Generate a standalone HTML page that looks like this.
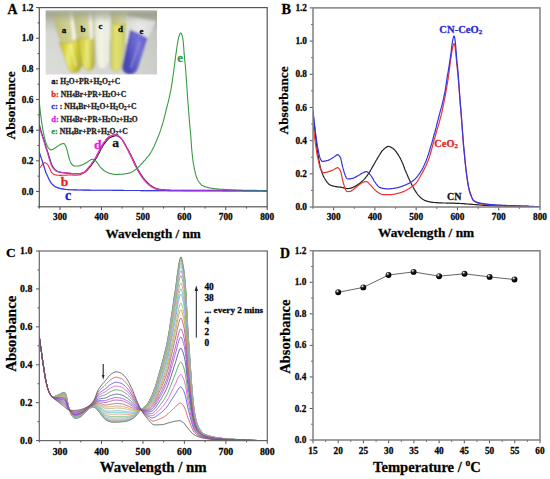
<!DOCTYPE html>
<html><head><meta charset="utf-8"><style>html,body{margin:0;padding:0;background:#fff;}svg{display:block;}text{stroke-width:0.28px;}</style></head>
<body><svg width="550" height="479" viewBox="0 0 550 479">
<rect width="550" height="479" fill="#fff"/>
<defs>
<linearGradient id="bg" x1="0" y1="0" x2="0" y2="1"><stop offset="0" stop-color="#a4a698"/><stop offset="0.18" stop-color="#b4b6aa"/><stop offset="0.35" stop-color="#cfd1cb"/><stop offset="1" stop-color="#d6d8d4"/></linearGradient>
<linearGradient id="bgx" x1="0" y1="0" x2="1" y2="0"><stop offset="0" stop-color="#ffffff" stop-opacity="0.15"/><stop offset="0.5" stop-color="#ffffff" stop-opacity="0"/><stop offset="1" stop-color="#000" stop-opacity="0.05"/></linearGradient>
<linearGradient id="yelA" x1="0" y1="0" x2="1" y2="0.25"><stop offset="0" stop-color="#bab630"/><stop offset="0.28" stop-color="#dad636"/><stop offset="0.5" stop-color="#ecea7c"/><stop offset="0.68" stop-color="#deda3c"/><stop offset="1" stop-color="#b6b236"/></linearGradient>
<linearGradient id="yelB" x1="0" y1="0" x2="1" y2="0.15"><stop offset="0" stop-color="#c2be40"/><stop offset="0.4" stop-color="#dcd84a"/><stop offset="0.6" stop-color="#e8e676"/><stop offset="1" stop-color="#bab640"/></linearGradient>
<linearGradient id="yelD" x1="0" y1="0" x2="1" y2="0"><stop offset="0" stop-color="#cccc66"/><stop offset="0.35" stop-color="#e2e272"/><stop offset="0.7" stop-color="#d6d66a"/><stop offset="1" stop-color="#acac5c"/></linearGradient>
<linearGradient id="whC" x1="0" y1="0" x2="1" y2="0"><stop offset="0" stop-color="#e6e6d4"/><stop offset="0.5" stop-color="#f4f4e8"/><stop offset="1" stop-color="#dcdccc"/></linearGradient>
<linearGradient id="bluE" x1="0" y1="0" x2="1" y2="-0.3"><stop offset="0" stop-color="#4a48b4"/><stop offset="0.3" stop-color="#6462cc"/><stop offset="0.55" stop-color="#7472d8"/><stop offset="0.8" stop-color="#6260cc"/><stop offset="1" stop-color="#5654bc"/></linearGradient>
<linearGradient id="up" x1="0" y1="0" x2="1" y2="0"><stop offset="0" stop-color="#bcbc7e"/><stop offset="0.4" stop-color="#caca88"/><stop offset="0.62" stop-color="#d2d298"/><stop offset="0.8" stop-color="#d6d6a8"/><stop offset="1" stop-color="#c2c28a"/></linearGradient>
<linearGradient id="topband" x1="0" y1="0" x2="0" y2="1"><stop offset="0" stop-color="#c8c8c0" stop-opacity="0.85"/><stop offset="0.12" stop-color="#b4b6aa" stop-opacity="0.7"/><stop offset="0.35" stop-color="#9a9c8a" stop-opacity="0.7"/><stop offset="0.6" stop-color="#a4a692" stop-opacity="0.45"/><stop offset="1" stop-color="#b0b2a0" stop-opacity="0"/></linearGradient>
<linearGradient id="upE" x1="0" y1="0" x2="1" y2="0"><stop offset="0" stop-color="#d4d4d0"/><stop offset="0.5" stop-color="#e8e8e8"/><stop offset="1" stop-color="#d8d8d8"/></linearGradient>
<filter id="soft" x="-5%" y="-5%" width="110%" height="110%"><feGaussianBlur stdDeviation="0.85"/></filter>
<clipPath id="clipPhoto"><rect x="45.6" y="10.3" width="111.4" height="64.3"/></clipPath>
</defs>
<g clip-path="url(#clipPhoto)"><g filter="url(#soft)">
<rect x="44" y="9" width="115" height="67" fill="url(#bg)"/>
<rect x="44" y="9" width="115" height="67" fill="url(#bgx)"/>
<!-- tube a -->
<path d="M52,12 L79,12 L78.5,34 L82,63 Q81,72.8 74.5,72.6 Q68.5,72.3 67.5,66 L59.5,40 L54,24 Z" fill="url(#up)"/>
<path d="M59.2,42.5 Q68,44.5 77.5,40 L82,63 Q81,72.8 74.5,72.6 Q68.5,72.3 67.5,66 Z" fill="url(#yelA)" stroke="#a09c34" stroke-width="0.8" stroke-opacity="0.6"/>
<path d="M70.5,44 L76,66" stroke="#f6f4b0" stroke-width="1.3" opacity="0.8"/>
<path d="M71.5,12 L74,40" stroke="#f6f6ee" stroke-width="3.2" opacity="0.9"/>
<!-- tube b -->
<path d="M73,12 L93,12 L94,36 L95,63 Q94.3,70.6 88.6,70.4 Q83,70.2 82.2,64 L77.5,36 L74,22 Z" fill="url(#up)"/>
<path d="M77.3,38 Q85,39.5 94,37 L95,63 Q94.3,70.6 88.6,70.4 Q83,70.2 82.2,64 Z" fill="url(#yelB)" stroke="#a09c38" stroke-width="0.8" stroke-opacity="0.6"/>
<path d="M86,42 L89.5,66" stroke="#f2f0b0" stroke-width="1" opacity="0.6"/>
<!-- tube c -->
<path d="M94,12 L110,12 L109.5,38 L108.5,61 Q107.6,68.6 102.6,68.4 Q97.8,68.2 97.4,61.5 L95.5,38 Z" fill="url(#whC)"/>
<path d="M107,12 L107.5,62" stroke="#fbfbf4" stroke-width="1.6" opacity="0.7"/>
<!-- highlight between c and d -->
<path d="M108.5,14 L111,14 L110.5,40 L109,40 Z" fill="#f4f4ee" opacity="0.8"/>
<!-- tube d -->
<path d="M111,12 L128,12 L126,36 L121.5,64 Q120.2,71.5 115.6,71.2 Q110.8,70.8 110.6,64 L111,36 Z" fill="url(#up)"/>
<path d="M111,24 Q118,26 127,23 L126,36 L121.5,64 Q120.2,71.5 115.6,71.2 Q110.8,70.8 110.6,64 L111,36 Z" fill="url(#yelD)" stroke="#a0a048" stroke-width="0.8" stroke-opacity="0.5"/>
<path d="M126,16 L131,16 L128,44 L125,44 Z" fill="#f0f0ec" opacity="0.7"/>
<path d="M88.5,12 L92.5,12 L93,39 L90,39 Z" fill="#f6f6ee" opacity="0.85"/>
<!-- tube e -->
<path d="M128,16 L156,21 L148,38.5 L137.5,69 Q135,75.5 127.5,74 Q121.5,72.5 122.5,66 L129.5,30 Z" fill="url(#upE)"/>
<path d="M130.2,30.2 Q139,33 147.2,38.4 L137.5,69 Q135,75.5 127.5,74 Q121.5,72.5 122.5,66 Z" fill="url(#bluE)" stroke="#3e3c9c" stroke-width="0.8" stroke-opacity="0.5"/>
<path d="M139.5,41.5 L130.8,68" stroke="#b0b0ec" stroke-width="1" opacity="0.8"/>
<rect x="44" y="9" width="115" height="14" fill="url(#topband)"/>
</g></g>
<text x="64" y="32.6" text-anchor="middle" font-size="9" font-family="Liberation Serif" font-weight="bold" stroke="#111">a</text>
<text x="83" y="32.2" text-anchor="middle" font-size="9" font-family="Liberation Serif" font-weight="bold" stroke="#111">b</text>
<text x="100.6" y="29.2" text-anchor="middle" font-size="9" font-family="Liberation Serif" font-weight="bold" stroke="#111">c</text>
<text x="120.4" y="32.2" text-anchor="middle" font-size="9" font-family="Liberation Serif" font-weight="bold" stroke="#111">d</text>
<text x="141.4" y="33.6" text-anchor="middle" font-size="9" font-family="Liberation Serif" font-weight="bold" stroke="#111">e</text>
<text x="51.2" y="84.0" font-size="8.6" font-family="Liberation Serif" font-weight="bold" stroke="#111"><tspan fill="#111" stroke="#111">a:</tspan><tspan font-size="7.6" fill="#222" stroke="#222"> H<tspan font-size="5.2" dy="0.5">2</tspan><tspan dy="-0.5">O+PR+H</tspan><tspan font-size="5.2" dy="0.5">2</tspan><tspan dy="-0.5">O</tspan><tspan font-size="5.2" dy="0.5">2</tspan><tspan dy="-0.5">+C</tspan></tspan></text>
<text x="51.2" y="96.8" font-size="8.6" font-family="Liberation Serif" font-weight="bold" stroke="#111"><tspan fill="#e8252a" stroke="#e8252a">b:</tspan><tspan font-size="7.6" fill="#222" stroke="#222"> NH<tspan font-size="5.2" dy="0.5">4</tspan><tspan dy="-0.5">Br+PR+H</tspan><tspan font-size="5.2" dy="0.5">2</tspan><tspan dy="-0.5">O+C</tspan></tspan></text>
<text x="51.2" y="109.2" font-size="8.6" font-family="Liberation Serif" font-weight="bold" stroke="#111"><tspan fill="#1e2ee8" stroke="#1e2ee8">c:</tspan><tspan font-size="7.6" fill="#222" stroke="#222"> : NH<tspan font-size="5.2" dy="0.5">4</tspan><tspan dy="-0.5">Br+H</tspan><tspan font-size="5.2" dy="0.5">2</tspan><tspan dy="-0.5">O+H</tspan><tspan font-size="5.2" dy="0.5">2</tspan><tspan dy="-0.5">O</tspan><tspan font-size="5.2" dy="0.5">2</tspan><tspan dy="-0.5">+C</tspan></tspan></text>
<text x="51.2" y="121.6" font-size="8.6" font-family="Liberation Serif" font-weight="bold" stroke="#111"><tspan fill="#e020e8" stroke="#e020e8">d:</tspan><tspan font-size="7.6" fill="#222" stroke="#222"> NH<tspan font-size="5.2" dy="0.5">4</tspan><tspan dy="-0.5">Br+PR+H</tspan><tspan font-size="5.2" dy="0.5">2</tspan><tspan dy="-0.5">O</tspan><tspan font-size="5.2" dy="0.5">2</tspan><tspan dy="-0.5">+H</tspan><tspan font-size="5.2" dy="0.5">2</tspan><tspan dy="-0.5">O</tspan></tspan></text>
<text x="51.2" y="134.3" font-size="8.6" font-family="Liberation Serif" font-weight="bold" stroke="#111"><tspan fill="#2a9a3a" stroke="#2a9a3a">e:</tspan><tspan font-size="7.6" fill="#222" stroke="#222"> NH<tspan font-size="5.2" dy="0.5">4</tspan><tspan dy="-0.5">Br+PR+H</tspan><tspan font-size="5.2" dy="0.5">2</tspan><tspan dy="-0.5">O</tspan><tspan font-size="5.2" dy="0.5">2</tspan><tspan dy="-0.5">+C</tspan></tspan></text>
<g clip-path="url(#clipA)">
<path d="M39.3,151.9 39.7,153.3 40.1,154.6 40.5,155.9 41.0,157.1 41.4,158.4 41.8,159.6 42.2,160.8 42.6,162.0 43.0,163.3 43.4,164.6 43.9,166.1 44.3,167.5 44.7,168.8 45.1,170.1 45.5,171.3 45.9,172.5 46.3,173.5 46.8,174.5 47.2,175.4 47.6,176.3 48.0,177.1 48.4,178.0 48.8,178.9 49.2,179.8 49.7,180.6 50.1,181.4 50.5,182.0 50.9,182.6 51.3,183.1 51.7,183.6 52.1,184.1 52.6,184.6 53.0,185.0 53.4,185.3 53.8,185.7 54.2,185.9 54.6,186.2 55.0,186.5 55.5,186.7 55.9,186.9 56.3,187.1 56.7,187.3 57.1,187.5 57.5,187.7 57.9,187.8 58.4,188.0 58.8,188.1 59.2,188.2 59.6,188.3 60.0,188.4 60.4,188.5 60.8,188.6 61.3,188.7 61.7,188.8 62.1,188.9 62.5,188.9 62.9,189.0 63.3,189.1 63.7,189.1 64.2,189.2 64.6,189.3 65.0,189.3 65.4,189.4 65.8,189.4 66.2,189.5 66.6,189.5 67.1,189.5 67.5,189.5 67.9,189.6 68.3,189.6 68.7,189.6 69.1,189.7 69.5,189.7 70.0,189.7 70.4,189.7 70.8,189.7 71.2,189.8 71.6,189.8 72.0,189.8 72.4,189.8 72.9,189.8 73.3,189.8 73.7,189.9 74.1,189.9 74.5,189.9 74.9,189.9 75.3,189.9 75.8,189.9 76.2,189.9 76.6,189.9 77.0,190.0 77.4,190.0 77.8,190.0 78.3,190.0 78.7,190.0 79.1,190.0 79.5,190.0 79.9,190.0 80.3,190.0 80.7,190.0 81.2,190.0 81.6,190.0 82.0,190.0 82.4,190.0 82.8,190.1 83.2,190.1 83.6,190.1 84.1,190.1 84.5,190.1 84.9,190.1 85.3,190.1 85.7,190.1 86.1,190.1 86.5,190.1 87.0,190.1 87.4,190.1 87.8,190.1 88.2,190.1 88.6,190.1 89.0,190.1 89.4,190.1 89.9,190.1 90.3,190.1 90.7,190.2 91.1,190.2 91.5,190.2 91.9,190.2 92.3,190.2 92.8,190.2 93.2,190.2 93.6,190.2 94.0,190.2 94.4,190.2 94.8,190.2 95.2,190.2 95.7,190.2 96.1,190.2 96.5,190.2 96.9,190.2 97.3,190.2 97.7,190.2 98.1,190.2 98.6,190.2 99.0,190.2 99.4,190.2 99.8,190.2 100.2,190.2 100.6,190.2 101.0,190.2 101.5,190.3 101.9,190.3 102.3,190.3 102.7,190.3 103.1,190.3 103.5,190.3 103.9,190.3 104.4,190.3 104.8,190.3 105.2,190.3 105.6,190.3 106.0,190.3 106.4,190.3 106.8,190.3 107.3,190.3 107.7,190.3 108.1,190.3 108.5,190.3 108.9,190.3 109.3,190.3 109.7,190.3 110.2,190.3 110.6,190.3 111.0,190.3 111.4,190.3 111.8,190.3 112.2,190.4 112.6,190.4 113.1,190.4 113.5,190.4 113.9,190.4 114.3,190.4 114.7,190.4 115.1,190.4 115.5,190.4 116.0,190.4 116.4,190.4 116.8,190.4 117.2,190.4 117.6,190.4 118.0,190.4 118.4,190.4 118.9,190.4 119.3,190.4 119.7,190.4 120.1,190.4 120.5,190.4 120.9,190.4 121.3,190.4 121.8,190.4 122.2,190.4 122.6,190.4 123.0,190.4 123.4,190.4 123.8,190.5 124.2,190.5 124.7,190.5 125.1,190.5 125.5,190.5 125.9,190.5 126.3,190.5 126.7,190.5 127.1,190.5 127.6,190.5 128.0,190.5 128.4,190.5 128.8,190.5 129.2,190.5 129.6,190.5 130.0,190.5 130.5,190.5 130.9,190.5 131.3,190.5 131.7,190.5 132.1,190.5 132.5,190.5 132.9,190.5 133.4,190.5 133.8,190.5 134.2,190.5 134.6,190.5 135.0,190.5 135.4,190.5 135.8,190.5 136.3,190.5 136.7,190.5 137.1,190.5 137.5,190.5 137.9,190.5 138.3,190.5 138.7,190.5 139.2,190.5 139.6,190.5 140.0,190.5 140.4,190.5 140.8,190.6 141.2,190.6 141.6,190.6 142.1,190.6 142.5,190.6 142.9,190.6 143.3,190.6 143.7,190.6 144.1,190.6 144.5,190.6 145.0,190.6 145.4,190.6 145.8,190.6 146.2,190.6 146.6,190.6 147.0,190.6 147.4,190.6 147.9,190.6 148.3,190.6 148.7,190.6 149.1,190.6 149.5,190.6 149.9,190.6 150.3,190.6 150.8,190.6 151.2,190.6 151.6,190.6 152.0,190.6 152.4,190.6 152.8,190.6 153.2,190.6 153.7,190.6 154.1,190.6 154.5,190.6 154.9,190.6 155.3,190.6 155.7,190.6 156.2,190.6 156.6,190.6 157.0,190.6 157.4,190.6 157.8,190.6 158.2,190.6 158.6,190.6 159.1,190.6 159.5,190.6 159.9,190.6 160.3,190.6 160.7,190.6 161.1,190.6 161.5,190.6 162.0,190.6 162.4,190.6 162.8,190.6 163.2,190.6 163.6,190.6 164.0,190.6 164.4,190.6 164.9,190.6 165.3,190.6 165.7,190.6 166.1,190.6 166.5,190.6 166.9,190.6 167.3,190.6 167.8,190.6 168.2,190.6 168.6,190.6 169.0,190.6 169.4,190.6 169.8,190.6 170.2,190.6 170.7,190.6 171.1,190.6 171.5,190.6 171.9,190.6 172.3,190.6 172.7,190.6 173.1,190.6 173.6,190.6 174.0,190.6 174.4,190.6 174.8,190.6 175.2,190.6 175.6,190.6 176.0,190.6 176.5,190.6 176.9,190.6 177.3,190.6 177.7,190.6 178.1,190.6 178.5,190.6 178.9,190.6 179.4,190.6 179.8,190.6 180.2,190.6 180.6,190.6 181.0,190.6 181.4,190.6 181.8,190.6 182.3,190.6 182.7,190.6 183.1,190.6 183.5,190.6 183.9,190.6 184.3,190.6 184.7,190.6 185.2,190.6 185.6,190.6 186.0,190.6 186.4,190.6 186.8,190.6 187.2,190.6 187.6,190.6 188.1,190.6 188.5,190.6 188.9,190.6 189.3,190.6 189.7,190.6 190.1,190.6 190.5,190.6 191.0,190.6 191.4,190.6 191.8,190.7 192.2,190.7 192.6,190.7 193.0,190.7 193.4,190.7 193.9,190.7 194.3,190.7 194.7,190.7 195.1,190.7 195.5,190.7 195.9,190.7 196.3,190.7 196.8,190.7 197.2,190.7 197.6,190.7 198.0,190.7 198.4,190.7 198.8,190.7 199.2,190.7 199.7,190.7 200.1,190.7 200.5,190.7 200.9,190.7 201.3,190.7 201.7,190.7 202.1,190.7 202.6,190.7 203.0,190.7 203.4,190.7 203.8,190.7 204.2,190.7 204.6,190.7 205.0,190.7 205.5,190.7 205.9,190.7 206.3,190.7 206.7,190.7 207.1,190.7 207.5,190.7 207.9,190.7 208.4,190.7 208.8,190.7 209.2,190.7 209.6,190.7 210.0,190.7 210.4,190.7 210.8,190.7 211.3,190.7 211.7,190.7 212.1,190.7 212.5,190.7 212.9,190.7 213.3,190.7 213.7,190.7 214.2,190.7 214.6,190.7 215.0,190.7 215.4,190.7 215.8,190.7 216.2,190.7 216.6,190.7 217.1,190.7 217.5,190.7 217.9,190.7 218.3,190.7 218.7,190.7 219.1,190.7 219.5,190.7 220.0,190.7 220.4,190.7 220.8,190.7 221.2,190.7 221.6,190.7 222.0,190.7 222.4,190.7 222.9,190.7 223.3,190.7 223.7,190.7 224.1,190.7 224.5,190.7 224.9,190.7 225.3,190.7 225.8,190.7 226.2,190.7 226.6,190.7 227.0,190.7 227.4,190.7 227.8,190.7 228.2,190.7 228.7,190.7 229.1,190.7 229.5,190.7 229.9,190.7 230.3,190.7 230.7,190.8 231.2,190.8 231.6,190.8 232.0,190.8 232.4,190.8 232.8,190.8 233.2,190.8 233.6,190.8 234.1,190.8 234.5,190.8 234.9,190.8 235.3,190.8 235.7,190.8 236.1,190.8 236.5,190.8 237.0,190.8 237.4,190.8 237.8,190.8 238.2,190.8 238.6,190.8 239.0,190.8 239.4,190.8 239.9,190.8 240.3,190.8 240.7,190.8 241.1,190.8 241.5,190.8 241.9,190.8 242.3,190.8 242.8,190.8 243.2,190.8 243.6,190.8 244.0,190.8 244.4,190.8 244.8,190.8 245.2,190.8 245.7,190.8 246.1,190.8 246.5,190.8 246.9,190.8 247.3,190.8 247.7,190.8 248.1,190.8 248.6,190.8 249.0,190.8 249.4,190.8 249.8,190.8 250.2,190.8 250.6,190.8 251.0,190.8 251.5,190.8 251.9,190.8 252.3,190.8 252.7,190.8 253.1,190.8 253.5,190.8 253.9,190.8 254.4,190.8 254.8,190.8 255.2,190.8 255.6,190.8 256.0,190.8 256.4,190.8 256.8,190.8 257.3,190.8 257.7,190.8 258.1,190.8 258.5,190.8 258.9,190.8 259.3,190.8 259.7,190.8 260.2,190.8 260.6,190.8 261.0,190.8 261.4,190.8 261.8,190.8 262.2,190.8 262.6,190.8 263.1,190.9 263.5,190.9 263.9,190.9 264.3,190.9 264.7,190.9 265.1,190.9 265.5,190.9 266.0,190.9 266.4,190.9 266.8,190.9 267.2,190.9" fill="none" stroke="#3a3ae8" stroke-width="1.1" stroke-linejoin="round" />
<path d="M39.3,124.3 39.7,126.0 40.1,127.7 40.5,129.3 41.0,130.9 41.4,132.4 41.8,133.8 42.2,135.0 42.6,136.2 43.0,137.3 43.4,138.5 43.9,139.7 44.3,141.1 44.7,142.5 45.1,143.9 45.5,145.3 45.9,146.6 46.3,147.9 46.8,149.1 47.2,150.4 47.6,151.6 48.0,152.9 48.4,154.2 48.8,155.6 49.2,157.0 49.7,158.3 50.1,159.6 50.5,160.9 50.9,162.3 51.3,163.6 51.7,164.7 52.1,165.6 52.6,166.4 53.0,167.0 53.4,167.6 53.8,168.2 54.2,168.7 54.6,169.2 55.0,169.6 55.5,170.1 55.9,170.5 56.3,170.8 56.7,171.1 57.1,171.3 57.5,171.5 57.9,171.7 58.4,171.8 58.8,171.9 59.2,172.0 59.6,172.1 60.0,172.2 60.4,172.3 60.8,172.4 61.3,172.4 61.7,172.5 62.1,172.6 62.5,172.6 62.9,172.7 63.3,172.8 63.7,172.8 64.2,172.8 64.6,172.9 65.0,172.9 65.4,173.0 65.8,173.0 66.2,173.0 66.6,173.1 67.1,173.1 67.5,173.1 67.9,173.1 68.3,173.2 68.7,173.2 69.1,173.2 69.5,173.3 70.0,173.3 70.4,173.4 70.8,173.4 71.2,173.5 71.6,173.5 72.0,173.6 72.4,173.6 72.9,173.7 73.3,173.7 73.7,173.7 74.1,173.8 74.5,173.8 74.9,173.8 75.3,173.8 75.8,173.8 76.2,173.8 76.6,173.8 77.0,173.8 77.4,173.8 77.8,173.8 78.3,173.8 78.7,173.8 79.1,173.7 79.5,173.7 79.9,173.7 80.3,173.6 80.7,173.6 81.2,173.5 81.6,173.4 82.0,173.3 82.4,173.2 82.8,173.1 83.2,172.9 83.6,172.8 84.1,172.6 84.5,172.4 84.9,172.2 85.3,171.9 85.7,171.5 86.1,171.1 86.5,170.7 87.0,170.3 87.4,169.9 87.8,169.4 88.2,168.9 88.6,168.5 89.0,168.0 89.4,167.5 89.9,167.1 90.3,166.6 90.7,166.1 91.1,165.6 91.5,165.0 91.9,164.5 92.3,163.9 92.8,163.3 93.2,162.7 93.6,162.1 94.0,161.5 94.4,160.9 94.8,160.3 95.2,159.7 95.7,159.1 96.1,158.4 96.5,157.7 96.9,157.0 97.3,156.3 97.7,155.5 98.1,154.8 98.6,154.0 99.0,153.2 99.4,152.4 99.8,151.6 100.2,150.8 100.6,150.0 101.0,149.2 101.5,148.4 101.9,147.7 102.3,146.9 102.7,146.2 103.1,145.5 103.5,144.9 103.9,144.3 104.4,143.7 104.8,143.2 105.2,142.7 105.6,142.1 106.0,141.6 106.4,141.1 106.8,140.6 107.3,140.1 107.7,139.6 108.1,139.2 108.5,138.8 108.9,138.4 109.3,138.1 109.7,137.8 110.2,137.5 110.6,137.3 111.0,137.2 111.4,137.0 111.8,136.8 112.2,136.7 112.6,136.5 113.1,136.4 113.5,136.2 113.9,136.1 114.3,136.0 114.7,135.9 115.1,135.8 115.5,135.8 116.0,135.8 116.4,135.7 116.8,135.8 117.2,135.9 117.6,136.0 118.0,136.2 118.4,136.4 118.9,136.7 119.3,137.0 119.7,137.3 120.1,137.6 120.5,137.9 120.9,138.2 121.3,138.6 121.8,139.0 122.2,139.5 122.6,140.1 123.0,140.7 123.4,141.3 123.8,142.0 124.2,142.8 124.7,143.5 125.1,144.2 125.5,145.0 125.9,145.8 126.3,146.5 126.7,147.3 127.1,148.0 127.6,148.7 128.0,149.5 128.4,150.2 128.8,151.0 129.2,151.8 129.6,152.6 130.0,153.4 130.5,154.2 130.9,155.0 131.3,155.8 131.7,156.7 132.1,157.5 132.5,158.3 132.9,159.2 133.4,160.1 133.8,160.9 134.2,161.8 134.6,162.7 135.0,163.5 135.4,164.4 135.8,165.2 136.3,166.1 136.7,166.9 137.1,167.7 137.5,168.5 137.9,169.3 138.3,170.1 138.7,170.8 139.2,171.5 139.6,172.2 140.0,172.8 140.4,173.5 140.8,174.1 141.2,174.8 141.6,175.4 142.1,176.0 142.5,176.6 142.9,177.2 143.3,177.8 143.7,178.3 144.1,178.9 144.5,179.4 145.0,179.9 145.4,180.3 145.8,180.8 146.2,181.2 146.6,181.7 147.0,182.1 147.4,182.5 147.9,182.9 148.3,183.3 148.7,183.7 149.1,184.1 149.5,184.4 149.9,184.8 150.3,185.1 150.8,185.4 151.2,185.7 151.6,186.0 152.0,186.2 152.4,186.5 152.8,186.7 153.2,187.0 153.7,187.2 154.1,187.4 154.5,187.7 154.9,187.9 155.3,188.1 155.7,188.2 156.2,188.4 156.6,188.5 157.0,188.7 157.4,188.8 157.8,188.9 158.2,189.0 158.6,189.1 159.1,189.2 159.5,189.2 159.9,189.3 160.3,189.4 160.7,189.5 161.1,189.5 161.5,189.6 162.0,189.6 162.4,189.7 162.8,189.7 163.2,189.8 163.6,189.8 164.0,189.9 164.4,189.9 164.9,189.9 165.3,190.0 165.7,190.0 166.1,190.0 166.5,190.0 166.9,190.1 167.3,190.1 167.8,190.1 168.2,190.1 168.6,190.1 169.0,190.1 169.4,190.1 169.8,190.1 170.2,190.2 170.7,190.2 171.1,190.2 171.5,190.2 171.9,190.2 172.3,190.2 172.7,190.2 173.1,190.2 173.6,190.2 174.0,190.2 174.4,190.2 174.8,190.2 175.2,190.2 175.6,190.2 176.0,190.2 176.5,190.2 176.9,190.2 177.3,190.2 177.7,190.2 178.1,190.2 178.5,190.2 178.9,190.2 179.4,190.2 179.8,190.2 180.2,190.2 180.6,190.3 181.0,190.3 181.4,190.3 181.8,190.3 182.3,190.3 182.7,190.3 183.1,190.3 183.5,190.3 183.9,190.3 184.3,190.3 184.7,190.3 185.2,190.3 185.6,190.3 186.0,190.3 186.4,190.3 186.8,190.3 187.2,190.3 187.6,190.3 188.1,190.3 188.5,190.3 188.9,190.3 189.3,190.3 189.7,190.3 190.1,190.3 190.5,190.3 191.0,190.3 191.4,190.3 191.8,190.3 192.2,190.3 192.6,190.3 193.0,190.3 193.4,190.3 193.9,190.3 194.3,190.3 194.7,190.3 195.1,190.3 195.5,190.3 195.9,190.3 196.3,190.3 196.8,190.3 197.2,190.3 197.6,190.3 198.0,190.3 198.4,190.3 198.8,190.3 199.2,190.3 199.7,190.3 200.1,190.3 200.5,190.3 200.9,190.3 201.3,190.3 201.7,190.3 202.1,190.3 202.6,190.3 203.0,190.3 203.4,190.3 203.8,190.3 204.2,190.3 204.6,190.3 205.0,190.3 205.5,190.3 205.9,190.3 206.3,190.4 206.7,190.4 207.1,190.4 207.5,190.4 207.9,190.4 208.4,190.4 208.8,190.4 209.2,190.4 209.6,190.4 210.0,190.4 210.4,190.4 210.8,190.4 211.3,190.4 211.7,190.4 212.1,190.4 212.5,190.4 212.9,190.4 213.3,190.4 213.7,190.4 214.2,190.4 214.6,190.4 215.0,190.4 215.4,190.4 215.8,190.4 216.2,190.4 216.6,190.4 217.1,190.4 217.5,190.4 217.9,190.4 218.3,190.4 218.7,190.4 219.1,190.4 219.5,190.4 220.0,190.4 220.4,190.4 220.8,190.4 221.2,190.4 221.6,190.4 222.0,190.4 222.4,190.4 222.9,190.4 223.3,190.4 223.7,190.4 224.1,190.4 224.5,190.4 224.9,190.4 225.3,190.4 225.8,190.4 226.2,190.4 226.6,190.4 227.0,190.4 227.4,190.4 227.8,190.4 228.2,190.4 228.7,190.4 229.1,190.4 229.5,190.4 229.9,190.4 230.3,190.4 230.7,190.4 231.2,190.5 231.6,190.5 232.0,190.5 232.4,190.5 232.8,190.5 233.2,190.5 233.6,190.5 234.1,190.5 234.5,190.5 234.9,190.5 235.3,190.5 235.7,190.5 236.1,190.5 236.5,190.5 237.0,190.5 237.4,190.5 237.8,190.5 238.2,190.5 238.6,190.5 239.0,190.5 239.4,190.5 239.9,190.5 240.3,190.5 240.7,190.5 241.1,190.5 241.5,190.5 241.9,190.5 242.3,190.5 242.8,190.6 243.2,190.6 243.6,190.6 244.0,190.6 244.4,190.6 244.8,190.6 245.2,190.6 245.7,190.6 246.1,190.6 246.5,190.6 246.9,190.6 247.3,190.6 247.7,190.6 248.1,190.6 248.6,190.6 249.0,190.6 249.4,190.6 249.8,190.6 250.2,190.6 250.6,190.6 251.0,190.6 251.5,190.7 251.9,190.7 252.3,190.7 252.7,190.7 253.1,190.7 253.5,190.7 253.9,190.7 254.4,190.7 254.8,190.7 255.2,190.7 255.6,190.7 256.0,190.7 256.4,190.7 256.8,190.7 257.3,190.7 257.7,190.7 258.1,190.7 258.5,190.7 258.9,190.7 259.3,190.8 259.7,190.8 260.2,190.8 260.6,190.8 261.0,190.8 261.4,190.8 261.8,190.8 262.2,190.8 262.6,190.8 263.1,190.8 263.5,190.8 263.9,190.8 264.3,190.8 264.7,190.8 265.1,190.8 265.5,190.8 266.0,190.8 266.4,190.9 266.8,190.9 267.2,190.9" fill="none" stroke="#222" stroke-width="1.1" stroke-linejoin="round" />
<path d="M39.3,168.5 39.7,167.9 40.1,167.4 40.5,166.8 41.0,166.3 41.4,165.7 41.8,165.2 42.2,164.6 42.6,164.0 43.0,163.6 43.4,163.3 43.9,163.0 44.3,162.8 44.7,162.7 45.1,162.7 45.5,162.9 45.9,163.1 46.3,163.3 46.8,163.6 47.2,164.0 47.6,164.5 48.0,165.1 48.4,165.8 48.8,166.7 49.2,167.6 49.7,168.5 50.1,169.4 50.5,170.3 50.9,171.2 51.3,171.9 51.7,172.4 52.1,172.9 52.6,173.4 53.0,173.7 53.4,174.0 53.8,174.2 54.2,174.4 54.6,174.6 55.0,174.7 55.5,174.8 55.9,174.9 56.3,175.0 56.7,175.1 57.1,175.1 57.5,175.2 57.9,175.3 58.4,175.3 58.8,175.3 59.2,175.4 59.6,175.4 60.0,175.4 60.4,175.4 60.8,175.4 61.3,175.4 61.7,175.4 62.1,175.3 62.5,175.3 62.9,175.3 63.3,175.3 63.7,175.3 64.2,175.2 64.6,175.2 65.0,175.2 65.4,175.2 65.8,175.1 66.2,175.1 66.6,175.1 67.1,175.1 67.5,175.0 67.9,175.0 68.3,175.0 68.7,175.0 69.1,175.0 69.5,174.9 70.0,174.9 70.4,174.9 70.8,174.9 71.2,174.9 71.6,175.0 72.0,175.0 72.4,175.0 72.9,175.1 73.3,175.1 73.7,175.2 74.1,175.2 74.5,175.2 74.9,175.2 75.3,175.2 75.8,175.2 76.2,175.2 76.6,175.2 77.0,175.1 77.4,175.1 77.8,175.1 78.3,175.0 78.7,175.0 79.1,174.9 79.5,174.9 79.9,174.8 80.3,174.6 80.7,174.4 81.2,174.3 81.6,174.0 82.0,173.8 82.4,173.6 82.8,173.3 83.2,173.1 83.6,172.8 84.1,172.5 84.5,172.2 84.9,171.8 85.3,171.4 85.7,171.0 86.1,170.5 86.5,170.0 87.0,169.6 87.4,169.1 87.8,168.6 88.2,168.1 88.6,167.6 89.0,167.1 89.4,166.6 89.9,166.1 90.3,165.6 90.7,165.0 91.1,164.5 91.5,163.9 91.9,163.3 92.3,162.7 92.8,162.1 93.2,161.5 93.6,160.9 94.0,160.3 94.4,159.6 94.8,159.0 95.2,158.3 95.7,157.6 96.1,156.9 96.5,156.2 96.9,155.4 97.3,154.6 97.7,153.8 98.1,153.0 98.6,152.2 99.0,151.3 99.4,150.5 99.8,149.7 100.2,148.9 100.6,148.1 101.0,147.3 101.5,146.6 101.9,145.8 102.3,145.1 102.7,144.5 103.1,143.8 103.5,143.2 103.9,142.7 104.4,142.1 104.8,141.6 105.2,141.1 105.6,140.5 106.0,140.0 106.4,139.5 106.8,139.0 107.3,138.6 107.7,138.2 108.1,137.8 108.5,137.4 108.9,137.1 109.3,136.8 109.7,136.6 110.2,136.4 110.6,136.3 111.0,136.1 111.4,135.9 111.8,135.7 112.2,135.6 112.6,135.4 113.1,135.3 113.5,135.2 113.9,135.1 114.3,135.0 114.7,135.0 115.1,134.9 115.5,134.9 116.0,135.0 116.4,135.1 116.8,135.2 117.2,135.4 117.6,135.6 118.0,135.8 118.4,136.1 118.9,136.4 119.3,136.7 119.7,137.1 120.1,137.4 120.5,137.8 120.9,138.2 121.3,138.7 121.8,139.3 122.2,139.9 122.6,140.5 123.0,141.2 123.4,142.0 123.8,142.7 124.2,143.5 124.7,144.3 125.1,145.1 125.5,145.8 125.9,146.6 126.3,147.3 126.7,148.1 127.1,148.9 127.6,149.6 128.0,150.4 128.4,151.3 128.8,152.1 129.2,152.9 129.6,153.7 130.0,154.5 130.5,155.4 130.9,156.2 131.3,157.1 131.7,157.9 132.1,158.8 132.5,159.7 132.9,160.5 133.4,161.4 133.8,162.3 134.2,163.2 134.6,164.1 135.0,164.9 135.4,165.8 135.8,166.6 136.3,167.5 136.7,168.3 137.1,169.1 137.5,169.8 137.9,170.6 138.3,171.3 138.7,172.0 139.2,172.7 139.6,173.4 140.0,174.0 140.4,174.7 140.8,175.3 141.2,176.0 141.6,176.6 142.1,177.2 142.5,177.8 142.9,178.3 143.3,178.9 143.7,179.4 144.1,179.9 144.5,180.4 145.0,180.9 145.4,181.4 145.8,181.8 146.2,182.3 146.6,182.7 147.0,183.1 147.4,183.5 147.9,183.9 148.3,184.3 148.7,184.6 149.1,185.0 149.5,185.3 149.9,185.6 150.3,185.9 150.8,186.2 151.2,186.5 151.6,186.8 152.0,187.0 152.4,187.3 152.8,187.5 153.2,187.8 153.7,188.0 154.1,188.2 154.5,188.4 154.9,188.6 155.3,188.7 155.7,188.9 156.2,189.0 156.6,189.1 157.0,189.3 157.4,189.4 157.8,189.5 158.2,189.6 158.6,189.6 159.1,189.7 159.5,189.8 159.9,189.9 160.3,189.9 160.7,190.0 161.1,190.0 161.5,190.1 162.0,190.1 162.4,190.2 162.8,190.2 163.2,190.3 163.6,190.3 164.0,190.3 164.4,190.4 164.9,190.4 165.3,190.4 165.7,190.5 166.1,190.5 166.5,190.5 166.9,190.5 167.3,190.5 167.8,190.6 168.2,190.6 168.6,190.6 169.0,190.6 169.4,190.6 169.8,190.6 170.2,190.6 170.7,190.6 171.1,190.6 171.5,190.6 171.9,190.6 172.3,190.6 172.7,190.6 173.1,190.6 173.6,190.6 174.0,190.6 174.4,190.6 174.8,190.7 175.2,190.7 175.6,190.7 176.0,190.7 176.5,190.7 176.9,190.7 177.3,190.7 177.7,190.7 178.1,190.7 178.5,190.7 178.9,190.7 179.4,190.7 179.8,190.7 180.2,190.7 180.6,190.7 181.0,190.7 181.4,190.7 181.8,190.7 182.3,190.7 182.7,190.7 183.1,190.7 183.5,190.7 183.9,190.7 184.3,190.7 184.7,190.7 185.2,190.7 185.6,190.7 186.0,190.7 186.4,190.7 186.8,190.7 187.2,190.7 187.6,190.7 188.1,190.7 188.5,190.7 188.9,190.7 189.3,190.7 189.7,190.7 190.1,190.7 190.5,190.7 191.0,190.7 191.4,190.7 191.8,190.7 192.2,190.7 192.6,190.8 193.0,190.8 193.4,190.8 193.9,190.8 194.3,190.8 194.7,190.8 195.1,190.8 195.5,190.8 195.9,190.8 196.3,190.8 196.8,190.8 197.2,190.8 197.6,190.8 198.0,190.8 198.4,190.8 198.8,190.8 199.2,190.8 199.7,190.8 200.1,190.8 200.5,190.8 200.9,190.8 201.3,190.8 201.7,190.8 202.1,190.8 202.6,190.8 203.0,190.8 203.4,190.8 203.8,190.8 204.2,190.8 204.6,190.8 205.0,190.8 205.5,190.8 205.9,190.8 206.3,190.8 206.7,190.8 207.1,190.8 207.5,190.8 207.9,190.8 208.4,190.8 208.8,190.8 209.2,190.8 209.6,190.8 210.0,190.8 210.4,190.8 210.8,190.8 211.3,190.8 211.7,190.8 212.1,190.8 212.5,190.8 212.9,190.8 213.3,190.8 213.7,190.8 214.2,190.8 214.6,190.8 215.0,190.8 215.4,190.8 215.8,190.8 216.2,190.8 216.6,190.8 217.1,190.8 217.5,190.8 217.9,190.8 218.3,190.8 218.7,190.8 219.1,190.8 219.5,190.8 220.0,190.8 220.4,190.8 220.8,190.8 221.2,190.8 221.6,190.8 222.0,190.9 222.4,190.9 222.9,190.9 223.3,190.9 223.7,190.9 224.1,190.9 224.5,190.9 224.9,190.9 225.3,190.9 225.8,190.9 226.2,190.9 226.6,190.9 227.0,190.9 227.4,190.9 227.8,190.9 228.2,190.9 228.7,190.9 229.1,190.9 229.5,190.9 229.9,190.9 230.3,190.9 230.7,190.9 231.2,190.9 231.6,190.9 232.0,190.9 232.4,190.9 232.8,190.9 233.2,190.9 233.6,190.9 234.1,190.9 234.5,190.9 234.9,190.9 235.3,190.9 235.7,190.9 236.1,190.9 236.5,190.9 237.0,190.9 237.4,190.9 237.8,190.9 238.2,190.9 238.6,190.9 239.0,190.9 239.4,190.9 239.9,190.9 240.3,190.9 240.7,190.9 241.1,190.9 241.5,190.9 241.9,190.9 242.3,190.9 242.8,190.9 243.2,190.9 243.6,190.9 244.0,190.9 244.4,190.9 244.8,190.9 245.2,190.9 245.7,190.9 246.1,190.9 246.5,190.9 246.9,190.9 247.3,190.9 247.7,190.9 248.1,190.9 248.6,190.9 249.0,190.9 249.4,191.0 249.8,191.0 250.2,191.0 250.6,191.0 251.0,191.0 251.5,191.0 251.9,191.0 252.3,191.0 252.7,191.0 253.1,191.0 253.5,191.0 253.9,191.0 254.4,191.0 254.8,191.0 255.2,191.0 255.6,191.0 256.0,191.0 256.4,191.0 256.8,191.0 257.3,191.0 257.7,191.0 258.1,191.0 258.5,191.0 258.9,191.0 259.3,191.0 259.7,191.0 260.2,191.0 260.6,191.0 261.0,191.0 261.4,191.0 261.8,191.0 262.2,191.0 262.6,191.0 263.1,191.0 263.5,191.0 263.9,191.0 264.3,191.0 264.7,191.0 265.1,191.0 265.5,191.0 266.0,191.0 266.4,191.0 266.8,191.0 267.2,191.0" fill="none" stroke="#e83535" stroke-width="1.1" stroke-linejoin="round" />
<path d="M39.3,126.0 39.7,127.7 40.1,129.4 40.5,130.9 41.0,132.3 41.4,133.6 41.8,134.9 42.2,136.0 42.6,137.2 43.0,138.5 43.4,139.8 43.9,141.2 44.3,142.7 44.7,144.1 45.1,145.5 45.5,146.8 45.9,148.1 46.3,149.4 46.8,150.6 47.2,151.9 47.6,153.3 48.0,154.7 48.4,156.1 48.8,157.5 49.2,158.8 49.7,160.2 50.1,161.6 50.5,162.9 50.9,164.1 51.3,165.1 51.7,165.9 52.1,166.6 52.6,167.2 53.0,167.8 53.4,168.3 53.8,168.8 54.2,169.3 54.6,169.7 55.0,170.2 55.5,170.5 55.9,170.9 56.3,171.1 56.7,171.3 57.1,171.4 57.5,171.6 57.9,171.7 58.4,171.8 58.8,171.9 59.2,172.0 59.6,172.1 60.0,172.2 60.4,172.3 60.8,172.3 61.3,172.4 61.7,172.5 62.1,172.5 62.5,172.6 62.9,172.6 63.3,172.7 63.7,172.7 64.2,172.8 64.6,172.8 65.0,172.8 65.4,172.9 65.8,172.9 66.2,172.9 66.6,173.0 67.1,173.0 67.5,173.0 67.9,173.1 68.3,173.1 68.7,173.1 69.1,173.2 69.5,173.2 70.0,173.3 70.4,173.3 70.8,173.4 71.2,173.4 71.6,173.5 72.0,173.5 72.4,173.6 72.9,173.6 73.3,173.6 73.7,173.7 74.1,173.7 74.5,173.7 74.9,173.7 75.3,173.7 75.8,173.7 76.2,173.7 76.6,173.7 77.0,173.7 77.4,173.6 77.8,173.6 78.3,173.6 78.7,173.6 79.1,173.5 79.5,173.5 79.9,173.5 80.3,173.4 80.7,173.3 81.2,173.2 81.6,173.1 82.0,172.9 82.4,172.8 82.8,172.6 83.2,172.5 83.6,172.3 84.1,172.0 84.5,171.7 84.9,171.4 85.3,171.0 85.7,170.6 86.1,170.2 86.5,169.7 87.0,169.2 87.4,168.8 87.8,168.3 88.2,167.8 88.6,167.3 89.0,166.9 89.4,166.4 89.9,165.8 90.3,165.3 90.7,164.8 91.1,164.2 91.5,163.6 91.9,163.0 92.3,162.4 92.8,161.8 93.2,161.2 93.6,160.6 94.0,160.0 94.4,159.3 94.8,158.7 95.2,158.0 95.7,157.3 96.1,156.6 96.5,155.9 96.9,155.1 97.3,154.3 97.7,153.5 98.1,152.7 98.6,151.8 99.0,151.0 99.4,150.2 99.8,149.4 100.2,148.6 100.6,147.8 101.0,147.0 101.5,146.2 101.9,145.5 102.3,144.8 102.7,144.2 103.1,143.5 103.5,142.9 103.9,142.4 104.4,141.8 104.8,141.3 105.2,140.8 105.6,140.2 106.0,139.7 106.4,139.2 106.8,138.7 107.3,138.3 107.7,137.8 108.1,137.5 108.5,137.1 108.9,136.8 109.3,136.5 109.7,136.3 110.2,136.1 110.6,135.9 111.0,135.8 111.4,135.6 111.8,135.4 112.2,135.3 112.6,135.1 113.1,135.0 113.5,134.9 113.9,134.8 114.3,134.7 114.7,134.7 115.1,134.6 115.5,134.6 116.0,134.7 116.4,134.7 116.8,134.9 117.2,135.1 117.6,135.3 118.0,135.5 118.4,135.8 118.9,136.1 119.3,136.4 119.7,136.8 120.1,137.1 120.5,137.4 120.9,137.9 121.3,138.4 121.8,139.0 122.2,139.6 122.6,140.2 123.0,140.9 123.4,141.7 123.8,142.4 124.2,143.2 124.7,144.0 125.1,144.8 125.5,145.5 125.9,146.3 126.3,147.0 126.7,147.8 127.1,148.6 127.6,149.3 128.0,150.1 128.4,151.0 128.8,151.8 129.2,152.6 129.6,153.4 130.0,154.2 130.5,155.1 130.9,155.9 131.3,156.8 131.7,157.6 132.1,158.5 132.5,159.4 132.9,160.3 133.4,161.2 133.8,162.1 134.2,162.9 134.6,163.8 135.0,164.7 135.4,165.6 135.8,166.4 136.3,167.3 136.7,168.1 137.1,168.9 137.5,169.7 137.9,170.4 138.3,171.2 138.7,171.9 139.2,172.5 139.6,173.2 140.0,173.9 140.4,174.5 140.8,175.2 141.2,175.8 141.6,176.4 142.1,177.0 142.5,177.6 142.9,178.2 143.3,178.7 143.7,179.3 144.1,179.8 144.5,180.3 145.0,180.8 145.4,181.2 145.8,181.7 146.2,182.1 146.6,182.5 147.0,183.0 147.4,183.4 147.9,183.8 148.3,184.1 148.7,184.5 149.1,184.8 149.5,185.2 149.9,185.5 150.3,185.8 150.8,186.1 151.2,186.3 151.6,186.6 152.0,186.9 152.4,187.1 152.8,187.4 153.2,187.6 153.7,187.8 154.1,188.0 154.5,188.2 154.9,188.4 155.3,188.6 155.7,188.7 156.2,188.9 156.6,189.0 157.0,189.1 157.4,189.2 157.8,189.3 158.2,189.4 158.6,189.5 159.1,189.6 159.5,189.6 159.9,189.7 160.3,189.8 160.7,189.8 161.1,189.9 161.5,189.9 162.0,190.0 162.4,190.0 162.8,190.1 163.2,190.1 163.6,190.2 164.0,190.2 164.4,190.2 164.9,190.3 165.3,190.3 165.7,190.3 166.1,190.3 166.5,190.4 166.9,190.4 167.3,190.4 167.8,190.4 168.2,190.4 168.6,190.4 169.0,190.4 169.4,190.4 169.8,190.4 170.2,190.4 170.7,190.5 171.1,190.5 171.5,190.5 171.9,190.5 172.3,190.5 172.7,190.5 173.1,190.5 173.6,190.5 174.0,190.5 174.4,190.5 174.8,190.5 175.2,190.5 175.6,190.5 176.0,190.5 176.5,190.5 176.9,190.5 177.3,190.5 177.7,190.5 178.1,190.5 178.5,190.5 178.9,190.5 179.4,190.5 179.8,190.5 180.2,190.5 180.6,190.5 181.0,190.5 181.4,190.5 181.8,190.5 182.3,190.5 182.7,190.5 183.1,190.6 183.5,190.6 183.9,190.6 184.3,190.6 184.7,190.6 185.2,190.6 185.6,190.6 186.0,190.6 186.4,190.6 186.8,190.6 187.2,190.6 187.6,190.6 188.1,190.6 188.5,190.6 188.9,190.6 189.3,190.6 189.7,190.6 190.1,190.6 190.5,190.6 191.0,190.6 191.4,190.6 191.8,190.6 192.2,190.6 192.6,190.6 193.0,190.6 193.4,190.6 193.9,190.6 194.3,190.6 194.7,190.6 195.1,190.6 195.5,190.6 195.9,190.6 196.3,190.6 196.8,190.6 197.2,190.6 197.6,190.6 198.0,190.6 198.4,190.6 198.8,190.6 199.2,190.6 199.7,190.6 200.1,190.6 200.5,190.6 200.9,190.6 201.3,190.6 201.7,190.6 202.1,190.6 202.6,190.6 203.0,190.6 203.4,190.6 203.8,190.6 204.2,190.6 204.6,190.6 205.0,190.6 205.5,190.6 205.9,190.6 206.3,190.6 206.7,190.6 207.1,190.7 207.5,190.7 207.9,190.7 208.4,190.7 208.8,190.7 209.2,190.7 209.6,190.7 210.0,190.7 210.4,190.7 210.8,190.7 211.3,190.7 211.7,190.7 212.1,190.7 212.5,190.7 212.9,190.7 213.3,190.7 213.7,190.7 214.2,190.7 214.6,190.7 215.0,190.7 215.4,190.7 215.8,190.7 216.2,190.7 216.6,190.7 217.1,190.7 217.5,190.7 217.9,190.7 218.3,190.7 218.7,190.7 219.1,190.7 219.5,190.7 220.0,190.7 220.4,190.7 220.8,190.7 221.2,190.7 221.6,190.7 222.0,190.7 222.4,190.7 222.9,190.7 223.3,190.7 223.7,190.7 224.1,190.7 224.5,190.7 224.9,190.7 225.3,190.7 225.8,190.7 226.2,190.7 226.6,190.7 227.0,190.7 227.4,190.7 227.8,190.7 228.2,190.7 228.7,190.7 229.1,190.7 229.5,190.7 229.9,190.7 230.3,190.7 230.7,190.7 231.2,190.7 231.6,190.7 232.0,190.7 232.4,190.7 232.8,190.7 233.2,190.7 233.6,190.7 234.1,190.7 234.5,190.7 234.9,190.7 235.3,190.7 235.7,190.7 236.1,190.7 236.5,190.8 237.0,190.8 237.4,190.8 237.8,190.8 238.2,190.8 238.6,190.8 239.0,190.8 239.4,190.8 239.9,190.8 240.3,190.8 240.7,190.8 241.1,190.8 241.5,190.8 241.9,190.8 242.3,190.8 242.8,190.8 243.2,190.8 243.6,190.8 244.0,190.8 244.4,190.8 244.8,190.8 245.2,190.8 245.7,190.8 246.1,190.8 246.5,190.8 246.9,190.8 247.3,190.8 247.7,190.8 248.1,190.8 248.6,190.8 249.0,190.8 249.4,190.8 249.8,190.8 250.2,190.8 250.6,190.8 251.0,190.8 251.5,190.8 251.9,190.8 252.3,190.8 252.7,190.8 253.1,190.8 253.5,190.8 253.9,190.8 254.4,190.8 254.8,190.8 255.2,190.8 255.6,190.8 256.0,190.8 256.4,190.8 256.8,190.8 257.3,190.8 257.7,190.8 258.1,190.8 258.5,190.8 258.9,190.8 259.3,190.8 259.7,190.8 260.2,190.8 260.6,190.8 261.0,190.8 261.4,190.8 261.8,190.8 262.2,190.8 262.6,190.8 263.1,190.8 263.5,190.9 263.9,190.9 264.3,190.9 264.7,190.9 265.1,190.9 265.5,190.9 266.0,190.9 266.4,190.9 266.8,190.9 267.2,190.9" fill="none" stroke="#e030e0" stroke-width="1.1" stroke-linejoin="round" />
<path d="M39.3,101.8 39.7,105.9 40.1,109.9 40.5,113.6 41.0,117.0 41.4,120.1 41.8,122.9 42.2,125.6 42.6,128.1 43.0,130.5 43.4,132.8 43.9,134.9 44.3,136.8 44.7,138.5 45.1,140.0 45.5,141.4 45.9,142.6 46.3,143.7 46.8,144.7 47.2,145.7 47.6,146.5 48.0,147.3 48.4,147.9 48.8,148.4 49.2,148.8 49.7,149.2 50.1,149.5 50.5,149.7 50.9,149.9 51.3,150.0 51.7,149.9 52.1,149.8 52.6,149.6 53.0,149.4 53.4,149.1 53.8,148.8 54.2,148.5 54.6,148.3 55.0,148.0 55.5,147.7 55.9,147.4 56.3,147.1 56.7,146.8 57.1,146.5 57.5,146.2 57.9,146.0 58.4,145.7 58.8,145.4 59.2,145.2 59.6,144.9 60.0,144.7 60.4,144.5 60.8,144.3 61.3,144.1 61.7,144.0 62.1,143.8 62.5,143.7 62.9,143.6 63.3,143.5 63.7,143.5 64.2,143.7 64.6,144.0 65.0,144.6 65.4,145.2 65.8,146.1 66.2,147.3 66.6,148.7 67.1,150.1 67.5,151.6 67.9,153.3 68.3,155.0 68.7,156.5 69.1,158.0 69.5,159.5 70.0,160.9 70.4,161.9 70.8,162.7 71.2,163.4 71.6,163.9 72.0,164.4 72.4,164.8 72.9,165.2 73.3,165.5 73.7,165.8 74.1,166.0 74.5,166.0 74.9,166.0 75.3,166.0 75.8,166.0 76.2,166.0 76.6,166.0 77.0,166.0 77.4,166.0 77.8,166.0 78.3,166.0 78.7,166.0 79.1,165.9 79.5,165.8 79.9,165.7 80.3,165.6 80.7,165.4 81.2,165.3 81.6,165.1 82.0,165.0 82.4,164.8 82.8,164.7 83.2,164.5 83.6,164.3 84.1,164.1 84.5,163.8 84.9,163.6 85.3,163.3 85.7,163.0 86.1,162.8 86.5,162.5 87.0,162.2 87.4,161.9 87.8,161.7 88.2,161.4 88.6,161.2 89.0,160.9 89.4,160.6 89.9,160.4 90.3,160.1 90.7,159.8 91.1,159.6 91.5,159.4 91.9,159.3 92.3,159.3 92.8,159.3 93.2,159.4 93.6,159.6 94.0,159.8 94.4,160.0 94.8,160.2 95.2,160.5 95.7,160.9 96.1,161.3 96.5,161.8 96.9,162.3 97.3,162.8 97.7,163.4 98.1,163.9 98.6,164.5 99.0,165.1 99.4,165.7 99.8,166.3 100.2,166.9 100.6,167.4 101.0,167.9 101.5,168.3 101.9,168.7 102.3,169.1 102.7,169.5 103.1,169.9 103.5,170.2 103.9,170.5 104.4,170.8 104.8,171.1 105.2,171.3 105.6,171.6 106.0,171.8 106.4,172.1 106.8,172.3 107.3,172.5 107.7,172.7 108.1,172.8 108.5,173.0 108.9,173.1 109.3,173.2 109.7,173.4 110.2,173.5 110.6,173.6 111.0,173.7 111.4,173.8 111.8,173.9 112.2,174.0 112.6,174.1 113.1,174.2 113.5,174.2 113.9,174.3 114.3,174.4 114.7,174.4 115.1,174.4 115.5,174.5 116.0,174.5 116.4,174.5 116.8,174.5 117.2,174.5 117.6,174.4 118.0,174.4 118.4,174.4 118.9,174.4 119.3,174.4 119.7,174.3 120.1,174.3 120.5,174.3 120.9,174.3 121.3,174.2 121.8,174.2 122.2,174.2 122.6,174.1 123.0,174.1 123.4,174.0 123.8,174.0 124.2,174.0 124.7,173.9 125.1,173.8 125.5,173.8 125.9,173.7 126.3,173.6 126.7,173.6 127.1,173.5 127.6,173.4 128.0,173.3 128.4,173.2 128.8,173.1 129.2,173.0 129.6,172.9 130.0,172.8 130.5,172.7 130.9,172.5 131.3,172.3 131.7,172.1 132.1,171.9 132.5,171.7 132.9,171.4 133.4,171.1 133.8,170.8 134.2,170.5 134.6,170.2 135.0,169.9 135.4,169.6 135.8,169.3 136.3,169.0 136.7,168.6 137.1,168.3 137.5,168.0 137.9,167.6 138.3,167.2 138.7,166.8 139.2,166.4 139.6,166.0 140.0,165.6 140.4,165.1 140.8,164.7 141.2,164.2 141.6,163.7 142.1,163.3 142.5,162.8 142.9,162.4 143.3,161.9 143.7,161.4 144.1,161.0 144.5,160.5 145.0,160.1 145.4,159.6 145.8,159.2 146.2,158.7 146.6,158.2 147.0,157.7 147.4,157.2 147.9,156.7 148.3,156.2 148.7,155.6 149.1,155.1 149.5,154.5 149.9,153.9 150.3,153.2 150.8,152.6 151.2,151.9 151.6,151.2 152.0,150.4 152.4,149.6 152.8,148.8 153.2,148.0 153.7,147.1 154.1,146.3 154.5,145.4 154.9,144.4 155.3,143.5 155.7,142.6 156.2,141.6 156.6,140.6 157.0,139.6 157.4,138.6 157.8,137.6 158.2,136.5 158.6,135.5 159.1,134.4 159.5,133.2 159.9,132.1 160.3,130.9 160.7,129.6 161.1,128.4 161.5,127.1 162.0,125.8 162.4,124.5 162.8,123.1 163.2,121.7 163.6,120.3 164.0,118.7 164.4,117.0 164.9,115.3 165.3,113.5 165.7,111.8 166.1,110.1 166.5,108.5 166.9,106.9 167.3,105.3 167.8,103.7 168.2,102.1 168.6,100.4 169.0,98.7 169.4,96.9 169.8,94.9 170.2,92.9 170.7,90.8 171.1,88.6 171.5,86.2 171.9,83.7 172.3,81.2 172.7,78.3 173.1,75.2 173.6,72.0 174.0,68.9 174.4,65.8 174.8,62.7 175.2,59.7 175.6,56.6 176.0,53.6 176.5,50.4 176.9,47.3 177.3,44.5 177.7,42.1 178.1,40.0 178.5,38.0 178.9,36.4 179.4,35.2 179.8,34.2 180.2,33.4 180.6,33.0 181.0,33.0 181.4,33.6 181.8,34.6 182.3,35.9 182.7,37.9 183.1,40.7 183.5,44.6 183.9,50.1 184.3,55.4 184.7,59.9 185.2,64.2 185.6,68.9 186.0,74.2 186.4,79.9 186.8,85.7 187.2,91.9 187.6,98.2 188.1,104.1 188.5,109.5 188.9,114.6 189.3,119.5 189.7,124.1 190.1,128.5 190.5,133.2 191.0,138.9 191.4,145.0 191.8,150.1 192.2,154.1 192.6,157.7 193.0,160.9 193.4,163.7 193.9,166.2 194.3,168.3 194.7,170.2 195.1,172.0 195.5,173.7 195.9,175.2 196.3,176.6 196.8,177.8 197.2,178.8 197.6,179.7 198.0,180.4 198.4,181.1 198.8,181.7 199.2,182.3 199.7,182.9 200.1,183.4 200.5,183.9 200.9,184.3 201.3,184.7 201.7,185.1 202.1,185.4 202.6,185.6 203.0,185.9 203.4,186.0 203.8,186.2 204.2,186.4 204.6,186.5 205.0,186.7 205.5,186.8 205.9,187.0 206.3,187.1 206.7,187.2 207.1,187.3 207.5,187.4 207.9,187.5 208.4,187.6 208.8,187.7 209.2,187.8 209.6,187.9 210.0,188.0 210.4,188.0 210.8,188.1 211.3,188.2 211.7,188.2 212.1,188.3 212.5,188.4 212.9,188.4 213.3,188.5 213.7,188.5 214.2,188.6 214.6,188.6 215.0,188.7 215.4,188.7 215.8,188.8 216.2,188.8 216.6,188.9 217.1,188.9 217.5,188.9 217.9,189.0 218.3,189.0 218.7,189.1 219.1,189.1 219.5,189.1 220.0,189.2 220.4,189.2 220.8,189.2 221.2,189.3 221.6,189.3 222.0,189.3 222.4,189.3 222.9,189.4 223.3,189.4 223.7,189.4 224.1,189.4 224.5,189.5 224.9,189.5 225.3,189.5 225.8,189.5 226.2,189.5 226.6,189.6 227.0,189.6 227.4,189.6 227.8,189.6 228.2,189.7 228.7,189.7 229.1,189.7 229.5,189.7 229.9,189.7 230.3,189.7 230.7,189.8 231.2,189.8 231.6,189.8 232.0,189.8 232.4,189.8 232.8,189.8 233.2,189.9 233.6,189.9 234.1,189.9 234.5,189.9 234.9,189.9 235.3,189.9 235.7,190.0 236.1,190.0 236.5,190.0 237.0,190.0 237.4,190.0 237.8,190.0 238.2,190.0 238.6,190.0 239.0,190.1 239.4,190.1 239.9,190.1 240.3,190.1 240.7,190.1 241.1,190.1 241.5,190.1 241.9,190.1 242.3,190.2 242.8,190.2 243.2,190.2 243.6,190.2 244.0,190.2 244.4,190.2 244.8,190.2 245.2,190.2 245.7,190.2 246.1,190.2 246.5,190.3 246.9,190.3 247.3,190.3 247.7,190.3 248.1,190.3 248.6,190.3 249.0,190.3 249.4,190.3 249.8,190.3 250.2,190.3 250.6,190.3 251.0,190.3 251.5,190.4 251.9,190.4 252.3,190.4 252.7,190.4 253.1,190.4 253.5,190.4 253.9,190.4 254.4,190.4 254.8,190.4 255.2,190.4 255.6,190.4 256.0,190.4 256.4,190.4 256.8,190.4 257.3,190.5 257.7,190.5 258.1,190.5 258.5,190.5 258.9,190.5 259.3,190.5 259.7,190.5 260.2,190.5 260.6,190.5 261.0,190.5 261.4,190.5 261.8,190.5 262.2,190.5 262.6,190.5 263.1,190.5 263.5,190.5 263.9,190.5 264.3,190.5 264.7,190.5 265.1,190.5 265.5,190.5 266.0,190.6 266.4,190.6 266.8,190.6 267.2,190.6" fill="none" stroke="#3a9a44" stroke-width="1.1" stroke-linejoin="round" />
<path d="M39.3,151.9 39.7,153.3 40.1,154.6 40.5,155.9 41.0,157.1 41.4,158.4 41.8,159.6 42.2,160.8 42.6,162.0 43.0,163.3 43.4,164.6 43.9,166.1 44.3,167.5 44.7,168.8 45.1,170.1 45.5,171.3 45.9,172.5 46.3,173.5 46.8,174.5 47.2,175.4 47.6,176.3 48.0,177.1 48.4,178.0 48.8,178.9 49.2,179.8 49.7,180.6 50.1,181.4 50.5,182.0 50.9,182.6 51.3,183.1 51.7,183.6 52.1,184.1 52.6,184.6 53.0,185.0 53.4,185.3 53.8,185.7 54.2,185.9 54.6,186.2 55.0,186.5 55.5,186.7 55.9,186.9 56.3,187.1 56.7,187.3 57.1,187.5 57.5,187.7 57.9,187.8 58.4,188.0 58.8,188.1 59.2,188.2 59.6,188.3 60.0,188.4 60.4,188.5 60.8,188.6 61.3,188.7 61.7,188.8 62.1,188.9 62.5,188.9 62.9,189.0 63.3,189.1 63.7,189.1 64.2,189.2 64.6,189.3 65.0,189.3 65.4,189.4 65.8,189.4 66.2,189.5 66.6,189.5 67.1,189.5 67.5,189.5 67.9,189.6 68.3,189.6 68.7,189.6 69.1,189.7 69.5,189.7 70.0,189.7 70.4,189.7 70.8,189.7 71.2,189.8 71.6,189.8 72.0,189.8 72.4,189.8 72.9,189.8 73.3,189.8 73.7,189.9 74.1,189.9 74.5,189.9 74.9,189.9 75.3,189.9 75.8,189.9 76.2,189.9 76.6,189.9 77.0,190.0 77.4,190.0 77.8,190.0 78.3,190.0 78.7,190.0 79.1,190.0 79.5,190.0 79.9,190.0 80.3,190.0 80.7,190.0 81.2,190.0 81.6,190.0 82.0,190.0 82.4,190.0 82.8,190.1 83.2,190.1 83.6,190.1 84.1,190.1 84.5,190.1 84.9,190.1 85.3,190.1 85.7,190.1 86.1,190.1 86.5,190.1 87.0,190.1 87.4,190.1 87.8,190.1 88.2,190.1 88.6,190.1 89.0,190.1 89.4,190.1 89.9,190.1 90.3,190.1 90.7,190.2 91.1,190.2 91.5,190.2 91.9,190.2 92.3,190.2 92.8,190.2 93.2,190.2 93.6,190.2 94.0,190.2 94.4,190.2 94.8,190.2 95.2,190.2 95.7,190.2 96.1,190.2 96.5,190.2 96.9,190.2 97.3,190.2 97.7,190.2 98.1,190.2 98.6,190.2 99.0,190.2 99.4,190.2 99.8,190.2 100.2,190.2 100.6,190.2 101.0,190.2 101.5,190.3 101.9,190.3 102.3,190.3 102.7,190.3 103.1,190.3 103.5,190.3 103.9,190.3 104.4,190.3 104.8,190.3 105.2,190.3 105.6,190.3 106.0,190.3 106.4,190.3 106.8,190.3 107.3,190.3 107.7,190.3 108.1,190.3 108.5,190.3 108.9,190.3 109.3,190.3 109.7,190.3 110.2,190.3 110.6,190.3 111.0,190.3 111.4,190.3 111.8,190.3 112.2,190.4 112.6,190.4 113.1,190.4 113.5,190.4 113.9,190.4 114.3,190.4 114.7,190.4 115.1,190.4 115.5,190.4 116.0,190.4 116.4,190.4 116.8,190.4 117.2,190.4 117.6,190.4 118.0,190.4 118.4,190.4 118.9,190.4 119.3,190.4 119.7,190.4 120.1,190.4 120.5,190.4 120.9,190.4 121.3,190.4 121.8,190.4 122.2,190.4 122.6,190.4 123.0,190.4 123.4,190.4 123.8,190.5 124.2,190.5 124.7,190.5 125.1,190.5 125.5,190.5 125.9,190.5 126.3,190.5 126.7,190.5 127.1,190.5 127.6,190.5 128.0,190.5 128.4,190.5 128.8,190.5 129.2,190.5 129.6,190.5 130.0,190.5 130.5,190.5 130.9,190.5 131.3,190.5 131.7,190.5 132.1,190.5 132.5,190.5 132.9,190.5 133.4,190.5 133.8,190.5 134.2,190.5 134.6,190.5 135.0,190.5 135.4,190.5 135.8,190.5 136.3,190.5 136.7,190.5 137.1,190.5 137.5,190.5 137.9,190.5 138.3,190.5 138.7,190.5 139.2,190.5 139.6,190.5 140.0,190.5 140.4,190.5 140.8,190.6 141.2,190.6 141.6,190.6 142.1,190.6 142.5,190.6 142.9,190.6 143.3,190.6 143.7,190.6 144.1,190.6 144.5,190.6 145.0,190.6 145.4,190.6 145.8,190.6 146.2,190.6 146.6,190.6 147.0,190.6 147.4,190.6 147.9,190.6 148.3,190.6 148.7,190.6 149.1,190.6 149.5,190.6 149.9,190.6 150.3,190.6 150.8,190.6 151.2,190.6 151.6,190.6 152.0,190.6 152.4,190.6 152.8,190.6 153.2,190.6 153.7,190.6 154.1,190.6 154.5,190.6 154.9,190.6 155.3,190.6 155.7,190.6 156.2,190.6 156.6,190.6 157.0,190.6 157.4,190.6 157.8,190.6 158.2,190.6 158.6,190.6 159.1,190.6 159.5,190.6 159.9,190.6 160.3,190.6 160.7,190.6 161.1,190.6 161.5,190.6 162.0,190.6 162.4,190.6 162.8,190.6 163.2,190.6 163.6,190.6 164.0,190.6 164.4,190.6 164.9,190.6 165.3,190.6 165.7,190.6 166.1,190.6 166.5,190.6 166.9,190.6 167.3,190.6 167.8,190.6 168.2,190.6 168.6,190.6 169.0,190.6 169.4,190.6 169.8,190.6 170.2,190.6 170.7,190.6 171.1,190.6 171.5,190.6 171.9,190.6 172.3,190.6 172.7,190.6 173.1,190.6 173.6,190.6 174.0,190.6 174.4,190.6 174.8,190.6 175.2,190.6 175.6,190.6 176.0,190.6 176.5,190.6 176.9,190.6 177.3,190.6 177.7,190.6 178.1,190.6 178.5,190.6 178.9,190.6 179.4,190.6 179.8,190.6 180.2,190.6 180.6,190.6 181.0,190.6 181.4,190.6 181.8,190.6 182.3,190.6 182.7,190.6 183.1,190.6 183.5,190.6 183.9,190.6 184.3,190.6 184.7,190.6 185.2,190.6 185.6,190.6 186.0,190.6 186.4,190.6 186.8,190.6 187.2,190.6 187.6,190.6 188.1,190.6 188.5,190.6 188.9,190.6 189.3,190.6 189.7,190.6 190.1,190.6 190.5,190.6 191.0,190.6 191.4,190.6 191.8,190.7 192.2,190.7 192.6,190.7 193.0,190.7 193.4,190.7 193.9,190.7 194.3,190.7 194.7,190.7 195.1,190.7 195.5,190.7 195.9,190.7 196.3,190.7 196.8,190.7 197.2,190.7 197.6,190.7 198.0,190.7 198.4,190.7 198.8,190.7 199.2,190.7 199.7,190.7 200.1,190.7 200.5,190.7 200.9,190.7 201.3,190.7 201.7,190.7 202.1,190.7 202.6,190.7 203.0,190.7 203.4,190.7 203.8,190.7 204.2,190.7 204.6,190.7 205.0,190.7 205.5,190.7 205.9,190.7 206.3,190.7 206.7,190.7 207.1,190.7 207.5,190.7 207.9,190.7 208.4,190.7 208.8,190.7 209.2,190.7 209.6,190.7 210.0,190.7 210.4,190.7 210.8,190.7 211.3,190.7 211.7,190.7 212.1,190.7 212.5,190.7 212.9,190.7 213.3,190.7 213.7,190.7 214.2,190.7 214.6,190.7 215.0,190.7 215.4,190.7 215.8,190.7 216.2,190.7 216.6,190.7 217.1,190.7 217.5,190.7 217.9,190.7 218.3,190.7 218.7,190.7 219.1,190.7 219.5,190.7 220.0,190.7 220.4,190.7 220.8,190.7 221.2,190.7 221.6,190.7 222.0,190.7 222.4,190.7 222.9,190.7 223.3,190.7 223.7,190.7 224.1,190.7 224.5,190.7 224.9,190.7 225.3,190.7 225.8,190.7 226.2,190.7 226.6,190.7 227.0,190.7 227.4,190.7 227.8,190.7 228.2,190.7 228.7,190.7 229.1,190.7 229.5,190.7 229.9,190.7 230.3,190.7 230.7,190.8 231.2,190.8 231.6,190.8 232.0,190.8 232.4,190.8 232.8,190.8 233.2,190.8 233.6,190.8 234.1,190.8 234.5,190.8 234.9,190.8 235.3,190.8 235.7,190.8 236.1,190.8 236.5,190.8 237.0,190.8 237.4,190.8 237.8,190.8 238.2,190.8 238.6,190.8 239.0,190.8 239.4,190.8 239.9,190.8 240.3,190.8 240.7,190.8 241.1,190.8 241.5,190.8 241.9,190.8 242.3,190.8 242.8,190.8 243.2,190.8 243.6,190.8 244.0,190.8 244.4,190.8 244.8,190.8 245.2,190.8 245.7,190.8 246.1,190.8 246.5,190.8 246.9,190.8 247.3,190.8 247.7,190.8 248.1,190.8 248.6,190.8 249.0,190.8 249.4,190.8 249.8,190.8 250.2,190.8 250.6,190.8 251.0,190.8 251.5,190.8 251.9,190.8 252.3,190.8 252.7,190.8 253.1,190.8 253.5,190.8 253.9,190.8 254.4,190.8 254.8,190.8 255.2,190.8 255.6,190.8 256.0,190.8 256.4,190.8 256.8,190.8 257.3,190.8 257.7,190.8 258.1,190.8 258.5,190.8 258.9,190.8 259.3,190.8 259.7,190.8 260.2,190.8 260.6,190.8 261.0,190.8 261.4,190.8 261.8,190.8 262.2,190.8 262.6,190.8 263.1,190.9 263.5,190.9 263.9,190.9 264.3,190.9 264.7,190.9 265.1,190.9 265.5,190.9 266.0,190.9 266.4,190.9 266.8,190.9 267.2,190.9" fill="none" stroke="#3a3ae8" stroke-width="1.1" stroke-linejoin="round" stroke-opacity="0.55"/>
</g>
<clipPath id="clipA"><rect x="39.3" y="7.6" width="227.89999999999998" height="199.20000000000002"/></clipPath>
<text x="180.2" y="61.8" text-anchor="middle" font-size="13" fill="#2a9a3a" stroke="#2a9a3a" font-family="Liberation Serif" font-weight="bold" stroke="#111">e</text>
<text x="115.5" y="147.3" text-anchor="middle" font-size="13.5" fill="#111" stroke="#111" font-family="Liberation Serif" font-weight="bold" stroke="#111">a</text>
<text x="97.8" y="149.1" text-anchor="middle" font-size="13.5" fill="#e020e0" stroke="#e020e0" font-family="Liberation Serif" font-weight="bold" stroke="#111">d</text>
<text x="64.4" y="185.5" text-anchor="middle" font-size="13.5" fill="#e82020" stroke="#e82020" font-family="Liberation Serif" font-weight="bold" stroke="#111">b</text>
<text x="68" y="199.7" text-anchor="middle" font-size="14" fill="#2020e8" stroke="#2020e8" font-family="Liberation Serif" font-weight="bold" stroke="#111">c</text>
<line x1="60.02" y1="206.80" x2="60.02" y2="210.10" stroke="#555" stroke-width="1"/>
<text x="60.02" y="220.10" text-anchor="middle" font-size="9.3" font-family="Liberation Serif" font-weight="bold" stroke="#111">300</text>
<line x1="101.45" y1="206.80" x2="101.45" y2="210.10" stroke="#555" stroke-width="1"/>
<text x="101.45" y="220.10" text-anchor="middle" font-size="9.3" font-family="Liberation Serif" font-weight="bold" stroke="#111">400</text>
<line x1="142.89" y1="206.80" x2="142.89" y2="210.10" stroke="#555" stroke-width="1"/>
<text x="142.89" y="220.10" text-anchor="middle" font-size="9.3" font-family="Liberation Serif" font-weight="bold" stroke="#111">500</text>
<line x1="184.33" y1="206.80" x2="184.33" y2="210.10" stroke="#555" stroke-width="1"/>
<text x="184.33" y="220.10" text-anchor="middle" font-size="9.3" font-family="Liberation Serif" font-weight="bold" stroke="#111">600</text>
<line x1="225.76" y1="206.80" x2="225.76" y2="210.10" stroke="#555" stroke-width="1"/>
<text x="225.76" y="220.10" text-anchor="middle" font-size="9.3" font-family="Liberation Serif" font-weight="bold" stroke="#111">700</text>
<line x1="267.20" y1="206.80" x2="267.20" y2="210.10" stroke="#555" stroke-width="1"/>
<text x="267.20" y="220.10" text-anchor="middle" font-size="9.3" font-family="Liberation Serif" font-weight="bold" stroke="#111">800</text>
<line x1="39.30" y1="206.80" x2="39.30" y2="208.60" stroke="#555" stroke-width="1"/>
<line x1="80.74" y1="206.80" x2="80.74" y2="208.60" stroke="#555" stroke-width="1"/>
<line x1="122.17" y1="206.80" x2="122.17" y2="208.60" stroke="#555" stroke-width="1"/>
<line x1="163.61" y1="206.80" x2="163.61" y2="208.60" stroke="#555" stroke-width="1"/>
<line x1="205.05" y1="206.80" x2="205.05" y2="208.60" stroke="#555" stroke-width="1"/>
<line x1="246.48" y1="206.80" x2="246.48" y2="208.60" stroke="#555" stroke-width="1"/>
<line x1="36.00" y1="191.48" x2="39.30" y2="191.48" stroke="#555" stroke-width="1"/>
<text x="33.40" y="194.55" text-anchor="end" font-size="9.3" font-family="Liberation Serif" font-weight="bold" stroke="#111">0.0</text>
<line x1="36.00" y1="160.83" x2="39.30" y2="160.83" stroke="#555" stroke-width="1"/>
<text x="33.40" y="163.90" text-anchor="end" font-size="9.3" font-family="Liberation Serif" font-weight="bold" stroke="#111">0.2</text>
<line x1="36.00" y1="130.18" x2="39.30" y2="130.18" stroke="#555" stroke-width="1"/>
<text x="33.40" y="133.25" text-anchor="end" font-size="9.3" font-family="Liberation Serif" font-weight="bold" stroke="#111">0.4</text>
<line x1="36.00" y1="99.54" x2="39.30" y2="99.54" stroke="#555" stroke-width="1"/>
<text x="33.40" y="102.61" text-anchor="end" font-size="9.3" font-family="Liberation Serif" font-weight="bold" stroke="#111">0.6</text>
<line x1="36.00" y1="68.89" x2="39.30" y2="68.89" stroke="#555" stroke-width="1"/>
<text x="33.40" y="71.96" text-anchor="end" font-size="9.3" font-family="Liberation Serif" font-weight="bold" stroke="#111">0.8</text>
<line x1="36.00" y1="38.25" x2="39.30" y2="38.25" stroke="#555" stroke-width="1"/>
<text x="33.40" y="41.32" text-anchor="end" font-size="9.3" font-family="Liberation Serif" font-weight="bold" stroke="#111">1.0</text>
<line x1="36.00" y1="7.60" x2="39.30" y2="7.60" stroke="#555" stroke-width="1"/>
<text x="33.40" y="10.67" text-anchor="end" font-size="9.3" font-family="Liberation Serif" font-weight="bold" stroke="#111">1.2</text>
<line x1="37.50" y1="206.80" x2="39.30" y2="206.80" stroke="#555" stroke-width="1"/>
<line x1="37.50" y1="176.15" x2="39.30" y2="176.15" stroke="#555" stroke-width="1"/>
<line x1="37.50" y1="145.51" x2="39.30" y2="145.51" stroke="#555" stroke-width="1"/>
<line x1="37.50" y1="114.86" x2="39.30" y2="114.86" stroke="#555" stroke-width="1"/>
<line x1="37.50" y1="84.22" x2="39.30" y2="84.22" stroke="#555" stroke-width="1"/>
<line x1="37.50" y1="53.57" x2="39.30" y2="53.57" stroke="#555" stroke-width="1"/>
<line x1="37.50" y1="22.92" x2="39.30" y2="22.92" stroke="#555" stroke-width="1"/>
<rect x="39.30" y="7.60" width="227.90" height="199.20" fill="none" stroke="#555" stroke-width="1.2"/>
<text x="153.2" y="237.6" text-anchor="middle" font-size="13.2" font-family="Liberation Serif" font-weight="bold" stroke="#111">Wavelength / nm</text>
<text transform="translate(15.3,105.4) rotate(-90)" text-anchor="middle" font-size="13.3" font-family="Liberation Serif" font-weight="bold" stroke="#111">Absorbance</text>
<text x="7.4" y="14.0" font-size="13.8" font-family="Liberation Serif" font-weight="bold" stroke="#111">A</text>
<clipPath id="clipB"><rect x="313" y="7.9" width="227" height="199.1"/></clipPath>
<g clip-path="url(#clipB)">
<path d="M313.0,111.6 313.4,116.0 313.8,120.2 314.2,124.3 314.7,128.2 315.1,132.0 315.5,135.7 315.9,139.2 316.3,142.7 316.7,146.0 317.1,149.2 317.5,152.1 318.0,154.7 318.4,157.2 318.8,159.5 319.2,161.7 319.6,163.8 320.0,165.7 320.4,167.5 320.8,169.1 321.3,170.5 321.7,171.7 322.1,172.9 322.5,174.0 322.9,174.9 323.3,175.9 323.7,176.7 324.1,177.5 324.6,178.3 325.0,179.0 325.4,179.6 325.8,180.3 326.2,180.9 326.6,181.5 327.0,182.1 327.4,182.7 327.9,183.2 328.3,183.6 328.7,184.0 329.1,184.3 329.5,184.6 329.9,184.8 330.3,185.0 330.7,185.2 331.2,185.4 331.6,185.5 332.0,185.7 332.4,185.8 332.8,185.9 333.2,186.0 333.6,186.1 334.0,186.2 334.5,186.3 334.9,186.4 335.3,186.5 335.7,186.6 336.1,186.6 336.5,186.7 336.9,186.8 337.4,186.8 337.8,186.9 338.2,186.9 338.6,187.0 339.0,187.0 339.4,187.1 339.8,187.1 340.2,187.2 340.7,187.2 341.1,187.3 341.5,187.4 341.9,187.4 342.3,187.5 342.7,187.6 343.1,187.7 343.5,187.8 344.0,187.9 344.4,188.0 344.8,188.1 345.2,188.2 345.6,188.3 346.0,188.4 346.4,188.5 346.8,188.5 347.3,188.6 347.7,188.6 348.1,188.6 348.5,188.5 348.9,188.5 349.3,188.4 349.7,188.3 350.1,188.3 350.6,188.2 351.0,188.1 351.4,187.9 351.8,187.8 352.2,187.6 352.6,187.5 353.0,187.3 353.4,187.1 353.9,186.9 354.3,186.8 354.7,186.6 355.1,186.3 355.5,186.1 355.9,185.9 356.3,185.6 356.7,185.4 357.2,185.1 357.6,184.8 358.0,184.5 358.4,184.2 358.8,183.9 359.2,183.6 359.6,183.3 360.1,183.0 360.5,182.6 360.9,182.3 361.3,182.0 361.7,181.6 362.1,181.2 362.5,180.9 362.9,180.5 363.4,180.1 363.8,179.7 364.2,179.2 364.6,178.8 365.0,178.3 365.4,177.8 365.8,177.3 366.2,176.8 366.7,176.3 367.1,175.7 367.5,175.1 367.9,174.5 368.3,173.9 368.7,173.3 369.1,172.7 369.5,172.0 370.0,171.4 370.4,170.7 370.8,170.0 371.2,169.2 371.6,168.5 372.0,167.8 372.4,167.1 372.8,166.4 373.3,165.6 373.7,164.9 374.1,164.2 374.5,163.4 374.9,162.7 375.3,162.0 375.7,161.2 376.1,160.5 376.6,159.8 377.0,159.1 377.4,158.4 377.8,157.7 378.2,157.0 378.6,156.4 379.0,155.7 379.4,155.0 379.9,154.3 380.3,153.6 380.7,152.9 381.1,152.3 381.5,151.7 381.9,151.1 382.3,150.6 382.8,150.2 383.2,149.8 383.6,149.4 384.0,149.0 384.4,148.7 384.8,148.3 385.2,148.0 385.6,147.7 386.1,147.4 386.5,147.1 386.9,146.9 387.3,146.7 387.7,146.6 388.1,146.5 388.5,146.4 388.9,146.5 389.4,146.5 389.8,146.7 390.2,146.8 390.6,147.0 391.0,147.2 391.4,147.5 391.8,147.8 392.2,148.0 392.7,148.3 393.1,148.6 393.5,148.9 393.9,149.3 394.3,149.6 394.7,150.0 395.1,150.5 395.5,151.0 396.0,151.5 396.4,152.1 396.8,152.7 397.2,153.3 397.6,153.9 398.0,154.5 398.4,155.2 398.8,155.8 399.3,156.5 399.7,157.2 400.1,157.9 400.5,158.7 400.9,159.6 401.3,160.4 401.7,161.3 402.1,162.2 402.6,163.2 403.0,164.2 403.4,165.3 403.8,166.4 404.2,167.5 404.6,168.6 405.0,169.7 405.5,170.7 405.9,171.7 406.3,172.7 406.7,173.6 407.1,174.6 407.5,175.6 407.9,176.5 408.3,177.4 408.8,178.4 409.2,179.3 409.6,180.2 410.0,181.1 410.4,181.9 410.8,182.8 411.2,183.6 411.6,184.4 412.1,185.2 412.5,186.0 412.9,186.8 413.3,187.6 413.7,188.3 414.1,189.0 414.5,189.7 414.9,190.4 415.4,191.1 415.8,191.7 416.2,192.3 416.6,192.9 417.0,193.5 417.4,194.0 417.8,194.6 418.2,195.1 418.7,195.6 419.1,196.0 419.5,196.5 419.9,196.9 420.3,197.3 420.7,197.7 421.1,198.1 421.5,198.4 422.0,198.8 422.4,199.0 422.8,199.3 423.2,199.5 423.6,199.8 424.0,200.0 424.4,200.2 424.8,200.4 425.3,200.6 425.7,200.8 426.1,200.9 426.5,201.1 426.9,201.2 427.3,201.3 427.7,201.4 428.2,201.5 428.6,201.6 429.0,201.7 429.4,201.8 429.8,201.9 430.2,202.0 430.6,202.1 431.0,202.1 431.5,202.2 431.9,202.3 432.3,202.3 432.7,202.4 433.1,202.4 433.5,202.4 433.9,202.5 434.3,202.5 434.8,202.5 435.2,202.6 435.6,202.6 436.0,202.6 436.4,202.7 436.8,202.7 437.2,202.7 437.6,202.7 438.1,202.8 438.5,202.8 438.9,202.8 439.3,202.8 439.7,202.8 440.1,202.9 440.5,202.9 440.9,202.9 441.4,202.9 441.8,202.9 442.2,202.9 442.6,203.0 443.0,203.0 443.4,203.0 443.8,203.0 444.2,203.0 444.7,203.0 445.1,203.0 445.5,203.0 445.9,203.0 446.3,203.1 446.7,203.1 447.1,203.1 447.5,203.1 448.0,203.1 448.4,203.1 448.8,203.1 449.2,203.1 449.6,203.1 450.0,203.1 450.4,203.1 450.9,203.2 451.3,203.2 451.7,203.2 452.1,203.2 452.5,203.2 452.9,203.2 453.3,203.2 453.7,203.2 454.2,203.2 454.6,203.2 455.0,203.3 455.4,203.3 455.8,203.3 456.2,203.3 456.6,203.3 457.0,203.3 457.5,203.3 457.9,203.4 458.3,203.4 458.7,203.4 459.1,203.4 459.5,203.4 459.9,203.5 460.3,203.5 460.8,203.5 461.2,203.5 461.6,203.6 462.0,203.6 462.4,203.6 462.8,203.7 463.2,203.7 463.6,203.7 464.1,203.7 464.5,203.8 464.9,203.8 465.3,203.8 465.7,203.9 466.1,203.9 466.5,203.9 466.9,204.0 467.4,204.0 467.8,204.0 468.2,204.1 468.6,204.1 469.0,204.1 469.4,204.2 469.8,204.2 470.2,204.2 470.7,204.3 471.1,204.3 471.5,204.3 471.9,204.4 472.3,204.4 472.7,204.4 473.1,204.5 473.6,204.5 474.0,204.5 474.4,204.5 474.8,204.6 475.2,204.6 475.6,204.6 476.0,204.7 476.4,204.7 476.9,204.7 477.3,204.8 477.7,204.8 478.1,204.8 478.5,204.9 478.9,204.9 479.3,204.9 479.7,205.0 480.2,205.0 480.6,205.0 481.0,205.1 481.4,205.1 481.8,205.1 482.2,205.2 482.6,205.2 483.0,205.2 483.5,205.3 483.9,205.3 484.3,205.3 484.7,205.4 485.1,205.4 485.5,205.4 485.9,205.4 486.3,205.5 486.8,205.5 487.2,205.5 487.6,205.5 488.0,205.6 488.4,205.6 488.8,205.6 489.2,205.6 489.6,205.6 490.1,205.7 490.5,205.7 490.9,205.7 491.3,205.7 491.7,205.7 492.1,205.7 492.5,205.7 492.9,205.7 493.4,205.8 493.8,205.8 494.2,205.8 494.6,205.8 495.0,205.8 495.4,205.8 495.8,205.8 496.3,205.8 496.7,205.9 497.1,205.9 497.5,205.9 497.9,205.9 498.3,205.9 498.7,205.9 499.1,205.9 499.6,205.9 500.0,205.9 500.4,206.0 500.8,206.0 501.2,206.0 501.6,206.0 502.0,206.0 502.4,206.0 502.9,206.0 503.3,206.0 503.7,206.0 504.1,206.0 504.5,206.1 504.9,206.1 505.3,206.1 505.7,206.1 506.2,206.1 506.6,206.1 507.0,206.1 507.4,206.1 507.8,206.1 508.2,206.1 508.6,206.1 509.0,206.2 509.5,206.2 509.9,206.2 510.3,206.2 510.7,206.2 511.1,206.2 511.5,206.2 511.9,206.2 512.3,206.2 512.8,206.2 513.2,206.2 513.6,206.2 514.0,206.3 514.4,206.3 514.8,206.3 515.2,206.3 515.6,206.3 516.1,206.3 516.5,206.3 516.9,206.3 517.3,206.3 517.7,206.3 518.1,206.3 518.5,206.3 519.0,206.3 519.4,206.3 519.8,206.3 520.2,206.4 520.6,206.4 521.0,206.4 521.4,206.4 521.8,206.4 522.3,206.4 522.7,206.4 523.1,206.4 523.5,206.4 523.9,206.4 524.3,206.4 524.7,206.4 525.1,206.4 525.6,206.4 526.0,206.4 526.4,206.4 526.8,206.4 527.2,206.4 527.6,206.4 528.0,206.4 528.4,206.5 528.9,206.5 529.3,206.5 529.7,206.5 530.1,206.5 530.5,206.5 530.9,206.5 531.3,206.5 531.7,206.5 532.2,206.5 532.6,206.5 533.0,206.5 533.4,206.5 533.8,206.5 534.2,206.5 534.6,206.5 535.0,206.5 535.5,206.5 535.9,206.5 536.3,206.5 536.7,206.5 537.1,206.5 537.5,206.5 537.9,206.5 538.3,206.5 538.8,206.5 539.2,206.5 539.6,206.5 540.0,206.5" fill="none" stroke="#222" stroke-width="1.2" stroke-linejoin="round" />
<path d="M313.0,124.0 313.4,127.7 313.8,131.3 314.2,134.7 314.7,137.9 315.1,141.0 315.5,144.0 315.9,146.8 316.3,149.5 316.7,152.2 317.1,154.6 317.5,156.9 318.0,158.9 318.4,160.7 318.8,162.6 319.2,164.3 319.6,166.0 320.0,167.5 320.4,168.7 320.8,169.8 321.3,170.5 321.7,171.0 322.1,171.6 322.5,172.0 322.9,172.3 323.3,172.6 323.7,172.7 324.1,172.6 324.6,172.6 325.0,172.6 325.4,172.5 325.8,172.4 326.2,172.3 326.6,172.2 327.0,172.1 327.4,172.0 327.9,171.8 328.3,171.7 328.7,171.6 329.1,171.5 329.5,171.3 329.9,171.2 330.3,171.1 330.7,170.9 331.2,170.7 331.6,170.6 332.0,170.4 332.4,170.2 332.8,170.0 333.2,169.9 333.6,169.7 334.0,169.5 334.5,169.2 334.9,168.9 335.3,168.7 335.7,168.4 336.1,168.2 336.5,167.9 336.9,167.8 337.4,167.7 337.8,167.7 338.2,167.9 338.6,168.2 339.0,168.6 339.4,169.2 339.8,169.8 340.2,170.5 340.7,171.5 341.1,173.0 341.5,174.9 341.9,176.8 342.3,178.8 342.7,180.5 343.1,182.0 343.5,183.6 344.0,185.1 344.4,186.5 344.8,187.8 345.2,188.7 345.6,189.6 346.0,190.4 346.4,191.1 346.8,191.5 347.3,191.6 347.7,191.6 348.1,191.5 348.5,191.5 348.9,191.5 349.3,191.5 349.7,191.4 350.1,191.4 350.6,191.3 351.0,191.1 351.4,190.9 351.8,190.6 352.2,190.3 352.6,190.0 353.0,189.7 353.4,189.4 353.9,189.1 354.3,188.7 354.7,188.4 355.1,188.1 355.5,187.8 355.9,187.5 356.3,187.1 356.7,186.8 357.2,186.4 357.6,186.1 358.0,185.7 358.4,185.4 358.8,185.1 359.2,184.8 359.6,184.5 360.1,184.1 360.5,183.8 360.9,183.5 361.3,183.2 361.7,182.9 362.1,182.6 362.5,182.4 362.9,182.2 363.4,182.1 363.8,182.0 364.2,181.9 364.6,181.8 365.0,181.7 365.4,181.7 365.8,181.6 366.2,181.6 366.7,181.6 367.1,181.8 367.5,182.0 367.9,182.3 368.3,182.7 368.7,183.1 369.1,183.6 369.5,184.1 370.0,184.6 370.4,185.0 370.8,185.4 371.2,185.8 371.6,186.3 372.0,186.7 372.4,187.2 372.8,187.6 373.3,188.1 373.7,188.6 374.1,189.0 374.5,189.5 374.9,189.9 375.3,190.3 375.7,190.7 376.1,191.1 376.6,191.4 377.0,191.7 377.4,192.0 377.8,192.3 378.2,192.6 378.6,192.8 379.0,193.1 379.4,193.4 379.9,193.6 380.3,193.8 380.7,194.0 381.1,194.2 381.5,194.3 381.9,194.5 382.3,194.5 382.8,194.6 383.2,194.6 383.6,194.6 384.0,194.6 384.4,194.6 384.8,194.6 385.2,194.7 385.6,194.7 386.1,194.7 386.5,194.7 386.9,194.7 387.3,194.7 387.7,194.7 388.1,194.7 388.5,194.7 388.9,194.7 389.4,194.7 389.8,194.7 390.2,194.7 390.6,194.7 391.0,194.7 391.4,194.6 391.8,194.6 392.2,194.5 392.7,194.5 393.1,194.4 393.5,194.3 393.9,194.3 394.3,194.2 394.7,194.1 395.1,194.0 395.5,193.9 396.0,193.8 396.4,193.7 396.8,193.6 397.2,193.5 397.6,193.4 398.0,193.3 398.4,193.2 398.8,193.1 399.3,193.0 399.7,192.9 400.1,192.8 400.5,192.7 400.9,192.5 401.3,192.4 401.7,192.2 402.1,192.1 402.6,191.9 403.0,191.7 403.4,191.6 403.8,191.4 404.2,191.2 404.6,191.0 405.0,190.8 405.5,190.6 405.9,190.4 406.3,190.2 406.7,190.0 407.1,189.8 407.5,189.5 407.9,189.3 408.3,189.0 408.8,188.8 409.2,188.5 409.6,188.3 410.0,188.0 410.4,187.7 410.8,187.4 411.2,187.1 411.6,186.8 412.1,186.5 412.5,186.2 412.9,185.9 413.3,185.6 413.7,185.3 414.1,184.9 414.5,184.6 414.9,184.2 415.4,183.8 415.8,183.4 416.2,182.9 416.6,182.4 417.0,181.9 417.4,181.3 417.8,180.6 418.2,179.9 418.7,179.2 419.1,178.5 419.5,177.7 419.9,177.0 420.3,176.2 420.7,175.5 421.1,174.8 421.5,174.1 422.0,173.3 422.4,172.6 422.8,171.9 423.2,171.1 423.6,170.4 424.0,169.6 424.4,168.8 424.8,168.0 425.3,167.1 425.7,166.3 426.1,165.4 426.5,164.4 426.9,163.5 427.3,162.5 427.7,161.5 428.2,160.5 428.6,159.4 429.0,158.3 429.4,157.1 429.8,155.9 430.2,154.5 430.6,153.1 431.0,151.5 431.5,149.9 431.9,148.4 432.3,146.8 432.7,145.2 433.1,143.8 433.5,142.3 433.9,140.8 434.3,139.4 434.8,137.9 435.2,136.5 435.6,135.0 436.0,133.6 436.4,132.1 436.8,130.7 437.2,129.2 437.6,127.8 438.1,126.4 438.5,125.0 438.9,123.6 439.3,122.2 439.7,120.7 440.1,119.2 440.5,117.7 440.9,116.1 441.4,114.4 441.8,112.6 442.2,110.8 442.6,108.9 443.0,106.9 443.4,104.9 443.8,102.9 444.2,100.8 444.7,98.7 445.1,96.6 445.5,94.5 445.9,92.2 446.3,89.9 446.7,87.5 447.1,85.0 447.5,82.3 448.0,79.6 448.4,76.7 448.8,73.8 449.2,70.9 449.6,67.9 450.0,64.6 450.4,61.2 450.9,58.0 451.3,55.1 451.7,52.7 452.1,50.5 452.5,48.3 452.9,46.3 453.3,44.6 453.7,43.6 454.2,43.5 454.6,44.7 455.0,46.8 455.4,49.4 455.8,52.9 456.2,57.5 456.6,62.2 457.0,66.4 457.5,70.6 457.9,74.8 458.3,79.2 458.7,84.0 459.1,89.0 459.5,94.2 459.9,99.4 460.3,104.8 460.8,110.1 461.2,115.3 461.6,120.5 462.0,125.7 462.4,131.1 462.8,136.5 463.2,141.9 463.6,146.8 464.1,151.4 464.5,155.8 464.9,160.0 465.3,163.9 465.7,167.6 466.1,171.0 466.5,174.2 466.9,177.3 467.4,180.3 467.8,183.0 468.2,185.4 468.6,187.5 469.0,189.4 469.4,191.0 469.8,192.5 470.2,193.8 470.7,194.9 471.1,195.9 471.5,196.9 471.9,197.9 472.3,198.8 472.7,199.6 473.1,200.2 473.6,200.7 474.0,201.0 474.4,201.3 474.8,201.6 475.2,201.8 475.6,202.0 476.0,202.3 476.4,202.4 476.9,202.6 477.3,202.8 477.7,202.9 478.1,203.1 478.5,203.2 478.9,203.3 479.3,203.4 479.7,203.5 480.2,203.6 480.6,203.7 481.0,203.8 481.4,203.8 481.8,203.9 482.2,204.0 482.6,204.0 483.0,204.1 483.5,204.1 483.9,204.2 484.3,204.3 484.7,204.3 485.1,204.4 485.5,204.4 485.9,204.5 486.3,204.5 486.8,204.5 487.2,204.6 487.6,204.6 488.0,204.7 488.4,204.7 488.8,204.8 489.2,204.8 489.6,204.8 490.1,204.9 490.5,204.9 490.9,204.9 491.3,205.0 491.7,205.0 492.1,205.0 492.5,205.1 492.9,205.1 493.4,205.1 493.8,205.1 494.2,205.2 494.6,205.2 495.0,205.2 495.4,205.2 495.8,205.3 496.3,205.3 496.7,205.3 497.1,205.3 497.5,205.4 497.9,205.4 498.3,205.4 498.7,205.4 499.1,205.5 499.6,205.5 500.0,205.5 500.4,205.5 500.8,205.5 501.2,205.6 501.6,205.6 502.0,205.6 502.4,205.6 502.9,205.6 503.3,205.7 503.7,205.7 504.1,205.7 504.5,205.7 504.9,205.7 505.3,205.7 505.7,205.8 506.2,205.8 506.6,205.8 507.0,205.8 507.4,205.8 507.8,205.8 508.2,205.9 508.6,205.9 509.0,205.9 509.5,205.9 509.9,205.9 510.3,205.9 510.7,206.0 511.1,206.0 511.5,206.0 511.9,206.0 512.3,206.0 512.8,206.0 513.2,206.0 513.6,206.0 514.0,206.1 514.4,206.1 514.8,206.1 515.2,206.1 515.6,206.1 516.1,206.1 516.5,206.1 516.9,206.1 517.3,206.2 517.7,206.2 518.1,206.2 518.5,206.2 519.0,206.2 519.4,206.2 519.8,206.2 520.2,206.2 520.6,206.3 521.0,206.3 521.4,206.3 521.8,206.3 522.3,206.3 522.7,206.3 523.1,206.3 523.5,206.3 523.9,206.3 524.3,206.4 524.7,206.4 525.1,206.4 525.6,206.4 526.0,206.4 526.4,206.4 526.8,206.4 527.2,206.4 527.6,206.4 528.0,206.4 528.4,206.5 528.9,206.5 529.3,206.5 529.7,206.5 530.1,206.5 530.5,206.5 530.9,206.5 531.3,206.5 531.7,206.5 532.2,206.5 532.6,206.5 533.0,206.6 533.4,206.6 533.8,206.6 534.2,206.6 534.6,206.6 535.0,206.6 535.5,206.6 535.9,206.6 536.3,206.6 536.7,206.6 537.1,206.6 537.5,206.6 537.9,206.6 538.3,206.6 538.8,206.7 539.2,206.7 539.6,206.7 540.0,206.7" fill="none" stroke="#e83535" stroke-width="1.2" stroke-linejoin="round" />
<path d="M313.0,109.9 313.4,114.1 313.8,118.1 314.2,121.9 314.7,125.6 315.1,129.1 315.5,132.3 315.9,135.5 316.3,138.5 316.7,141.5 317.1,144.2 317.5,146.7 318.0,148.9 318.4,151.0 318.8,153.0 319.2,154.9 319.6,156.6 320.0,157.9 320.4,158.9 320.8,159.6 321.3,160.3 321.7,160.9 322.1,161.2 322.5,161.4 322.9,161.4 323.3,161.3 323.7,161.3 324.1,161.2 324.6,161.2 325.0,161.1 325.4,161.0 325.8,160.9 326.2,160.8 326.6,160.7 327.0,160.6 327.4,160.5 327.9,160.4 328.3,160.3 328.7,160.1 329.1,159.9 329.5,159.7 329.9,159.5 330.3,159.3 330.7,159.0 331.2,158.8 331.6,158.5 332.0,158.2 332.4,158.0 332.8,157.7 333.2,157.5 333.6,157.2 334.0,157.0 334.5,156.7 334.9,156.3 335.3,156.0 335.7,155.7 336.1,155.4 336.5,155.1 336.9,154.9 337.4,154.8 337.8,154.7 338.2,154.8 338.6,155.1 339.0,155.5 339.4,156.0 339.8,156.6 340.2,157.2 340.7,158.2 341.1,159.8 341.5,161.6 341.9,163.6 342.3,165.5 342.7,167.2 343.1,168.6 343.5,170.1 344.0,171.6 344.4,173.0 344.8,174.2 345.2,175.4 345.6,176.4 346.0,177.1 346.4,177.8 346.8,178.4 347.3,178.8 347.7,179.0 348.1,179.0 348.5,178.9 348.9,178.9 349.3,178.9 349.7,178.8 350.1,178.8 350.6,178.7 351.0,178.7 351.4,178.6 351.8,178.5 352.2,178.5 352.6,178.4 353.0,178.3 353.4,178.1 353.9,178.0 354.3,177.8 354.7,177.6 355.1,177.4 355.5,177.1 355.9,176.9 356.3,176.7 356.7,176.4 357.2,176.2 357.6,175.9 358.0,175.7 358.4,175.5 358.8,175.2 359.2,175.0 359.6,174.7 360.1,174.5 360.5,174.2 360.9,173.9 361.3,173.6 361.7,173.4 362.1,173.2 362.5,173.0 362.9,172.8 363.4,172.6 363.8,172.4 364.2,172.2 364.6,172.1 365.0,171.9 365.4,171.8 365.8,171.7 366.2,171.7 366.7,171.7 367.1,171.8 367.5,172.0 367.9,172.3 368.3,172.7 368.7,173.1 369.1,173.5 369.5,174.0 370.0,174.5 370.4,175.0 370.8,175.5 371.2,176.0 371.6,176.6 372.0,177.3 372.4,178.0 372.8,178.7 373.3,179.4 373.7,180.2 374.1,180.9 374.5,181.5 374.9,182.1 375.3,182.7 375.7,183.2 376.1,183.8 376.6,184.4 377.0,184.9 377.4,185.4 377.8,185.9 378.2,186.3 378.6,186.7 379.0,187.0 379.4,187.3 379.9,187.4 380.3,187.6 380.7,187.8 381.1,187.9 381.5,188.0 381.9,188.2 382.3,188.3 382.8,188.3 383.2,188.4 383.6,188.5 384.0,188.6 384.4,188.6 384.8,188.7 385.2,188.7 385.6,188.8 386.1,188.8 386.5,188.9 386.9,188.9 387.3,188.9 387.7,188.9 388.1,188.9 388.5,188.9 388.9,188.9 389.4,188.9 389.8,188.8 390.2,188.8 390.6,188.7 391.0,188.7 391.4,188.7 391.8,188.6 392.2,188.6 392.7,188.5 393.1,188.5 393.5,188.4 393.9,188.4 394.3,188.3 394.7,188.2 395.1,188.2 395.5,188.1 396.0,188.0 396.4,187.9 396.8,187.8 397.2,187.7 397.6,187.6 398.0,187.5 398.4,187.4 398.8,187.3 399.3,187.2 399.7,187.1 400.1,187.0 400.5,186.8 400.9,186.7 401.3,186.5 401.7,186.4 402.1,186.2 402.6,186.1 403.0,185.9 403.4,185.8 403.8,185.6 404.2,185.5 404.6,185.3 405.0,185.1 405.5,185.0 405.9,184.8 406.3,184.6 406.7,184.4 407.1,184.2 407.5,184.0 407.9,183.8 408.3,183.6 408.8,183.4 409.2,183.2 409.6,182.9 410.0,182.7 410.4,182.5 410.8,182.2 411.2,181.9 411.6,181.7 412.1,181.4 412.5,181.1 412.9,180.8 413.3,180.5 413.7,180.2 414.1,179.8 414.5,179.5 414.9,179.1 415.4,178.7 415.8,178.2 416.2,177.8 416.6,177.3 417.0,176.8 417.4,176.3 417.8,175.8 418.2,175.2 418.7,174.7 419.1,174.1 419.5,173.5 419.9,172.9 420.3,172.3 420.7,171.6 421.1,171.0 421.5,170.3 422.0,169.6 422.4,168.8 422.8,168.1 423.2,167.3 423.6,166.4 424.0,165.6 424.4,164.7 424.8,163.7 425.3,162.8 425.7,161.8 426.1,160.8 426.5,159.7 426.9,158.6 427.3,157.5 427.7,156.3 428.2,155.0 428.6,153.8 429.0,152.4 429.4,151.1 429.8,149.8 430.2,148.4 430.6,147.0 431.0,145.6 431.5,144.3 431.9,142.9 432.3,141.4 432.7,140.0 433.1,138.5 433.5,137.0 433.9,135.5 434.3,134.0 434.8,132.5 435.2,131.0 435.6,129.4 436.0,127.9 436.4,126.2 436.8,124.6 437.2,123.0 437.6,121.4 438.1,119.7 438.5,118.1 438.9,116.5 439.3,114.9 439.7,113.4 440.1,111.9 440.5,110.4 440.9,108.9 441.4,107.4 441.8,105.8 442.2,104.2 442.6,102.6 443.0,100.9 443.4,99.2 443.8,97.3 444.2,95.2 444.7,93.1 445.1,90.9 445.5,88.5 445.9,85.9 446.3,83.2 446.7,80.5 447.1,77.7 447.5,75.1 448.0,72.6 448.4,70.1 448.8,67.7 449.2,65.2 449.6,62.7 450.0,60.0 450.4,57.1 450.9,53.8 451.3,50.3 451.7,46.9 452.1,43.9 452.5,41.7 452.9,39.4 453.3,37.5 453.7,36.2 454.2,36.0 454.6,37.4 455.0,39.8 455.4,42.7 455.8,46.9 456.2,52.5 456.6,57.9 457.0,62.3 457.5,66.4 457.9,70.5 458.3,75.1 458.7,80.6 459.1,86.6 459.5,92.4 459.9,97.9 460.3,103.4 460.8,108.6 461.2,113.8 461.6,118.9 462.0,124.1 462.4,129.5 462.8,135.1 463.2,140.5 463.6,145.5 464.1,150.1 464.5,154.6 464.9,158.9 465.3,163.0 465.7,166.8 466.1,170.2 466.5,173.5 466.9,176.6 467.4,179.6 467.8,182.3 468.2,184.7 468.6,186.9 469.0,188.7 469.4,190.3 469.8,191.8 470.2,193.1 470.7,194.2 471.1,195.3 471.5,196.4 471.9,197.4 472.3,198.3 472.7,199.2 473.1,199.9 473.6,200.4 474.0,200.7 474.4,200.9 474.8,201.2 475.2,201.4 475.6,201.6 476.0,201.8 476.4,202.0 476.9,202.2 477.3,202.3 477.7,202.5 478.1,202.6 478.5,202.7 478.9,202.8 479.3,202.9 479.7,203.0 480.2,203.1 480.6,203.2 481.0,203.3 481.4,203.3 481.8,203.4 482.2,203.5 482.6,203.5 483.0,203.6 483.5,203.7 483.9,203.7 484.3,203.8 484.7,203.9 485.1,203.9 485.5,204.0 485.9,204.0 486.3,204.1 486.8,204.1 487.2,204.2 487.6,204.2 488.0,204.3 488.4,204.3 488.8,204.4 489.2,204.4 489.6,204.4 490.1,204.5 490.5,204.5 490.9,204.6 491.3,204.6 491.7,204.6 492.1,204.7 492.5,204.7 492.9,204.7 493.4,204.8 493.8,204.8 494.2,204.8 494.6,204.8 495.0,204.9 495.4,204.9 495.8,204.9 496.3,205.0 496.7,205.0 497.1,205.0 497.5,205.0 497.9,205.1 498.3,205.1 498.7,205.1 499.1,205.1 499.6,205.1 500.0,205.2 500.4,205.2 500.8,205.2 501.2,205.2 501.6,205.2 502.0,205.3 502.4,205.3 502.9,205.3 503.3,205.3 503.7,205.3 504.1,205.4 504.5,205.4 504.9,205.4 505.3,205.4 505.7,205.4 506.2,205.4 506.6,205.4 507.0,205.5 507.4,205.5 507.8,205.5 508.2,205.5 508.6,205.5 509.0,205.5 509.5,205.6 509.9,205.6 510.3,205.6 510.7,205.6 511.1,205.6 511.5,205.6 511.9,205.6 512.3,205.6 512.8,205.7 513.2,205.7 513.6,205.7 514.0,205.7 514.4,205.7 514.8,205.7 515.2,205.7 515.6,205.8 516.1,205.8 516.5,205.8 516.9,205.8 517.3,205.8 517.7,205.8 518.1,205.9 518.5,205.9 519.0,205.9 519.4,205.9 519.8,205.9 520.2,205.9 520.6,205.9 521.0,206.0 521.4,206.0 521.8,206.0 522.3,206.0 522.7,206.0 523.1,206.0 523.5,206.1 523.9,206.1 524.3,206.1 524.7,206.1 525.1,206.1 525.6,206.1 526.0,206.2 526.4,206.2 526.8,206.2 527.2,206.2 527.6,206.2 528.0,206.2 528.4,206.2 528.9,206.3 529.3,206.3 529.7,206.3 530.1,206.3 530.5,206.3 530.9,206.3 531.3,206.4 531.7,206.4 532.2,206.4 532.6,206.4 533.0,206.4 533.4,206.4 533.8,206.4 534.2,206.5 534.6,206.5 535.0,206.5 535.5,206.5 535.9,206.5 536.3,206.5 536.7,206.5 537.1,206.6 537.5,206.6 537.9,206.6 538.3,206.6 538.8,206.6 539.2,206.6 539.6,206.7 540.0,206.7" fill="none" stroke="#3535e0" stroke-width="1.2" stroke-linejoin="round" />
</g>
<line x1="333.64" y1="207.00" x2="333.64" y2="210.30" stroke="#555" stroke-width="1"/>
<text x="333.64" y="220.20" text-anchor="middle" font-size="9.3" font-family="Liberation Serif" font-weight="bold" stroke="#111">300</text>
<line x1="374.91" y1="207.00" x2="374.91" y2="210.30" stroke="#555" stroke-width="1"/>
<text x="374.91" y="220.20" text-anchor="middle" font-size="9.3" font-family="Liberation Serif" font-weight="bold" stroke="#111">400</text>
<line x1="416.18" y1="207.00" x2="416.18" y2="210.30" stroke="#555" stroke-width="1"/>
<text x="416.18" y="220.20" text-anchor="middle" font-size="9.3" font-family="Liberation Serif" font-weight="bold" stroke="#111">500</text>
<line x1="457.45" y1="207.00" x2="457.45" y2="210.30" stroke="#555" stroke-width="1"/>
<text x="457.45" y="220.20" text-anchor="middle" font-size="9.3" font-family="Liberation Serif" font-weight="bold" stroke="#111">600</text>
<line x1="498.73" y1="207.00" x2="498.73" y2="210.30" stroke="#555" stroke-width="1"/>
<text x="498.73" y="220.20" text-anchor="middle" font-size="9.3" font-family="Liberation Serif" font-weight="bold" stroke="#111">700</text>
<line x1="540.00" y1="207.00" x2="540.00" y2="210.30" stroke="#555" stroke-width="1"/>
<text x="540.00" y="220.20" text-anchor="middle" font-size="9.3" font-family="Liberation Serif" font-weight="bold" stroke="#111">800</text>
<line x1="313.00" y1="207.00" x2="313.00" y2="208.80" stroke="#555" stroke-width="1"/>
<line x1="354.27" y1="207.00" x2="354.27" y2="208.80" stroke="#555" stroke-width="1"/>
<line x1="395.55" y1="207.00" x2="395.55" y2="208.80" stroke="#555" stroke-width="1"/>
<line x1="436.82" y1="207.00" x2="436.82" y2="208.80" stroke="#555" stroke-width="1"/>
<line x1="478.09" y1="207.00" x2="478.09" y2="208.80" stroke="#555" stroke-width="1"/>
<line x1="519.36" y1="207.00" x2="519.36" y2="208.80" stroke="#555" stroke-width="1"/>
<line x1="309.70" y1="207.00" x2="313.00" y2="207.00" stroke="#555" stroke-width="1"/>
<text x="307.00" y="210.07" text-anchor="end" font-size="9.3" font-family="Liberation Serif" font-weight="bold" stroke="#111">0.0</text>
<line x1="309.70" y1="173.82" x2="313.00" y2="173.82" stroke="#555" stroke-width="1"/>
<text x="307.00" y="176.89" text-anchor="end" font-size="9.3" font-family="Liberation Serif" font-weight="bold" stroke="#111">0.2</text>
<line x1="309.70" y1="140.63" x2="313.00" y2="140.63" stroke="#555" stroke-width="1"/>
<text x="307.00" y="143.70" text-anchor="end" font-size="9.3" font-family="Liberation Serif" font-weight="bold" stroke="#111">0.4</text>
<line x1="309.70" y1="107.45" x2="313.00" y2="107.45" stroke="#555" stroke-width="1"/>
<text x="307.00" y="110.52" text-anchor="end" font-size="9.3" font-family="Liberation Serif" font-weight="bold" stroke="#111">0.6</text>
<line x1="309.70" y1="74.27" x2="313.00" y2="74.27" stroke="#555" stroke-width="1"/>
<text x="307.00" y="77.34" text-anchor="end" font-size="9.3" font-family="Liberation Serif" font-weight="bold" stroke="#111">0.8</text>
<line x1="309.70" y1="41.08" x2="313.00" y2="41.08" stroke="#555" stroke-width="1"/>
<text x="307.00" y="44.15" text-anchor="end" font-size="9.3" font-family="Liberation Serif" font-weight="bold" stroke="#111">1.0</text>
<line x1="309.70" y1="7.90" x2="313.00" y2="7.90" stroke="#555" stroke-width="1"/>
<text x="307.00" y="10.97" text-anchor="end" font-size="9.3" font-family="Liberation Serif" font-weight="bold" stroke="#111">1.2</text>
<line x1="311.20" y1="190.41" x2="313.00" y2="190.41" stroke="#555" stroke-width="1"/>
<line x1="311.20" y1="157.22" x2="313.00" y2="157.22" stroke="#555" stroke-width="1"/>
<line x1="311.20" y1="124.04" x2="313.00" y2="124.04" stroke="#555" stroke-width="1"/>
<line x1="311.20" y1="90.86" x2="313.00" y2="90.86" stroke="#555" stroke-width="1"/>
<line x1="311.20" y1="57.68" x2="313.00" y2="57.68" stroke="#555" stroke-width="1"/>
<line x1="311.20" y1="24.49" x2="313.00" y2="24.49" stroke="#555" stroke-width="1"/>
<rect x="313.00" y="7.90" width="227.00" height="199.10" fill="none" stroke="#808080" stroke-width="1.5"/>
<text x="460.8" y="33.4" text-anchor="middle" font-size="10.6" fill="#2a2ad8" stroke="#2a2ad8" font-family="Liberation Serif" font-weight="bold" stroke="#111">CN-CeO<tspan font-size="7" dy="0.3">2</tspan></text>
<text x="446.2" y="147.3" text-anchor="middle" font-size="10.4" fill="#e02a2a" stroke="#e02a2a" font-family="Liberation Serif" font-weight="bold" stroke="#111">CeO<tspan font-size="7" dy="0.3">2</tspan></text>
<text x="454.2" y="199.6" text-anchor="middle" font-size="10" fill="#111" stroke="#111" font-family="Liberation Serif" font-weight="bold" stroke="#111">CN</text>
<text x="426.1" y="237.2" text-anchor="middle" font-size="13.3" font-family="Liberation Serif" font-weight="bold" stroke="#111">Wavelength / nm</text>
<text transform="translate(288,100.4) rotate(-90)" text-anchor="middle" font-size="13.3" font-family="Liberation Serif" font-weight="bold" stroke="#111">Absorbance</text>
<text x="281.6" y="14.4" font-size="14.3" font-family="Liberation Serif" font-weight="bold" stroke="#111">B</text>
<clipPath id="clipC"><rect x="39.3" y="251" width="228.0" height="189.60000000000002"/></clipPath>
<g clip-path="url(#clipC)">
<path d="M39.3,336.7 39.9,341.2 40.5,345.7 41.2,350.1 41.8,354.6 42.4,359.0 43.0,363.3 43.7,367.5 44.3,371.6 44.9,375.6 45.5,379.0 46.1,382.0 46.8,384.7 47.4,387.2 48.0,389.2 48.6,390.8 49.2,392.3 49.9,393.8 50.5,395.1 51.1,396.1 51.7,396.8 52.4,397.2 53.0,397.1 53.6,396.9 54.2,396.7 54.8,396.3 55.5,396.0 56.1,395.8 56.7,395.5 57.3,395.3 58.0,395.0 58.6,394.8 59.2,394.5 59.8,394.2 60.4,393.9 61.1,393.6 61.7,393.2 62.3,392.8 62.9,392.6 63.6,392.5 64.2,392.4 64.8,392.6 65.4,393.4 66.0,394.7 66.7,397.4 67.3,400.8 67.9,403.6 68.5,406.4 69.1,408.9 69.8,410.8 70.4,412.4 71.0,413.9 71.6,415.1 72.3,416.1 72.9,416.8 73.5,417.5 74.1,418.1 74.7,418.4 75.4,418.4 76.0,418.3 76.6,418.2 77.2,418.1 77.9,417.9 78.5,417.7 79.1,417.4 79.7,417.2 80.3,416.9 81.0,416.6 81.6,416.2 82.2,415.7 82.8,415.2 83.4,414.5 84.1,413.8 84.7,413.1 85.3,412.4 85.9,411.7 86.6,411.0 87.2,410.4 87.8,409.8 88.4,409.1 89.0,408.5 89.7,408.1 90.3,407.8 90.9,407.6 91.5,407.4 92.2,407.2 92.8,407.1 93.4,407.0 94.0,407.1 94.6,407.4 95.3,407.8 95.9,408.4 96.5,408.9 97.1,409.5 97.8,410.2 98.4,411.0 99.0,411.9 99.6,412.7 100.2,413.5 100.9,414.2 101.5,415.0 102.1,415.8 102.7,416.6 103.3,417.4 104.0,418.1 104.6,418.8 105.2,419.4 105.8,419.9 106.5,420.3 107.1,420.6 107.7,420.8 108.3,421.1 108.9,421.3 109.6,421.5 110.2,421.7 110.8,421.9 111.4,422.0 112.1,422.1 112.7,422.2 113.3,422.2 113.9,422.2 114.5,422.2 115.2,422.2 115.8,422.2 116.4,422.2 117.0,422.1 117.6,422.1 118.3,422.1 118.9,422.1 119.5,422.0 120.1,422.0 120.8,421.9 121.4,421.9 122.0,421.8 122.6,421.8 123.2,421.7 123.9,421.7 124.5,421.6 125.1,421.5 125.7,421.4 126.4,421.3 127.0,421.1 127.6,420.9 128.2,420.7 128.8,420.5 129.5,420.2 130.1,419.9 130.7,419.6 131.3,419.3 132.0,419.0 132.6,418.6 133.2,418.3 133.8,417.9 134.4,417.3 135.1,416.7 135.7,416.1 136.3,415.3 136.9,414.6 137.5,413.8 138.2,413.1 138.8,412.3 139.4,411.6 140.0,410.9 140.7,410.2 141.3,409.5 141.9,409.0 142.5,408.5 143.1,408.1 143.8,407.7 144.4,407.2 145.0,406.6 145.6,406.1 146.3,405.4 146.9,404.7 147.5,403.8 148.1,402.9 148.7,401.8 149.4,400.6 150.0,399.4 150.6,398.2 151.2,396.9 151.8,395.5 152.5,394.1 153.1,392.5 153.7,390.9 154.3,389.3 155.0,387.5 155.6,385.7 156.2,383.7 156.8,381.6 157.4,379.4 158.1,377.2 158.7,375.0 159.3,372.9 159.9,370.7 160.6,368.5 161.2,366.3 161.8,364.1 162.4,361.8 163.0,359.5 163.7,357.1 164.3,354.6 164.9,352.1 165.5,349.5 166.2,346.8 166.8,344.0 167.4,341.0 168.0,337.7 168.6,334.1 169.3,330.2 169.9,326.2 170.5,322.1 171.1,318.0 171.7,313.9 172.4,309.8 173.0,305.6 173.6,301.3 174.2,297.1 174.9,292.9 175.5,288.7 176.1,284.4 176.7,279.8 177.3,274.7 178.0,269.8 178.6,266.1 179.2,262.5 179.8,259.4 180.5,257.4 181.1,256.9 181.7,258.3 182.3,260.9 182.9,264.4 183.6,268.1 184.2,272.7 184.8,278.7 185.4,285.1 186.0,293.3 186.7,307.1 187.3,319.4 187.9,329.9 188.5,339.4 189.2,348.5 189.8,357.5 190.4,366.5 191.0,375.2 191.6,383.7 192.3,392.0 192.9,398.9 193.5,404.6 194.1,409.7 194.8,414.0 195.4,417.3 196.0,419.8 196.6,422.1 197.2,424.0 197.9,425.7 198.5,427.1 199.1,428.3 199.7,429.3 200.4,430.2 201.0,431.0 201.6,431.8 202.2,432.4 202.8,433.0 203.5,433.6 204.1,434.0 204.7,434.4 205.3,434.6 205.9,434.8 206.6,435.1 207.2,435.3 207.8,435.5 208.4,435.7 209.1,435.9 209.7,436.1 210.3,436.2 210.9,436.4 211.5,436.6 212.2,436.7 212.8,436.8 213.4,437.0 214.0,437.1 214.7,437.2 215.3,437.4 215.9,437.5 216.5,437.6 217.1,437.7 217.8,437.8 218.4,437.9 219.0,438.0 219.6,438.1 220.2,438.1 220.9,438.2 221.5,438.3 222.1,438.4 222.7,438.4 223.4,438.5 224.0,438.5 224.6,438.6 225.2,438.7 225.8,438.7 226.5,438.8 227.1,438.8 227.7,438.9 228.3,438.9 229.0,438.9 229.6,439.0 230.2,439.0 230.8,439.1 231.4,439.1 232.1,439.2 232.7,439.2 233.3,439.3 233.9,439.3 234.6,439.4 235.2,439.4 235.8,439.4 236.4,439.5 237.0,439.5 237.7,439.6 238.3,439.6 238.9,439.6 239.5,439.7 240.1,439.7 240.8,439.8 241.4,439.8 242.0,439.8 242.6,439.9 243.3,439.9 243.9,439.9 244.5,440.0 245.1,440.0 245.7,440.0 246.4,440.1 247.0,440.1 247.6,440.1 248.2,440.1 248.9,440.2 249.5,440.2 250.1,440.2 250.7,440.3 251.3,440.3 252.0,440.3 252.6,440.3 253.2,440.3 253.8,440.4 254.4,440.4 255.1,440.4 255.7,440.4 256.3,440.4 256.9,440.5 257.6,440.5 258.2,440.5 258.8,440.5 259.4,440.5 260.0,440.5 260.7,440.5 261.3,440.6 261.9,440.6 262.5,440.6 263.2,440.6 263.8,440.6 264.4,440.6 265.0,440.6 265.6,440.6 266.3,440.6 266.9,440.6" fill="none" stroke="#5a6a60" stroke-width="0.9" stroke-linejoin="round" />
<path d="M39.3,336.7 39.9,341.2 40.5,345.7 41.2,350.1 41.8,354.6 42.4,359.0 43.0,363.3 43.7,367.5 44.3,371.6 44.9,375.6 45.5,379.0 46.1,382.0 46.8,384.7 47.4,387.2 48.0,389.2 48.6,390.8 49.2,392.3 49.9,393.8 50.5,395.1 51.1,396.1 51.7,396.8 52.4,397.2 53.0,397.1 53.6,397.0 54.2,396.7 54.8,396.4 55.5,396.1 56.1,395.8 56.7,395.6 57.3,395.3 58.0,395.1 58.6,394.8 59.2,394.6 59.8,394.3 60.4,394.0 61.1,393.6 61.7,393.2 62.3,392.9 62.9,392.7 63.6,392.6 64.2,392.5 64.8,392.7 65.4,393.5 66.0,394.8 66.7,397.5 67.3,400.8 67.9,403.6 68.5,406.4 69.1,408.9 69.8,410.8 70.4,412.4 71.0,413.8 71.6,415.1 72.3,416.0 72.9,416.8 73.5,417.5 74.1,418.0 74.7,418.3 75.4,418.3 76.0,418.3 76.6,418.2 77.2,418.0 77.9,417.8 78.5,417.6 79.1,417.4 79.7,417.1 80.3,416.8 81.0,416.6 81.6,416.2 82.2,415.7 82.8,415.1 83.4,414.5 84.1,413.8 84.7,413.1 85.3,412.4 85.9,411.7 86.6,411.0 87.2,410.4 87.8,409.8 88.4,409.1 89.0,408.5 89.7,408.1 90.3,407.8 90.9,407.6 91.5,407.4 92.2,407.2 92.8,407.1 93.4,407.0 94.0,407.0 94.6,407.3 95.3,407.7 95.9,408.3 96.5,408.8 97.1,409.4 97.8,410.1 98.4,410.9 99.0,411.7 99.6,412.5 100.2,413.3 100.9,414.0 101.5,414.8 102.1,415.6 102.7,416.4 103.3,417.1 104.0,417.9 104.6,418.5 105.2,419.1 105.8,419.6 106.5,420.0 107.1,420.3 107.7,420.5 108.3,420.8 108.9,421.0 109.6,421.2 110.2,421.4 110.8,421.5 111.4,421.7 112.1,421.8 112.7,421.8 113.3,421.9 113.9,421.9 114.5,421.9 115.2,421.8 115.8,421.8 116.4,421.8 117.0,421.8 117.6,421.8 118.3,421.7 118.9,421.7 119.5,421.7 120.1,421.6 120.8,421.6 121.4,421.6 122.0,421.5 122.6,421.5 123.2,421.4 123.9,421.4 124.5,421.3 125.1,421.2 125.7,421.1 126.4,421.0 127.0,420.8 127.6,420.6 128.2,420.4 128.8,420.2 129.5,419.9 130.1,419.7 130.7,419.4 131.3,419.1 132.0,418.8 132.6,418.5 133.2,418.1 133.8,417.7 134.4,417.2 135.1,416.6 135.7,415.9 136.3,415.2 136.9,414.5 137.5,413.8 138.2,413.0 138.8,412.3 139.4,411.6 140.0,410.9 140.7,410.2 141.3,409.5 141.9,409.0 142.5,408.6 143.1,408.2 143.8,407.7 144.4,407.2 145.0,406.7 145.6,406.1 146.3,405.5 146.9,404.8 147.5,404.0 148.1,403.0 148.7,401.9 149.4,400.8 150.0,399.6 150.6,398.3 151.2,397.1 151.8,395.7 152.5,394.3 153.1,392.8 153.7,391.2 154.3,389.5 155.0,387.8 155.6,385.9 156.2,384.0 156.8,381.9 157.4,379.8 158.1,377.6 158.7,375.4 159.3,373.2 159.9,371.1 160.6,368.9 161.2,366.7 161.8,364.5 162.4,362.3 163.0,360.0 163.7,357.6 164.3,355.1 164.9,352.6 165.5,350.0 166.2,347.4 166.8,344.5 167.4,341.5 168.0,338.3 168.6,334.7 169.3,330.9 169.9,326.8 170.5,322.8 171.1,318.7 171.7,314.6 172.4,310.5 173.0,306.4 173.6,302.2 174.2,298.0 174.9,293.8 175.5,289.6 176.1,285.3 176.7,280.8 177.3,275.7 178.0,270.9 178.6,267.2 179.2,263.6 179.8,260.5 180.5,258.5 181.1,258.1 181.7,259.4 182.3,262.0 182.9,265.5 183.6,269.1 184.2,273.7 184.8,279.7 185.4,286.1 186.0,294.2 186.7,307.9 187.3,320.2 187.9,330.6 188.5,340.1 189.2,349.0 189.8,358.1 190.4,367.0 191.0,375.6 191.6,384.1 192.3,392.3 192.9,399.1 193.5,404.8 194.1,409.9 194.8,414.2 195.4,417.4 196.0,419.9 196.6,422.1 197.2,424.1 197.9,425.8 198.5,427.2 199.1,428.4 199.7,429.3 200.4,430.2 201.0,431.0 201.6,431.8 202.2,432.5 202.8,433.1 203.5,433.6 204.1,434.0 204.7,434.4 205.3,434.6 205.9,434.9 206.6,435.1 207.2,435.3 207.8,435.5 208.4,435.7 209.1,435.9 209.7,436.1 210.3,436.2 210.9,436.4 211.5,436.6 212.2,436.7 212.8,436.9 213.4,437.0 214.0,437.1 214.7,437.3 215.3,437.4 215.9,437.5 216.5,437.6 217.1,437.7 217.8,437.8 218.4,437.9 219.0,438.0 219.6,438.1 220.2,438.2 220.9,438.2 221.5,438.3 222.1,438.4 222.7,438.4 223.4,438.5 224.0,438.6 224.6,438.6 225.2,438.7 225.8,438.7 226.5,438.8 227.1,438.8 227.7,438.9 228.3,438.9 229.0,439.0 229.6,439.0 230.2,439.0 230.8,439.1 231.4,439.1 232.1,439.2 232.7,439.2 233.3,439.3 233.9,439.3 234.6,439.4 235.2,439.4 235.8,439.4 236.4,439.5 237.0,439.5 237.7,439.6 238.3,439.6 238.9,439.6 239.5,439.7 240.1,439.7 240.8,439.8 241.4,439.8 242.0,439.8 242.6,439.9 243.3,439.9 243.9,439.9 244.5,440.0 245.1,440.0 245.7,440.0 246.4,440.1 247.0,440.1 247.6,440.1 248.2,440.1 248.9,440.2 249.5,440.2 250.1,440.2 250.7,440.3 251.3,440.3 252.0,440.3 252.6,440.3 253.2,440.3 253.8,440.4 254.4,440.4 255.1,440.4 255.7,440.4 256.3,440.4 256.9,440.5 257.6,440.5 258.2,440.5 258.8,440.5 259.4,440.5 260.0,440.5 260.7,440.5 261.3,440.6 261.9,440.6 262.5,440.6 263.2,440.6 263.8,440.6 264.4,440.6 265.0,440.6 265.6,440.6 266.3,440.6 266.9,440.6" fill="none" stroke="#8a9a6a" stroke-width="0.9" stroke-linejoin="round" />
<path d="M39.3,336.7 39.9,341.2 40.5,345.7 41.2,350.1 41.8,354.6 42.4,359.0 43.0,363.3 43.7,367.5 44.3,371.6 44.9,375.6 45.5,379.0 46.1,382.0 46.8,384.7 47.4,387.2 48.0,389.2 48.6,390.8 49.2,392.3 49.9,393.8 50.5,395.1 51.1,396.1 51.7,396.8 52.4,397.2 53.0,397.1 53.6,397.0 54.2,396.7 54.8,396.4 55.5,396.1 56.1,395.9 56.7,395.6 57.3,395.4 58.0,395.2 58.6,395.0 59.2,394.7 59.8,394.5 60.4,394.2 61.1,393.8 61.7,393.4 62.3,393.1 62.9,392.9 63.6,392.8 64.2,392.8 64.8,393.0 65.4,393.7 66.0,395.0 66.7,397.7 67.3,401.0 67.9,403.7 68.5,406.4 69.1,408.9 69.8,410.8 70.4,412.4 71.0,413.8 71.6,415.0 72.3,415.9 72.9,416.7 73.5,417.4 74.1,417.9 74.7,418.2 75.4,418.2 76.0,418.2 76.6,418.0 77.2,417.9 77.9,417.7 78.5,417.5 79.1,417.3 79.7,417.0 80.3,416.7 81.0,416.4 81.6,416.1 82.2,415.6 82.8,415.0 83.4,414.4 84.1,413.7 84.7,413.0 85.3,412.3 85.9,411.6 86.6,411.0 87.2,410.4 87.8,409.7 88.4,409.1 89.0,408.5 89.7,408.0 90.3,407.7 90.9,407.5 91.5,407.3 92.2,407.1 92.8,407.0 93.4,406.9 94.0,406.9 94.6,407.2 95.3,407.6 95.9,408.1 96.5,408.6 97.1,409.1 97.8,409.8 98.4,410.5 99.0,411.3 99.6,412.1 100.2,412.9 100.9,413.6 101.5,414.3 102.1,415.1 102.7,415.8 103.3,416.6 104.0,417.3 104.6,417.9 105.2,418.5 105.8,419.0 106.5,419.4 107.1,419.6 107.7,419.8 108.3,420.1 108.9,420.3 109.6,420.5 110.2,420.6 110.8,420.8 111.4,420.9 112.1,421.0 112.7,421.0 113.3,421.1 113.9,421.1 114.5,421.0 115.2,421.0 115.8,421.0 116.4,421.0 117.0,421.0 117.6,421.0 118.3,420.9 118.9,420.9 119.5,420.9 120.1,420.8 120.8,420.8 121.4,420.8 122.0,420.7 122.6,420.7 123.2,420.7 123.9,420.6 124.5,420.6 125.1,420.5 125.7,420.4 126.4,420.3 127.0,420.1 127.6,420.0 128.2,419.8 128.8,419.6 129.5,419.3 130.1,419.1 130.7,418.8 131.3,418.6 132.0,418.3 132.6,418.0 133.2,417.7 133.8,417.3 134.4,416.8 135.1,416.3 135.7,415.6 136.3,415.0 136.9,414.3 137.5,413.6 138.2,412.9 138.8,412.2 139.4,411.5 140.0,410.9 140.7,410.2 141.3,409.5 141.9,409.0 142.5,408.6 143.1,408.3 143.8,407.8 144.4,407.3 145.0,406.9 145.6,406.3 146.3,405.7 146.9,405.0 147.5,404.2 148.1,403.3 148.7,402.2 149.4,401.1 150.0,399.9 150.6,398.7 151.2,397.5 151.8,396.2 152.5,394.8 153.1,393.3 153.7,391.7 154.3,390.1 155.0,388.4 155.6,386.6 156.2,384.6 156.8,382.6 157.4,380.5 158.1,378.3 158.7,376.2 159.3,374.1 159.9,371.9 160.6,369.8 161.2,367.7 161.8,365.5 162.4,363.3 163.0,361.0 163.7,358.7 164.3,356.2 164.9,353.8 165.5,351.2 166.2,348.6 166.8,345.8 167.4,342.9 168.0,339.7 168.6,336.1 169.3,332.4 169.9,328.4 170.5,324.4 171.1,320.4 171.7,316.4 172.4,312.3 173.0,308.2 173.6,304.1 174.2,300.0 174.9,295.9 175.5,291.7 176.1,287.5 176.7,283.1 177.3,278.1 178.0,273.3 178.6,269.7 179.2,266.2 179.8,263.2 180.5,261.2 181.1,260.7 181.7,262.0 182.3,264.6 182.9,268.0 183.6,271.6 184.2,276.2 184.8,282.0 185.4,288.4 186.0,296.3 186.7,309.9 187.3,321.9 187.9,332.1 188.5,341.5 189.2,350.4 189.8,359.2 190.4,368.0 191.0,376.5 191.6,384.9 192.3,392.9 192.9,399.7 193.5,405.3 194.1,410.3 194.8,414.5 195.4,417.7 196.0,420.2 196.6,422.4 197.2,424.3 197.9,426.0 198.5,427.4 199.1,428.5 199.7,429.5 200.4,430.3 201.0,431.2 201.6,431.9 202.2,432.6 202.8,433.2 203.5,433.7 204.1,434.1 204.7,434.4 205.3,434.7 205.9,434.9 206.6,435.1 207.2,435.4 207.8,435.6 208.4,435.8 209.1,435.9 209.7,436.1 210.3,436.3 210.9,436.5 211.5,436.6 212.2,436.8 212.8,436.9 213.4,437.0 214.0,437.2 214.7,437.3 215.3,437.4 215.9,437.5 216.5,437.6 217.1,437.7 217.8,437.8 218.4,437.9 219.0,438.0 219.6,438.1 220.2,438.2 220.9,438.3 221.5,438.3 222.1,438.4 222.7,438.5 223.4,438.5 224.0,438.6 224.6,438.6 225.2,438.7 225.8,438.7 226.5,438.8 227.1,438.8 227.7,438.9 228.3,438.9 229.0,439.0 229.6,439.0 230.2,439.1 230.8,439.1 231.4,439.2 232.1,439.2 232.7,439.2 233.3,439.3 233.9,439.3 234.6,439.4 235.2,439.4 235.8,439.5 236.4,439.5 237.0,439.5 237.7,439.6 238.3,439.6 238.9,439.7 239.5,439.7 240.1,439.7 240.8,439.8 241.4,439.8 242.0,439.8 242.6,439.9 243.3,439.9 243.9,439.9 244.5,440.0 245.1,440.0 245.7,440.0 246.4,440.1 247.0,440.1 247.6,440.1 248.2,440.2 248.9,440.2 249.5,440.2 250.1,440.2 250.7,440.3 251.3,440.3 252.0,440.3 252.6,440.3 253.2,440.3 253.8,440.4 254.4,440.4 255.1,440.4 255.7,440.4 256.3,440.4 256.9,440.5 257.6,440.5 258.2,440.5 258.8,440.5 259.4,440.5 260.0,440.5 260.7,440.5 261.3,440.6 261.9,440.6 262.5,440.6 263.2,440.6 263.8,440.6 264.4,440.6 265.0,440.6 265.6,440.6 266.3,440.6 266.9,440.6" fill="none" stroke="#a0a0a8" stroke-width="0.9" stroke-linejoin="round" />
<path d="M39.3,336.7 39.9,341.2 40.5,345.7 41.2,350.1 41.8,354.6 42.4,359.0 43.0,363.3 43.7,367.5 44.3,371.6 44.9,375.6 45.5,379.0 46.1,382.0 46.8,384.7 47.4,387.2 48.0,389.2 48.6,390.8 49.2,392.3 49.9,393.8 50.5,395.0 51.1,396.1 51.7,396.8 52.4,397.2 53.0,397.2 53.6,397.0 54.2,396.8 54.8,396.5 55.5,396.2 56.1,395.9 56.7,395.7 57.3,395.5 58.0,395.3 58.6,395.1 59.2,394.8 59.8,394.6 60.4,394.3 61.1,394.0 61.7,393.6 62.3,393.3 62.9,393.1 63.6,393.0 64.2,393.0 64.8,393.2 65.4,394.0 66.0,395.2 66.7,397.8 67.3,401.1 67.9,403.8 68.5,406.5 69.1,408.9 69.8,410.7 70.4,412.3 71.0,413.7 71.6,414.9 72.3,415.9 72.9,416.6 73.5,417.3 74.1,417.8 74.7,418.1 75.4,418.1 76.0,418.0 76.6,417.9 77.2,417.8 77.9,417.6 78.5,417.4 79.1,417.1 79.7,416.9 80.3,416.6 81.0,416.3 81.6,416.0 82.2,415.5 82.8,414.9 83.4,414.3 84.1,413.6 84.7,412.9 85.3,412.2 85.9,411.5 86.6,410.9 87.2,410.3 87.8,409.7 88.4,409.0 89.0,408.4 89.7,408.0 90.3,407.7 90.9,407.5 91.5,407.2 92.2,407.0 92.8,406.9 93.4,406.8 94.0,406.8 94.6,407.0 95.3,407.4 95.9,407.9 96.5,408.4 97.1,408.9 97.8,409.5 98.4,410.2 99.0,411.0 99.6,411.8 100.2,412.5 100.9,413.2 101.5,413.9 102.1,414.6 102.7,415.3 103.3,416.1 104.0,416.7 104.6,417.4 105.2,417.9 105.8,418.4 106.5,418.7 107.1,419.0 107.7,419.2 108.3,419.4 108.9,419.6 109.6,419.8 110.2,419.9 110.8,420.1 111.4,420.2 112.1,420.3 112.7,420.3 113.3,420.3 113.9,420.3 114.5,420.3 115.2,420.3 115.8,420.3 116.4,420.2 117.0,420.2 117.6,420.2 118.3,420.2 118.9,420.2 119.5,420.1 120.1,420.1 120.8,420.1 121.4,420.0 122.0,420.0 122.6,420.0 123.2,419.9 123.9,419.9 124.5,419.9 125.1,419.8 125.7,419.8 126.4,419.6 127.0,419.5 127.6,419.4 128.2,419.2 128.8,419.0 129.5,418.8 130.1,418.6 130.7,418.3 131.3,418.1 132.0,417.8 132.6,417.6 133.2,417.3 133.8,416.9 134.4,416.5 135.1,415.9 135.7,415.4 136.3,414.7 136.9,414.1 137.5,413.4 138.2,412.7 138.8,412.1 139.4,411.4 140.0,410.8 140.7,410.2 141.3,409.5 141.9,409.0 142.5,408.7 143.1,408.3 143.8,407.9 144.4,407.5 145.0,407.0 145.6,406.5 146.3,405.9 146.9,405.2 147.5,404.4 148.1,403.5 148.7,402.5 149.4,401.4 150.0,400.3 150.6,399.1 151.2,397.9 151.8,396.6 152.5,395.2 153.1,393.7 153.7,392.2 154.3,390.6 155.0,388.9 155.6,387.2 156.2,385.2 156.8,383.2 157.4,381.2 158.1,379.1 158.7,376.9 159.3,374.8 159.9,372.8 160.6,370.7 161.2,368.6 161.8,366.4 162.4,364.2 163.0,362.0 163.7,359.7 164.3,357.3 164.9,354.8 165.5,352.4 166.2,349.8 166.8,347.0 167.4,344.1 168.0,340.9 168.6,337.5 169.3,333.7 169.9,329.8 170.5,325.9 171.1,321.9 171.7,318.0 172.4,314.0 173.0,310.0 173.6,305.9 174.2,301.8 174.9,297.8 175.5,293.7 176.1,289.6 176.7,285.2 177.3,280.2 178.0,275.6 178.6,272.0 179.2,268.5 179.8,265.6 180.5,263.6 181.1,263.2 181.7,264.5 182.3,267.1 182.9,270.4 183.6,274.0 184.2,278.4 184.8,284.2 185.4,290.4 186.0,298.3 186.7,311.7 187.3,323.5 187.9,333.6 188.5,342.9 189.2,351.6 189.8,360.3 190.4,369.0 191.0,377.3 191.6,385.6 192.3,393.6 192.9,400.2 193.5,405.7 194.1,410.6 194.8,414.8 195.4,418.0 196.0,420.4 196.6,422.6 197.2,424.5 197.9,426.1 198.5,427.5 199.1,428.7 199.7,429.6 200.4,430.4 201.0,431.2 201.6,432.0 202.2,432.6 202.8,433.2 203.5,433.7 204.1,434.2 204.7,434.5 205.3,434.8 205.9,435.0 206.6,435.2 207.2,435.4 207.8,435.6 208.4,435.8 209.1,436.0 209.7,436.2 210.3,436.3 210.9,436.5 211.5,436.7 212.2,436.8 212.8,437.0 213.4,437.1 214.0,437.2 214.7,437.3 215.3,437.5 215.9,437.6 216.5,437.7 217.1,437.8 217.8,437.9 218.4,438.0 219.0,438.0 219.6,438.1 220.2,438.2 220.9,438.3 221.5,438.4 222.1,438.4 222.7,438.5 223.4,438.5 224.0,438.6 224.6,438.7 225.2,438.7 225.8,438.8 226.5,438.8 227.1,438.9 227.7,438.9 228.3,438.9 229.0,439.0 229.6,439.0 230.2,439.1 230.8,439.1 231.4,439.2 232.1,439.2 232.7,439.3 233.3,439.3 233.9,439.3 234.6,439.4 235.2,439.4 235.8,439.5 236.4,439.5 237.0,439.6 237.7,439.6 238.3,439.6 238.9,439.7 239.5,439.7 240.1,439.7 240.8,439.8 241.4,439.8 242.0,439.8 242.6,439.9 243.3,439.9 243.9,439.9 244.5,440.0 245.1,440.0 245.7,440.0 246.4,440.1 247.0,440.1 247.6,440.1 248.2,440.2 248.9,440.2 249.5,440.2 250.1,440.2 250.7,440.3 251.3,440.3 252.0,440.3 252.6,440.3 253.2,440.4 253.8,440.4 254.4,440.4 255.1,440.4 255.7,440.4 256.3,440.4 256.9,440.5 257.6,440.5 258.2,440.5 258.8,440.5 259.4,440.5 260.0,440.5 260.7,440.5 261.3,440.6 261.9,440.6 262.5,440.6 263.2,440.6 263.8,440.6 264.4,440.6 265.0,440.6 265.6,440.6 266.3,440.6 266.9,440.6" fill="none" stroke="#98b090" stroke-width="0.9" stroke-linejoin="round" />
<path d="M39.3,336.7 39.9,341.2 40.5,345.7 41.2,350.1 41.8,354.6 42.4,359.0 43.0,363.3 43.7,367.5 44.3,371.6 44.9,375.6 45.5,379.0 46.1,382.0 46.8,384.7 47.4,387.2 48.0,389.2 48.6,390.8 49.2,392.3 49.9,393.8 50.5,395.0 51.1,396.1 51.7,396.8 52.4,397.2 53.0,397.2 53.6,397.0 54.2,396.8 54.8,396.5 55.5,396.3 56.1,396.0 56.7,395.8 57.3,395.6 58.0,395.4 58.6,395.2 59.2,395.0 59.8,394.8 60.4,394.5 61.1,394.2 61.7,393.8 62.3,393.6 62.9,393.4 63.6,393.3 64.2,393.3 64.8,393.5 65.4,394.2 66.0,395.4 66.7,398.1 67.3,401.2 67.9,403.9 68.5,406.6 69.1,408.9 69.8,410.7 70.4,412.3 71.0,413.7 71.6,414.8 72.3,415.7 72.9,416.5 73.5,417.1 74.1,417.7 74.7,417.9 75.4,417.9 76.0,417.9 76.6,417.8 77.2,417.6 77.9,417.4 78.5,417.2 79.1,417.0 79.7,416.7 80.3,416.5 81.0,416.2 81.6,415.8 82.2,415.4 82.8,414.8 83.4,414.2 84.1,413.5 84.7,412.8 85.3,412.1 85.9,411.5 86.6,410.8 87.2,410.2 87.8,409.6 88.4,408.9 89.0,408.4 89.7,407.9 90.3,407.6 90.9,407.4 91.5,407.2 92.2,407.0 92.8,406.8 93.4,406.7 94.0,406.7 94.6,406.9 95.3,407.2 95.9,407.6 96.5,408.1 97.1,408.5 97.8,409.1 98.4,409.8 99.0,410.5 99.6,411.3 100.2,412.0 100.9,412.6 101.5,413.3 102.1,414.0 102.7,414.7 103.3,415.4 104.0,416.0 104.6,416.6 105.2,417.2 105.8,417.6 106.5,417.9 107.1,418.2 107.7,418.4 108.3,418.5 108.9,418.7 109.6,418.9 110.2,419.0 110.8,419.1 111.4,419.2 112.1,419.3 112.7,419.3 113.3,419.4 113.9,419.3 114.5,419.3 115.2,419.3 115.8,419.3 116.4,419.3 117.0,419.2 117.6,419.2 118.3,419.2 118.9,419.2 119.5,419.2 120.1,419.1 120.8,419.1 121.4,419.1 122.0,419.1 122.6,419.0 123.2,419.0 123.9,419.0 124.5,419.0 125.1,419.0 125.7,418.9 126.4,418.8 127.0,418.7 127.6,418.6 128.2,418.4 128.8,418.3 129.5,418.1 130.1,417.9 130.7,417.7 131.3,417.5 132.0,417.2 132.6,417.0 133.2,416.8 133.8,416.4 134.4,416.0 135.1,415.5 135.7,415.0 136.3,414.4 136.9,413.8 137.5,413.2 138.2,412.5 138.8,411.9 139.4,411.3 140.0,410.8 140.7,410.1 141.3,409.5 141.9,409.1 142.5,408.7 143.1,408.4 143.8,408.0 144.4,407.6 145.0,407.2 145.6,406.7 146.3,406.1 146.9,405.5 147.5,404.7 148.1,403.8 148.7,402.9 149.4,401.8 150.0,400.7 150.6,399.6 151.2,398.4 151.8,397.1 152.5,395.8 153.1,394.4 153.7,392.9 154.3,391.3 155.0,389.7 155.6,387.9 156.2,386.1 156.8,384.1 157.4,382.1 158.1,380.0 158.7,377.9 159.3,375.9 159.9,373.8 160.6,371.8 161.2,369.7 161.8,367.6 162.4,365.5 163.0,363.3 163.7,361.0 164.3,358.6 164.9,356.3 165.5,353.8 166.2,351.3 166.8,348.6 167.4,345.7 168.0,342.6 168.6,339.2 169.3,335.5 169.9,331.7 170.5,327.8 171.1,324.0 171.7,320.1 172.4,316.2 173.0,312.3 173.6,308.3 174.2,304.3 174.9,300.3 175.5,296.3 176.1,292.2 176.7,288.0 177.3,283.1 178.0,278.5 178.6,275.0 179.2,271.7 179.8,268.7 180.5,266.8 181.1,266.4 181.7,267.7 182.3,270.2 182.9,273.5 183.6,277.0 184.2,281.4 184.8,287.0 185.4,293.2 186.0,300.9 186.7,314.0 187.3,325.6 187.9,335.6 188.5,344.6 189.2,353.2 189.8,361.8 190.4,370.3 191.0,378.5 191.6,386.6 192.3,394.4 192.9,400.9 193.5,406.3 194.1,411.1 194.8,415.2 195.4,418.3 196.0,420.7 196.6,422.9 197.2,424.7 197.9,426.3 198.5,427.7 199.1,428.8 199.7,429.7 200.4,430.6 201.0,431.4 201.6,432.1 202.2,432.7 202.8,433.3 203.5,433.8 204.1,434.2 204.7,434.6 205.3,434.8 205.9,435.1 206.6,435.3 207.2,435.5 207.8,435.7 208.4,435.9 209.1,436.1 209.7,436.2 210.3,436.4 210.9,436.6 211.5,436.7 212.2,436.9 212.8,437.0 213.4,437.1 214.0,437.3 214.7,437.4 215.3,437.5 215.9,437.6 216.5,437.7 217.1,437.8 217.8,437.9 218.4,438.0 219.0,438.1 219.6,438.2 220.2,438.2 220.9,438.3 221.5,438.4 222.1,438.5 222.7,438.5 223.4,438.6 224.0,438.6 224.6,438.7 225.2,438.7 225.8,438.8 226.5,438.8 227.1,438.9 227.7,438.9 228.3,439.0 229.0,439.0 229.6,439.1 230.2,439.1 230.8,439.2 231.4,439.2 232.1,439.2 232.7,439.3 233.3,439.3 233.9,439.4 234.6,439.4 235.2,439.4 235.8,439.5 236.4,439.5 237.0,439.6 237.7,439.6 238.3,439.6 238.9,439.7 239.5,439.7 240.1,439.8 240.8,439.8 241.4,439.8 242.0,439.9 242.6,439.9 243.3,439.9 243.9,440.0 244.5,440.0 245.1,440.0 245.7,440.1 246.4,440.1 247.0,440.1 247.6,440.1 248.2,440.2 248.9,440.2 249.5,440.2 250.1,440.2 250.7,440.3 251.3,440.3 252.0,440.3 252.6,440.3 253.2,440.4 253.8,440.4 254.4,440.4 255.1,440.4 255.7,440.4 256.3,440.4 256.9,440.5 257.6,440.5 258.2,440.5 258.8,440.5 259.4,440.5 260.0,440.5 260.7,440.5 261.3,440.6 261.9,440.6 262.5,440.6 263.2,440.6 263.8,440.6 264.4,440.6 265.0,440.6 265.6,440.6 266.3,440.6 266.9,440.6" fill="none" stroke="#80c8e0" stroke-width="0.9" stroke-linejoin="round" />
<path d="M39.3,336.7 39.9,341.2 40.5,345.7 41.2,350.1 41.8,354.6 42.4,359.0 43.0,363.3 43.7,367.5 44.3,371.6 44.9,375.6 45.5,379.0 46.1,382.0 46.8,384.7 47.4,387.2 48.0,389.2 48.6,390.8 49.2,392.3 49.9,393.7 50.5,395.0 51.1,396.1 51.7,396.8 52.4,397.2 53.0,397.2 53.6,397.1 54.2,396.9 54.8,396.6 55.5,396.4 56.1,396.2 56.7,396.0 57.3,395.8 58.0,395.6 58.6,395.4 59.2,395.2 59.8,395.0 60.4,394.8 61.1,394.5 61.7,394.1 62.3,393.9 62.9,393.7 63.6,393.7 64.2,393.6 64.8,393.8 65.4,394.6 66.0,395.8 66.7,398.4 67.3,401.5 67.9,404.1 68.5,406.7 69.1,409.0 69.8,410.7 70.4,412.2 71.0,413.6 71.6,414.7 72.3,415.6 72.9,416.3 73.5,416.9 74.1,417.5 74.7,417.7 75.4,417.7 76.0,417.7 76.6,417.6 77.2,417.4 77.9,417.2 78.5,417.0 79.1,416.8 79.7,416.5 80.3,416.3 81.0,416.0 81.6,415.6 82.2,415.2 82.8,414.6 83.4,414.0 84.1,413.4 84.7,412.7 85.3,412.0 85.9,411.4 86.6,410.7 87.2,410.1 87.8,409.5 88.4,408.9 89.0,408.3 89.7,407.8 90.3,407.6 90.9,407.3 91.5,407.0 92.2,406.8 92.8,406.7 93.4,406.5 94.0,406.5 94.6,406.7 95.3,406.9 95.9,407.3 96.5,407.7 97.1,408.1 97.8,408.6 98.4,409.2 99.0,409.9 99.6,410.6 100.2,411.2 100.9,411.9 101.5,412.5 102.1,413.2 102.7,413.8 103.3,414.5 104.0,415.1 104.6,415.7 105.2,416.1 105.8,416.6 106.5,416.9 107.1,417.0 107.7,417.2 108.3,417.4 108.9,417.5 109.6,417.6 110.2,417.8 110.8,417.9 111.4,418.0 112.1,418.0 112.7,418.0 113.3,418.0 113.9,418.0 114.5,418.0 115.2,418.0 115.8,417.9 116.4,417.9 117.0,417.9 117.6,417.9 118.3,417.9 118.9,417.9 119.5,417.8 120.1,417.8 120.8,417.8 121.4,417.8 122.0,417.8 122.6,417.8 123.2,417.8 123.9,417.8 124.5,417.8 125.1,417.8 125.7,417.7 126.4,417.7 127.0,417.6 127.6,417.5 128.2,417.4 128.8,417.3 129.5,417.1 130.1,417.0 130.7,416.8 131.3,416.6 132.0,416.4 132.6,416.3 133.2,416.1 133.8,415.8 134.4,415.4 135.1,415.0 135.7,414.5 136.3,414.0 136.9,413.4 137.5,412.9 138.2,412.3 138.8,411.7 139.4,411.2 140.0,410.7 140.7,410.1 141.3,409.6 141.9,409.1 142.5,408.8 143.1,408.6 143.8,408.2 144.4,407.8 145.0,407.4 145.6,406.9 146.3,406.4 146.9,405.8 147.5,405.1 148.1,404.3 148.7,403.3 149.4,402.3 150.0,401.3 150.6,400.2 151.2,399.1 151.8,397.9 152.5,396.6 153.1,395.2 153.7,393.8 154.3,392.2 155.0,390.7 155.6,389.0 156.2,387.1 156.8,385.2 157.4,383.3 158.1,381.2 158.7,379.2 159.3,377.2 159.9,375.2 160.6,373.3 161.2,371.3 161.8,369.2 162.4,367.1 163.0,365.0 163.7,362.8 164.3,360.5 164.9,358.2 165.5,355.8 166.2,353.3 166.8,350.7 167.4,347.9 168.0,344.9 168.6,341.6 169.3,338.0 169.9,334.3 170.5,330.5 171.1,326.7 171.7,323.0 172.4,319.2 173.0,315.3 173.6,311.4 174.2,307.6 174.9,303.7 175.5,299.8 176.1,295.9 176.7,291.7 177.3,287.0 178.0,282.5 178.6,279.1 179.2,275.8 179.8,273.0 180.5,271.1 181.1,270.8 181.7,272.0 182.3,274.5 182.9,277.7 183.6,281.1 184.2,285.4 184.8,290.9 185.4,296.9 186.0,304.4 186.7,317.2 187.3,328.5 187.9,338.2 188.5,347.0 189.2,355.3 189.8,363.7 190.4,372.0 191.0,380.0 191.6,387.9 192.3,395.5 192.9,401.8 193.5,407.1 194.1,411.8 194.8,415.8 195.4,418.8 196.0,421.1 196.6,423.2 197.2,425.1 197.9,426.6 198.5,428.0 199.1,429.1 199.7,430.0 200.4,430.8 201.0,431.6 201.6,432.3 202.2,432.9 202.8,433.5 203.5,433.9 204.1,434.4 204.7,434.7 205.3,434.9 205.9,435.2 206.6,435.4 207.2,435.6 207.8,435.8 208.4,436.0 209.1,436.1 209.7,436.3 210.3,436.5 210.9,436.6 211.5,436.8 212.2,436.9 212.8,437.1 213.4,437.2 214.0,437.3 214.7,437.5 215.3,437.6 215.9,437.7 216.5,437.8 217.1,437.9 217.8,438.0 218.4,438.1 219.0,438.1 219.6,438.2 220.2,438.3 220.9,438.4 221.5,438.4 222.1,438.5 222.7,438.6 223.4,438.6 224.0,438.7 224.6,438.7 225.2,438.8 225.8,438.8 226.5,438.9 227.1,438.9 227.7,439.0 228.3,439.0 229.0,439.0 229.6,439.1 230.2,439.1 230.8,439.2 231.4,439.2 232.1,439.3 232.7,439.3 233.3,439.4 233.9,439.4 234.6,439.4 235.2,439.5 235.8,439.5 236.4,439.6 237.0,439.6 237.7,439.6 238.3,439.7 238.9,439.7 239.5,439.7 240.1,439.8 240.8,439.8 241.4,439.8 242.0,439.9 242.6,439.9 243.3,439.9 243.9,440.0 244.5,440.0 245.1,440.0 245.7,440.1 246.4,440.1 247.0,440.1 247.6,440.1 248.2,440.2 248.9,440.2 249.5,440.2 250.1,440.3 250.7,440.3 251.3,440.3 252.0,440.3 252.6,440.3 253.2,440.4 253.8,440.4 254.4,440.4 255.1,440.4 255.7,440.4 256.3,440.5 256.9,440.5 257.6,440.5 258.2,440.5 258.8,440.5 259.4,440.5 260.0,440.5 260.7,440.5 261.3,440.6 261.9,440.6 262.5,440.6 263.2,440.6 263.8,440.6 264.4,440.6 265.0,440.6 265.6,440.6 266.3,440.6 266.9,440.6" fill="none" stroke="#e088b8" stroke-width="0.9" stroke-linejoin="round" />
<path d="M39.3,336.7 39.9,341.2 40.5,345.7 41.2,350.1 41.8,354.6 42.4,359.0 43.0,363.3 43.7,367.5 44.3,371.6 44.9,375.6 45.5,379.0 46.1,382.0 46.8,384.7 47.4,387.2 48.0,389.2 48.6,390.8 49.2,392.3 49.9,393.7 50.5,395.0 51.1,396.0 51.7,396.8 52.4,397.2 53.0,397.2 53.6,397.1 54.2,396.9 54.8,396.7 55.5,396.5 56.1,396.3 56.7,396.1 57.3,396.0 58.0,395.8 58.6,395.6 59.2,395.5 59.8,395.3 60.4,395.1 61.1,394.8 61.7,394.5 62.3,394.3 62.9,394.1 63.6,394.1 64.2,394.1 64.8,394.3 65.4,395.0 66.0,396.2 66.7,398.7 67.3,401.7 67.9,404.3 68.5,406.8 69.1,409.0 69.8,410.7 70.4,412.2 71.0,413.4 71.6,414.5 72.3,415.4 72.9,416.1 73.5,416.7 74.1,417.2 74.7,417.5 75.4,417.5 76.0,417.4 76.6,417.3 77.2,417.2 77.9,417.0 78.5,416.8 79.1,416.6 79.7,416.3 80.3,416.1 81.0,415.8 81.6,415.4 82.2,415.0 82.8,414.4 83.4,413.8 84.1,413.2 84.7,412.6 85.3,411.9 85.9,411.2 86.6,410.6 87.2,410.0 87.8,409.4 88.4,408.8 89.0,408.2 89.7,407.8 90.3,407.5 90.9,407.2 91.5,406.9 92.2,406.7 92.8,406.5 93.4,406.4 94.0,406.3 94.6,406.4 95.3,406.6 95.9,406.9 96.5,407.2 97.1,407.5 97.8,408.0 98.4,408.6 99.0,409.2 99.6,409.9 100.2,410.4 100.9,411.0 101.5,411.6 102.1,412.2 102.7,412.8 103.3,413.5 104.0,414.0 104.6,414.5 105.2,415.0 105.8,415.4 106.5,415.6 107.1,415.8 107.7,415.9 108.3,416.0 108.9,416.2 109.6,416.3 110.2,416.4 110.8,416.4 111.4,416.5 112.1,416.6 112.7,416.6 113.3,416.6 113.9,416.5 114.5,416.5 115.2,416.4 115.8,416.4 116.4,416.4 117.0,416.4 117.6,416.4 118.3,416.4 118.9,416.4 119.5,416.4 120.1,416.4 120.8,416.3 121.4,416.3 122.0,416.3 122.6,416.4 123.2,416.4 123.9,416.4 124.5,416.4 125.1,416.4 125.7,416.4 126.4,416.4 127.0,416.3 127.6,416.3 128.2,416.2 128.8,416.1 129.5,416.0 130.1,415.9 130.7,415.8 131.3,415.7 132.0,415.5 132.6,415.4 133.2,415.3 133.8,415.0 134.4,414.8 135.1,414.4 135.7,414.0 136.3,413.5 136.9,413.0 137.5,412.5 138.2,412.0 138.8,411.5 139.4,411.0 140.0,410.6 140.7,410.1 141.3,409.6 141.9,409.2 142.5,408.9 143.1,408.7 143.8,408.4 144.4,408.0 145.0,407.7 145.6,407.3 146.3,406.8 146.9,406.2 147.5,405.5 148.1,404.8 148.7,403.9 149.4,403.0 150.0,402.0 150.6,400.9 151.2,399.9 151.8,398.7 152.5,397.5 153.1,396.2 153.7,394.8 154.3,393.3 155.0,391.8 155.6,390.1 156.2,388.4 156.8,386.5 157.4,384.6 158.1,382.7 158.7,380.7 159.3,378.8 159.9,376.9 160.6,374.9 161.2,373.0 161.8,371.0 162.4,369.0 163.0,366.9 163.7,364.8 164.3,362.6 164.9,360.3 165.5,358.0 166.2,355.6 166.8,353.1 167.4,350.4 168.0,347.4 168.6,344.2 169.3,340.8 169.9,337.2 170.5,333.5 171.1,329.9 171.7,326.2 172.4,322.6 173.0,318.8 173.6,315.1 174.2,311.3 174.9,307.6 175.5,303.8 176.1,300.0 176.7,295.9 177.3,291.4 178.0,287.1 178.6,283.8 179.2,280.6 179.8,277.8 180.5,276.0 181.1,275.7 181.7,276.9 182.3,279.3 182.9,282.4 183.6,285.7 184.2,289.9 184.8,295.3 185.4,301.1 186.0,308.4 186.7,320.8 187.3,331.8 187.9,341.1 188.5,349.7 189.2,357.8 189.8,365.9 190.4,373.9 191.0,381.7 191.6,389.3 192.3,396.7 192.9,402.9 193.5,408.0 194.1,412.5 194.8,416.4 195.4,419.3 196.0,421.6 196.6,423.6 197.2,425.4 197.9,427.0 198.5,428.3 199.1,429.3 199.7,430.2 200.4,431.0 201.0,431.7 201.6,432.4 202.2,433.1 202.8,433.6 203.5,434.1 204.1,434.5 204.7,434.8 205.3,435.1 205.9,435.3 206.6,435.5 207.2,435.7 207.8,435.9 208.4,436.1 209.1,436.2 209.7,436.4 210.3,436.6 210.9,436.7 211.5,436.9 212.2,437.0 212.8,437.2 213.4,437.3 214.0,437.4 214.7,437.5 215.3,437.6 215.9,437.7 216.5,437.8 217.1,437.9 217.8,438.0 218.4,438.1 219.0,438.2 219.6,438.3 220.2,438.3 220.9,438.4 221.5,438.5 222.1,438.5 222.7,438.6 223.4,438.7 224.0,438.7 224.6,438.8 225.2,438.8 225.8,438.9 226.5,438.9 227.1,439.0 227.7,439.0 228.3,439.0 229.0,439.1 229.6,439.1 230.2,439.2 230.8,439.2 231.4,439.3 232.1,439.3 232.7,439.3 233.3,439.4 233.9,439.4 234.6,439.5 235.2,439.5 235.8,439.5 236.4,439.6 237.0,439.6 237.7,439.7 238.3,439.7 238.9,439.7 239.5,439.8 240.1,439.8 240.8,439.8 241.4,439.9 242.0,439.9 242.6,439.9 243.3,440.0 243.9,440.0 244.5,440.0 245.1,440.0 245.7,440.1 246.4,440.1 247.0,440.1 247.6,440.2 248.2,440.2 248.9,440.2 249.5,440.2 250.1,440.3 250.7,440.3 251.3,440.3 252.0,440.3 252.6,440.3 253.2,440.4 253.8,440.4 254.4,440.4 255.1,440.4 255.7,440.4 256.3,440.5 256.9,440.5 257.6,440.5 258.2,440.5 258.8,440.5 259.4,440.5 260.0,440.5 260.7,440.5 261.3,440.6 261.9,440.6 262.5,440.6 263.2,440.6 263.8,440.6 264.4,440.6 265.0,440.6 265.6,440.6 266.3,440.6 266.9,440.6" fill="none" stroke="#70c070" stroke-width="0.9" stroke-linejoin="round" />
<path d="M39.3,336.7 39.9,341.2 40.5,345.7 41.2,350.1 41.8,354.6 42.4,359.0 43.0,363.3 43.7,367.5 44.3,371.6 44.9,375.6 45.5,379.0 46.1,382.0 46.8,384.7 47.4,387.2 48.0,389.2 48.6,390.8 49.2,392.3 49.9,393.7 50.5,395.0 51.1,396.0 51.7,396.8 52.4,397.2 53.0,397.2 53.6,397.2 54.2,397.0 54.8,396.8 55.5,396.6 56.1,396.5 56.7,396.4 57.3,396.2 58.0,396.1 58.6,396.0 59.2,395.8 59.8,395.7 60.4,395.5 61.1,395.3 61.7,395.0 62.3,394.8 62.9,394.7 63.6,394.7 64.2,394.7 64.8,394.9 65.4,395.7 66.0,396.8 66.7,399.2 67.3,402.1 67.9,404.5 68.5,406.9 69.1,409.0 69.8,410.7 70.4,412.1 71.0,413.3 71.6,414.3 72.3,415.2 72.9,415.8 73.5,416.4 74.1,416.9 74.7,417.1 75.4,417.1 76.0,417.1 76.6,417.0 77.2,416.8 77.9,416.7 78.5,416.5 79.1,416.2 79.7,416.0 80.3,415.7 81.0,415.5 81.6,415.1 82.2,414.7 82.8,414.2 83.4,413.6 84.1,413.0 84.7,412.3 85.3,411.7 85.9,411.0 86.6,410.4 87.2,409.9 87.8,409.3 88.4,408.6 89.0,408.1 89.7,407.6 90.3,407.3 90.9,407.0 91.5,406.7 92.2,406.5 92.8,406.3 93.4,406.1 94.0,406.0 94.6,406.0 95.3,406.1 95.9,406.3 96.5,406.5 97.1,406.8 97.8,407.1 98.4,407.6 99.0,408.2 99.6,408.7 100.2,409.2 100.9,409.7 101.5,410.3 102.1,410.8 102.7,411.4 103.3,411.9 104.0,412.4 104.6,412.9 105.2,413.3 105.8,413.6 106.5,413.8 107.1,413.9 107.7,414.0 108.3,414.1 108.9,414.1 109.6,414.2 110.2,414.3 110.8,414.3 111.4,414.4 112.1,414.4 112.7,414.4 113.3,414.3 113.9,414.3 114.5,414.2 115.2,414.2 115.8,414.2 116.4,414.1 117.0,414.1 117.6,414.1 118.3,414.1 118.9,414.1 119.5,414.1 120.1,414.1 120.8,414.1 121.4,414.2 122.0,414.2 122.6,414.2 123.2,414.3 123.9,414.3 124.5,414.4 125.1,414.4 125.7,414.4 126.4,414.5 127.0,414.4 127.6,414.4 128.2,414.4 128.8,414.4 129.5,414.4 130.1,414.3 130.7,414.3 131.3,414.2 132.0,414.2 132.6,414.1 133.2,414.1 133.8,413.9 134.4,413.7 135.1,413.5 135.7,413.2 136.3,412.8 136.9,412.4 137.5,412.0 138.2,411.6 138.8,411.2 139.4,410.8 140.0,410.4 140.7,410.0 141.3,409.6 141.9,409.3 142.5,409.1 143.1,408.9 143.8,408.7 144.4,408.4 145.0,408.1 145.6,407.7 146.3,407.3 146.9,406.8 147.5,406.2 148.1,405.5 148.7,404.7 149.4,403.9 150.0,403.0 150.6,402.0 151.2,401.0 151.8,400.0 152.5,398.8 153.1,397.6 153.7,396.3 154.3,394.9 155.0,393.5 155.6,391.9 156.2,390.2 156.8,388.5 157.4,386.7 158.1,384.8 158.7,383.0 159.3,381.1 159.9,379.3 160.6,377.5 161.2,375.6 161.8,373.8 162.4,371.8 163.0,369.9 163.7,367.8 164.3,365.7 164.9,363.6 165.5,361.4 166.2,359.1 166.8,356.6 167.4,354.1 168.0,351.3 168.6,348.2 169.3,344.9 169.9,341.5 170.5,338.0 171.1,334.5 171.7,331.1 172.4,327.6 173.0,324.0 173.6,320.5 174.2,316.9 174.9,313.3 175.5,309.8 176.1,306.1 176.7,302.3 177.3,298.0 178.0,293.8 178.6,290.7 179.2,287.7 179.8,285.1 180.5,283.4 181.1,283.1 181.7,284.2 182.3,286.5 182.9,289.5 183.6,292.7 184.2,296.7 184.8,301.8 185.4,307.4 186.0,314.4 186.7,326.2 187.3,336.6 187.9,345.5 188.5,353.7 189.2,361.4 189.8,369.2 190.4,376.8 191.0,384.2 191.6,391.5 192.3,398.5 192.9,404.4 193.5,409.3 194.1,413.7 194.8,417.4 195.4,420.2 196.0,422.3 196.6,424.3 197.2,426.0 197.9,427.4 198.5,428.7 199.1,429.7 199.7,430.5 200.4,431.3 201.0,432.0 201.6,432.7 202.2,433.3 202.8,433.8 203.5,434.3 204.1,434.7 204.7,435.0 205.3,435.2 205.9,435.4 206.6,435.6 207.2,435.8 207.8,436.0 208.4,436.2 209.1,436.4 209.7,436.5 210.3,436.7 210.9,436.9 211.5,437.0 212.2,437.1 212.8,437.3 213.4,437.4 214.0,437.5 214.7,437.6 215.3,437.7 215.9,437.8 216.5,437.9 217.1,438.0 217.8,438.1 218.4,438.2 219.0,438.3 219.6,438.4 220.2,438.4 220.9,438.5 221.5,438.6 222.1,438.6 222.7,438.7 223.4,438.7 224.0,438.8 224.6,438.8 225.2,438.9 225.8,438.9 226.5,439.0 227.1,439.0 227.7,439.1 228.3,439.1 229.0,439.1 229.6,439.2 230.2,439.2 230.8,439.3 231.4,439.3 232.1,439.3 232.7,439.4 233.3,439.4 233.9,439.5 234.6,439.5 235.2,439.5 235.8,439.6 236.4,439.6 237.0,439.7 237.7,439.7 238.3,439.7 238.9,439.8 239.5,439.8 240.1,439.8 240.8,439.9 241.4,439.9 242.0,439.9 242.6,440.0 243.3,440.0 243.9,440.0 244.5,440.0 245.1,440.1 245.7,440.1 246.4,440.1 247.0,440.1 247.6,440.2 248.2,440.2 248.9,440.2 249.5,440.2 250.1,440.3 250.7,440.3 251.3,440.3 252.0,440.3 252.6,440.4 253.2,440.4 253.8,440.4 254.4,440.4 255.1,440.4 255.7,440.4 256.3,440.5 256.9,440.5 257.6,440.5 258.2,440.5 258.8,440.5 259.4,440.5 260.0,440.5 260.7,440.5 261.3,440.6 261.9,440.6 262.5,440.6 263.2,440.6 263.8,440.6 264.4,440.6 265.0,440.6 265.6,440.6 266.3,440.6 266.9,440.6" fill="none" stroke="#e09878" stroke-width="0.9" stroke-linejoin="round" />
<path d="M39.3,336.7 39.9,341.2 40.5,345.7 41.2,350.1 41.8,354.6 42.4,359.0 43.0,363.3 43.7,367.5 44.3,371.6 44.9,375.6 45.5,379.0 46.1,382.0 46.8,384.7 47.4,387.2 48.0,389.2 48.6,390.8 49.2,392.3 49.9,393.7 50.5,394.9 51.1,396.0 51.7,396.7 52.4,397.1 53.0,397.2 53.6,397.2 54.2,397.1 54.8,396.9 55.5,396.8 56.1,396.7 56.7,396.6 57.3,396.4 58.0,396.3 58.6,396.2 59.2,396.1 59.8,396.0 60.4,395.8 61.1,395.6 61.7,395.4 62.3,395.2 62.9,395.2 63.6,395.2 64.2,395.2 64.8,395.4 65.4,396.2 66.0,397.3 66.7,399.6 67.3,402.4 67.9,404.7 68.5,407.0 69.1,409.1 69.8,410.6 70.4,412.0 71.0,413.2 71.6,414.2 72.3,415.0 72.9,415.6 73.5,416.1 74.1,416.6 74.7,416.8 75.4,416.9 76.0,416.8 76.6,416.7 77.2,416.6 77.9,416.4 78.5,416.2 79.1,416.0 79.7,415.7 80.3,415.5 81.0,415.2 81.6,414.9 82.2,414.4 82.8,413.9 83.4,413.4 84.1,412.8 84.7,412.2 85.3,411.5 85.9,410.9 86.6,410.3 87.2,409.8 87.8,409.2 88.4,408.5 89.0,408.0 89.7,407.5 90.3,407.2 90.9,406.9 91.5,406.6 92.2,406.3 92.8,406.1 93.4,405.9 94.0,405.7 94.6,405.7 95.3,405.8 95.9,405.9 96.5,406.0 97.1,406.1 97.8,406.4 98.4,406.8 99.0,407.3 99.6,407.8 100.2,408.3 100.9,408.7 101.5,409.2 102.1,409.7 102.7,410.2 103.3,410.7 104.0,411.1 104.6,411.5 105.2,411.9 105.8,412.2 106.5,412.3 107.1,412.4 107.7,412.4 108.3,412.5 108.9,412.5 109.6,412.5 110.2,412.6 110.8,412.6 111.4,412.6 112.1,412.6 112.7,412.6 113.3,412.6 113.9,412.5 114.5,412.4 115.2,412.4 115.8,412.4 116.4,412.3 117.0,412.3 117.6,412.3 118.3,412.3 118.9,412.4 119.5,412.4 120.1,412.4 120.8,412.4 121.4,412.4 122.0,412.5 122.6,412.5 123.2,412.6 123.9,412.7 124.5,412.7 125.1,412.8 125.7,412.9 126.4,412.9 127.0,413.0 127.6,413.0 128.2,413.0 128.8,413.0 129.5,413.1 130.1,413.1 130.7,413.1 131.3,413.1 132.0,413.1 132.6,413.1 133.2,413.1 133.8,413.1 134.4,412.9 135.1,412.8 135.7,412.5 136.3,412.2 136.9,411.9 137.5,411.6 138.2,411.3 138.8,410.9 139.4,410.6 140.0,410.3 140.7,410.0 141.3,409.6 141.9,409.4 142.5,409.2 143.1,409.1 143.8,408.9 144.4,408.7 145.0,408.4 145.6,408.1 146.3,407.7 146.9,407.3 147.5,406.7 148.1,406.1 148.7,405.4 149.4,404.6 150.0,403.8 150.6,402.9 151.2,402.0 151.8,401.0 152.5,399.9 153.1,398.8 153.7,397.5 154.3,396.2 155.0,394.8 155.6,393.3 156.2,391.7 156.8,390.0 157.4,388.3 158.1,386.5 158.7,384.7 159.3,383.0 159.9,381.2 160.6,379.5 161.2,377.7 161.8,375.9 162.4,374.1 163.0,372.2 163.7,370.2 164.3,368.2 164.9,366.1 165.5,364.0 166.2,361.8 166.8,359.5 167.4,357.0 168.0,354.3 168.6,351.4 169.3,348.2 169.9,345.0 170.5,341.6 171.1,338.3 171.7,335.0 172.4,331.6 173.0,328.2 173.6,324.8 174.2,321.3 174.9,317.9 175.5,314.5 176.1,311.0 176.7,307.3 177.3,303.2 178.0,299.2 178.6,296.3 179.2,293.4 179.8,290.9 180.5,289.2 181.1,288.9 181.7,290.1 182.3,292.3 182.9,295.1 183.6,298.2 184.2,302.1 184.8,307.0 185.4,312.4 186.0,319.1 186.7,330.4 187.3,340.5 187.9,349.1 188.5,356.9 189.2,364.3 189.8,371.8 190.4,379.2 191.0,386.2 191.6,393.3 192.3,400.0 192.9,405.7 193.5,410.4 194.1,414.6 194.8,418.1 195.4,420.8 196.0,422.9 196.6,424.8 197.2,426.4 197.9,427.8 198.5,429.0 199.1,430.0 199.7,430.8 200.4,431.6 201.0,432.3 201.6,432.9 202.2,433.5 202.8,434.0 203.5,434.4 204.1,434.8 204.7,435.1 205.3,435.4 205.9,435.6 206.6,435.8 207.2,436.0 207.8,436.1 208.4,436.3 209.1,436.5 209.7,436.7 210.3,436.8 210.9,437.0 211.5,437.1 212.2,437.2 212.8,437.4 213.4,437.5 214.0,437.6 214.7,437.7 215.3,437.8 215.9,437.9 216.5,438.0 217.1,438.1 217.8,438.2 218.4,438.3 219.0,438.3 219.6,438.4 220.2,438.5 220.9,438.6 221.5,438.6 222.1,438.7 222.7,438.7 223.4,438.8 224.0,438.8 224.6,438.9 225.2,438.9 225.8,439.0 226.5,439.0 227.1,439.1 227.7,439.1 228.3,439.1 229.0,439.2 229.6,439.2 230.2,439.3 230.8,439.3 231.4,439.3 232.1,439.4 232.7,439.4 233.3,439.5 233.9,439.5 234.6,439.5 235.2,439.6 235.8,439.6 236.4,439.6 237.0,439.7 237.7,439.7 238.3,439.7 238.9,439.8 239.5,439.8 240.1,439.8 240.8,439.9 241.4,439.9 242.0,439.9 242.6,440.0 243.3,440.0 243.9,440.0 244.5,440.1 245.1,440.1 245.7,440.1 246.4,440.1 247.0,440.2 247.6,440.2 248.2,440.2 248.9,440.2 249.5,440.3 250.1,440.3 250.7,440.3 251.3,440.3 252.0,440.3 252.6,440.4 253.2,440.4 253.8,440.4 254.4,440.4 255.1,440.4 255.7,440.5 256.3,440.5 256.9,440.5 257.6,440.5 258.2,440.5 258.8,440.5 259.4,440.5 260.0,440.5 260.7,440.6 261.3,440.6 261.9,440.6 262.5,440.6 263.2,440.6 263.8,440.6 264.4,440.6 265.0,440.6 265.6,440.6 266.3,440.6 266.9,440.6" fill="none" stroke="#60c8c8" stroke-width="0.9" stroke-linejoin="round" />
<path d="M39.3,336.7 39.9,341.2 40.5,345.7 41.2,350.1 41.8,354.6 42.4,359.0 43.0,363.3 43.7,367.5 44.3,371.6 44.9,375.6 45.5,379.0 46.1,382.0 46.8,384.7 47.4,387.2 48.0,389.2 48.6,390.8 49.2,392.3 49.9,393.7 50.5,394.9 51.1,396.0 51.7,396.7 52.4,397.1 53.0,397.3 53.6,397.3 54.2,397.2 54.8,397.0 55.5,396.9 56.1,396.8 56.7,396.7 57.3,396.6 58.0,396.6 58.6,396.5 59.2,396.4 59.8,396.3 60.4,396.2 61.1,396.0 61.7,395.8 62.3,395.6 62.9,395.6 63.6,395.6 64.2,395.7 64.8,395.9 65.4,396.6 66.0,397.7 66.7,400.0 67.3,402.6 67.9,404.9 68.5,407.1 69.1,409.1 69.8,410.6 70.4,411.9 71.0,413.0 71.6,414.0 72.3,414.8 72.9,415.4 73.5,415.9 74.1,416.4 74.7,416.6 75.4,416.6 76.0,416.5 76.6,416.4 77.2,416.3 77.9,416.1 78.5,415.9 79.1,415.7 79.7,415.5 80.3,415.2 81.0,415.0 81.6,414.7 82.2,414.2 82.8,413.7 83.4,413.2 84.1,412.6 84.7,412.0 85.3,411.4 85.9,410.8 86.6,410.2 87.2,409.6 87.8,409.1 88.4,408.4 89.0,407.9 89.7,407.4 90.3,407.1 90.9,406.8 91.5,406.5 92.2,406.2 92.8,405.9 93.4,405.7 94.0,405.5 94.6,405.4 95.3,405.4 95.9,405.4 96.5,405.5 97.1,405.6 97.8,405.8 98.4,406.1 99.0,406.6 99.6,407.0 100.2,407.4 100.9,407.8 101.5,408.3 102.1,408.7 102.7,409.1 103.3,409.6 104.0,410.0 104.6,410.3 105.2,410.6 105.8,410.9 106.5,411.0 107.1,411.0 107.7,411.0 108.3,411.1 108.9,411.1 109.6,411.1 110.2,411.1 110.8,411.1 111.4,411.1 112.1,411.1 112.7,411.0 113.3,411.0 113.9,410.9 114.5,410.8 115.2,410.8 115.8,410.7 116.4,410.7 117.0,410.7 117.6,410.7 118.3,410.7 118.9,410.7 119.5,410.8 120.1,410.8 120.8,410.8 121.4,410.8 122.0,410.9 122.6,411.0 123.2,411.1 123.9,411.2 124.5,411.3 125.1,411.4 125.7,411.5 126.4,411.5 127.0,411.6 127.6,411.7 128.2,411.7 128.8,411.8 129.5,411.9 130.1,412.0 130.7,412.0 131.3,412.1 132.0,412.1 132.6,412.2 133.2,412.2 133.8,412.3 134.4,412.2 135.1,412.1 135.7,411.9 136.3,411.7 136.9,411.5 137.5,411.2 138.2,411.0 138.8,410.7 139.4,410.5 140.0,410.2 140.7,409.9 141.3,409.6 141.9,409.4 142.5,409.3 143.1,409.3 143.8,409.1 144.4,408.9 145.0,408.7 145.6,408.4 146.3,408.1 146.9,407.7 147.5,407.2 148.1,406.6 148.7,406.0 149.4,405.3 150.0,404.5 150.6,403.7 151.2,402.8 151.8,401.9 152.5,400.9 153.1,399.8 153.7,398.6 154.3,397.3 155.0,396.0 155.6,394.6 156.2,393.0 156.8,391.4 157.4,389.8 158.1,388.1 158.7,386.3 159.3,384.7 159.9,383.0 160.6,381.3 161.2,379.6 161.8,377.9 162.4,376.1 163.0,374.3 163.7,372.4 164.3,370.4 164.9,368.4 165.5,366.4 166.2,364.3 166.8,362.0 167.4,359.7 168.0,357.1 168.6,354.3 169.3,351.2 169.9,348.1 170.5,344.8 171.1,341.6 171.7,338.5 172.4,335.2 173.0,331.9 173.6,328.6 174.2,325.4 174.9,322.1 175.5,318.8 176.1,315.4 176.7,311.9 177.3,307.9 178.0,304.1 178.6,301.2 179.2,298.5 179.8,296.1 180.5,294.5 181.1,294.2 181.7,295.4 182.3,297.5 182.9,300.2 183.6,303.2 184.2,306.9 184.8,311.7 185.4,316.9 186.0,323.4 186.7,334.3 187.3,344.0 187.9,352.2 188.5,359.8 189.2,366.9 189.8,374.1 190.4,381.2 191.0,388.1 191.6,394.8 192.3,401.4 192.9,406.8 193.5,411.3 194.1,415.4 194.8,418.8 195.4,421.4 196.0,423.4 196.6,425.2 197.2,426.8 197.9,428.2 198.5,429.3 199.1,430.3 199.7,431.1 200.4,431.8 201.0,432.5 201.6,433.1 202.2,433.7 202.8,434.2 203.5,434.6 204.1,435.0 204.7,435.3 205.3,435.5 205.9,435.7 206.6,435.9 207.2,436.1 207.8,436.3 208.4,436.4 209.1,436.6 209.7,436.8 210.3,436.9 210.9,437.1 211.5,437.2 212.2,437.3 212.8,437.5 213.4,437.6 214.0,437.7 214.7,437.8 215.3,437.9 215.9,438.0 216.5,438.1 217.1,438.2 217.8,438.3 218.4,438.3 219.0,438.4 219.6,438.5 220.2,438.5 220.9,438.6 221.5,438.7 222.1,438.7 222.7,438.8 223.4,438.8 224.0,438.9 224.6,438.9 225.2,439.0 225.8,439.0 226.5,439.1 227.1,439.1 227.7,439.1 228.3,439.2 229.0,439.2 229.6,439.3 230.2,439.3 230.8,439.3 231.4,439.4 232.1,439.4 232.7,439.5 233.3,439.5 233.9,439.5 234.6,439.6 235.2,439.6 235.8,439.6 236.4,439.7 237.0,439.7 237.7,439.7 238.3,439.8 238.9,439.8 239.5,439.8 240.1,439.9 240.8,439.9 241.4,439.9 242.0,440.0 242.6,440.0 243.3,440.0 243.9,440.0 244.5,440.1 245.1,440.1 245.7,440.1 246.4,440.2 247.0,440.2 247.6,440.2 248.2,440.2 248.9,440.2 249.5,440.3 250.1,440.3 250.7,440.3 251.3,440.3 252.0,440.4 252.6,440.4 253.2,440.4 253.8,440.4 254.4,440.4 255.1,440.4 255.7,440.5 256.3,440.5 256.9,440.5 257.6,440.5 258.2,440.5 258.8,440.5 259.4,440.5 260.0,440.5 260.7,440.6 261.3,440.6 261.9,440.6 262.5,440.6 263.2,440.6 263.8,440.6 264.4,440.6 265.0,440.6 265.6,440.6 266.3,440.6 266.9,440.6" fill="none" stroke="#88a8e0" stroke-width="0.9" stroke-linejoin="round" />
<path d="M39.3,336.7 39.9,341.2 40.5,345.7 41.2,350.1 41.8,354.6 42.4,359.0 43.0,363.3 43.7,367.5 44.3,371.6 44.9,375.6 45.5,379.0 46.1,382.0 46.8,384.7 47.4,387.2 48.0,389.2 48.6,390.8 49.2,392.3 49.9,393.7 50.5,394.9 51.1,395.9 51.7,396.7 52.4,397.1 53.0,397.3 53.6,397.3 54.2,397.3 54.8,397.2 55.5,397.1 56.1,397.1 56.7,397.0 57.3,397.0 58.0,396.9 58.6,396.9 59.2,396.8 59.8,396.8 60.4,396.7 61.1,396.6 61.7,396.4 62.3,396.3 62.9,396.3 63.6,396.4 64.2,396.4 64.8,396.7 65.4,397.4 66.0,398.4 66.7,400.6 67.3,403.1 67.9,405.2 68.5,407.3 69.1,409.2 69.8,410.6 70.4,411.8 71.0,412.8 71.6,413.7 72.3,414.5 72.9,415.0 73.5,415.5 74.1,415.9 74.7,416.2 75.4,416.2 76.0,416.1 76.6,416.0 77.2,415.9 77.9,415.7 78.5,415.5 79.1,415.3 79.7,415.1 80.3,414.8 81.0,414.6 81.6,414.3 82.2,413.9 82.8,413.4 83.4,412.9 84.1,412.3 84.7,411.7 85.3,411.1 85.9,410.5 86.6,410.0 87.2,409.5 87.8,408.9 88.4,408.3 89.0,407.7 89.7,407.3 90.3,406.9 90.9,406.6 91.5,406.2 92.2,405.9 92.8,405.6 93.4,405.4 94.0,405.1 94.6,405.0 95.3,404.8 95.9,404.8 96.5,404.7 97.1,404.6 97.8,404.7 98.4,405.0 99.0,405.3 99.6,405.7 100.2,406.0 100.9,406.3 101.5,406.6 102.1,407.0 102.7,407.4 103.3,407.7 104.0,408.0 104.6,408.3 105.2,408.6 105.8,408.7 106.5,408.8 107.1,408.8 107.7,408.7 108.3,408.7 108.9,408.6 109.6,408.6 110.2,408.5 110.8,408.5 111.4,408.5 112.1,408.4 112.7,408.4 113.3,408.3 113.9,408.2 114.5,408.1 115.2,408.0 115.8,408.0 116.4,408.0 117.0,408.0 117.6,408.0 118.3,408.0 118.9,408.1 119.5,408.1 120.1,408.1 120.8,408.2 121.4,408.2 122.0,408.3 122.6,408.4 123.2,408.5 123.9,408.7 124.5,408.8 125.1,409.0 125.7,409.1 126.4,409.2 127.0,409.3 127.6,409.5 128.2,409.6 128.8,409.8 129.5,409.9 130.1,410.1 130.7,410.2 131.3,410.3 132.0,410.5 132.6,410.6 133.2,410.8 133.8,410.9 134.4,411.0 135.1,411.0 135.7,411.0 136.3,410.9 136.9,410.7 137.5,410.6 138.2,410.4 138.8,410.3 139.4,410.2 140.0,410.0 140.7,409.8 141.3,409.7 141.9,409.6 142.5,409.5 143.1,409.5 143.8,409.4 144.4,409.3 145.0,409.2 145.6,409.0 146.3,408.8 146.9,408.4 147.5,408.0 148.1,407.5 148.7,407.0 149.4,406.4 150.0,405.7 150.6,405.0 151.2,404.2 151.8,403.4 152.5,402.5 153.1,401.5 153.7,400.4 154.3,399.3 155.0,398.0 155.6,396.7 156.2,395.3 156.8,393.8 157.4,392.2 158.1,390.6 158.7,389.0 159.3,387.5 159.9,385.9 160.6,384.3 161.2,382.8 161.8,381.2 162.4,379.5 163.0,377.8 163.7,376.0 164.3,374.2 164.9,372.3 165.5,370.4 166.2,368.4 166.8,366.3 167.4,364.1 168.0,361.7 168.6,359.1 169.3,356.2 169.9,353.3 170.5,350.3 171.1,347.3 171.7,344.3 172.4,341.3 173.0,338.2 173.6,335.2 174.2,332.1 174.9,329.0 175.5,326.0 176.1,322.8 176.7,319.6 177.3,315.8 178.0,312.3 178.6,309.6 179.2,307.0 179.8,304.8 180.5,303.4 181.1,303.1 181.7,304.2 182.3,306.2 182.9,308.8 183.6,311.6 184.2,315.1 184.8,319.6 185.4,324.5 186.0,330.6 186.7,340.8 187.3,349.8 187.9,357.6 188.5,364.7 189.2,371.4 189.8,378.1 190.4,384.7 191.0,391.2 191.6,397.5 192.3,403.6 192.9,408.7 193.5,412.9 194.1,416.7 194.8,419.9 195.4,422.4 196.0,424.3 196.6,426.0 197.2,427.5 197.9,428.8 198.5,429.9 199.1,430.8 199.7,431.5 200.4,432.2 201.0,432.8 201.6,433.4 202.2,434.0 202.8,434.4 203.5,434.8 204.1,435.2 204.7,435.5 205.3,435.7 205.9,435.9 206.6,436.1 207.2,436.3 207.8,436.4 208.4,436.6 209.1,436.8 209.7,436.9 210.3,437.1 210.9,437.2 211.5,437.4 212.2,437.5 212.8,437.6 213.4,437.7 214.0,437.8 214.7,437.9 215.3,438.0 215.9,438.1 216.5,438.2 217.1,438.3 217.8,438.4 218.4,438.4 219.0,438.5 219.6,438.6 220.2,438.6 220.9,438.7 221.5,438.8 222.1,438.8 222.7,438.9 223.4,438.9 224.0,439.0 224.6,439.0 225.2,439.1 225.8,439.1 226.5,439.1 227.1,439.2 227.7,439.2 228.3,439.2 229.0,439.3 229.6,439.3 230.2,439.4 230.8,439.4 231.4,439.4 232.1,439.5 232.7,439.5 233.3,439.5 233.9,439.6 234.6,439.6 235.2,439.6 235.8,439.7 236.4,439.7 237.0,439.7 237.7,439.8 238.3,439.8 238.9,439.8 239.5,439.9 240.1,439.9 240.8,439.9 241.4,440.0 242.0,440.0 242.6,440.0 243.3,440.0 243.9,440.1 244.5,440.1 245.1,440.1 245.7,440.1 246.4,440.2 247.0,440.2 247.6,440.2 248.2,440.2 248.9,440.3 249.5,440.3 250.1,440.3 250.7,440.3 251.3,440.3 252.0,440.4 252.6,440.4 253.2,440.4 253.8,440.4 254.4,440.4 255.1,440.4 255.7,440.5 256.3,440.5 256.9,440.5 257.6,440.5 258.2,440.5 258.8,440.5 259.4,440.5 260.0,440.5 260.7,440.6 261.3,440.6 261.9,440.6 262.5,440.6 263.2,440.6 263.8,440.6 264.4,440.6 265.0,440.6 265.6,440.6 266.3,440.6 266.9,440.6" fill="none" stroke="#a8b860" stroke-width="0.9" stroke-linejoin="round" />
<path d="M39.3,336.7 39.9,341.2 40.5,345.7 41.2,350.1 41.8,354.6 42.4,359.0 43.0,363.3 43.7,367.5 44.3,371.6 44.9,375.6 45.5,379.0 46.1,382.0 46.8,384.7 47.4,387.2 48.0,389.2 48.6,390.8 49.2,392.3 49.9,393.6 50.5,394.9 51.1,395.9 51.7,396.7 52.4,397.1 53.0,397.3 53.6,397.4 54.2,397.4 54.8,397.3 55.5,397.3 56.1,397.2 56.7,397.2 57.3,397.2 58.0,397.2 58.6,397.2 59.2,397.2 59.8,397.1 60.4,397.1 61.1,397.0 61.7,396.9 62.3,396.8 62.9,396.8 63.6,396.9 64.2,397.0 64.8,397.3 65.4,398.0 66.0,399.0 66.7,401.0 67.3,403.4 67.9,405.5 68.5,407.5 69.1,409.2 69.8,410.6 70.4,411.7 71.0,412.7 71.6,413.6 72.3,414.2 72.9,414.8 73.5,415.2 74.1,415.6 74.7,415.8 75.4,415.8 76.0,415.8 76.6,415.7 77.2,415.6 77.9,415.4 78.5,415.2 79.1,415.0 79.7,414.8 80.3,414.5 81.0,414.3 81.6,414.0 82.2,413.6 82.8,413.1 83.4,412.6 84.1,412.1 84.7,411.5 85.3,411.0 85.9,410.4 86.6,409.8 87.2,409.3 87.8,408.7 88.4,408.2 89.0,407.6 89.7,407.1 90.3,406.8 90.9,406.4 91.5,406.1 92.2,405.7 92.8,405.4 93.4,405.1 94.0,404.9 94.6,404.6 95.3,404.4 95.9,404.2 96.5,404.1 97.1,403.9 97.8,403.9 98.4,404.1 99.0,404.4 99.6,404.7 100.2,404.9 100.9,405.2 101.5,405.4 102.1,405.7 102.7,406.0 103.3,406.3 104.0,406.6 104.6,406.8 105.2,407.0 105.8,407.1 106.5,407.1 107.1,407.1 107.7,407.0 108.3,406.9 108.9,406.8 109.6,406.7 110.2,406.7 110.8,406.6 111.4,406.6 112.1,406.5 112.7,406.4 113.3,406.3 113.9,406.2 114.5,406.1 115.2,406.0 115.8,406.0 116.4,406.0 117.0,406.0 117.6,406.0 118.3,406.0 118.9,406.0 119.5,406.1 120.1,406.1 120.8,406.2 121.4,406.3 122.0,406.3 122.6,406.5 123.2,406.6 123.9,406.8 124.5,407.0 125.1,407.2 125.7,407.3 126.4,407.5 127.0,407.6 127.6,407.8 128.2,408.0 128.8,408.2 129.5,408.4 130.1,408.6 130.7,408.9 131.3,409.1 132.0,409.3 132.6,409.5 133.2,409.7 133.8,409.9 134.4,410.1 135.1,410.2 135.7,410.2 136.3,410.2 136.9,410.2 137.5,410.1 138.2,410.1 138.8,410.0 139.4,410.0 140.0,409.9 140.7,409.8 141.3,409.7 141.9,409.6 142.5,409.7 143.1,409.7 143.8,409.7 144.4,409.6 145.0,409.6 145.6,409.4 146.3,409.2 146.9,409.0 147.5,408.6 148.1,408.2 148.7,407.7 149.4,407.2 150.0,406.6 150.6,406.0 151.2,405.3 151.8,404.6 152.5,403.7 153.1,402.8 153.7,401.8 154.3,400.7 155.0,399.5 155.6,398.3 156.2,396.9 156.8,395.5 157.4,394.0 158.1,392.6 158.7,391.0 159.3,389.6 159.9,388.1 160.6,386.6 161.2,385.1 161.8,383.6 162.4,382.0 163.0,380.4 163.7,378.7 164.3,377.0 164.9,375.2 165.5,373.4 166.2,371.5 166.8,369.5 167.4,367.4 168.0,365.2 168.6,362.6 169.3,360.0 169.9,357.2 170.5,354.3 171.1,351.5 171.7,348.7 172.4,345.8 173.0,342.9 173.6,340.0 174.2,337.1 174.9,334.2 175.5,331.3 176.1,328.3 176.7,325.3 177.3,321.7 178.0,318.4 178.6,315.9 179.2,313.4 179.8,311.3 180.5,310.0 181.1,309.8 181.7,310.8 182.3,312.7 182.9,315.2 183.6,317.8 184.2,321.2 184.8,325.5 185.4,330.1 186.0,335.9 186.7,345.6 187.3,354.2 187.9,361.6 188.5,368.3 189.2,374.6 189.8,381.0 190.4,387.4 191.0,393.4 191.6,399.5 192.3,405.3 192.9,410.1 193.5,414.1 194.1,417.7 194.8,420.8 195.4,423.1 196.0,424.9 196.6,426.5 197.2,428.0 197.9,429.2 198.5,430.3 199.1,431.1 199.7,431.8 200.4,432.5 201.0,433.1 201.6,433.7 202.2,434.2 202.8,434.6 203.5,435.0 204.1,435.4 204.7,435.6 205.3,435.8 205.9,436.0 206.6,436.2 207.2,436.4 207.8,436.6 208.4,436.7 209.1,436.9 209.7,437.1 210.3,437.2 210.9,437.3 211.5,437.5 212.2,437.6 212.8,437.7 213.4,437.8 214.0,437.9 214.7,438.0 215.3,438.1 215.9,438.2 216.5,438.3 217.1,438.4 217.8,438.5 218.4,438.5 219.0,438.6 219.6,438.7 220.2,438.7 220.9,438.8 221.5,438.8 222.1,438.9 222.7,438.9 223.4,439.0 224.0,439.0 224.6,439.1 225.2,439.1 225.8,439.1 226.5,439.2 227.1,439.2 227.7,439.3 228.3,439.3 229.0,439.3 229.6,439.4 230.2,439.4 230.8,439.4 231.4,439.5 232.1,439.5 232.7,439.6 233.3,439.6 233.9,439.6 234.6,439.7 235.2,439.7 235.8,439.7 236.4,439.7 237.0,439.8 237.7,439.8 238.3,439.8 238.9,439.9 239.5,439.9 240.1,439.9 240.8,440.0 241.4,440.0 242.0,440.0 242.6,440.0 243.3,440.1 243.9,440.1 244.5,440.1 245.1,440.1 245.7,440.2 246.4,440.2 247.0,440.2 247.6,440.2 248.2,440.3 248.9,440.3 249.5,440.3 250.1,440.3 250.7,440.3 251.3,440.4 252.0,440.4 252.6,440.4 253.2,440.4 253.8,440.4 254.4,440.4 255.1,440.5 255.7,440.5 256.3,440.5 256.9,440.5 257.6,440.5 258.2,440.5 258.8,440.5 259.4,440.5 260.0,440.5 260.7,440.6 261.3,440.6 261.9,440.6 262.5,440.6 263.2,440.6 263.8,440.6 264.4,440.6 265.0,440.6 265.6,440.6 266.3,440.6 266.9,440.6" fill="none" stroke="#d0a060" stroke-width="0.9" stroke-linejoin="round" />
<path d="M39.3,336.7 39.9,341.2 40.5,345.7 41.2,350.1 41.8,354.6 42.4,359.0 43.0,363.3 43.7,367.5 44.3,371.6 44.9,375.6 45.5,379.0 46.1,382.0 46.8,384.7 47.4,387.2 48.0,389.2 48.6,390.8 49.2,392.3 49.9,393.6 50.5,394.8 51.1,395.9 51.7,396.6 52.4,397.1 53.0,397.4 53.6,397.5 54.2,397.5 54.8,397.5 55.5,397.5 56.1,397.5 56.7,397.5 57.3,397.5 58.0,397.5 58.6,397.6 59.2,397.6 59.8,397.6 60.4,397.6 61.1,397.5 61.7,397.5 62.3,397.4 62.9,397.5 63.6,397.6 64.2,397.7 64.8,398.0 65.4,398.7 66.0,399.7 66.7,401.6 67.3,403.9 67.9,405.8 68.5,407.6 69.1,409.3 69.8,410.5 70.4,411.6 71.0,412.5 71.6,413.3 72.3,413.9 72.9,414.4 73.5,414.9 74.1,415.2 74.7,415.4 75.4,415.4 76.0,415.4 76.6,415.3 77.2,415.2 77.9,415.0 78.5,414.8 79.1,414.6 79.7,414.4 80.3,414.2 81.0,413.9 81.6,413.6 82.2,413.3 82.8,412.8 83.4,412.3 84.1,411.8 84.7,411.3 85.3,410.7 85.9,410.2 86.6,409.6 87.2,409.1 87.8,408.6 88.4,408.0 89.0,407.5 89.7,407.0 90.3,406.6 90.9,406.3 91.5,405.9 92.2,405.5 92.8,405.2 93.4,404.8 94.0,404.5 94.6,404.2 95.3,403.9 95.9,403.6 96.5,403.3 97.1,403.1 97.8,403.0 98.4,403.0 99.0,403.2 99.6,403.4 100.2,403.6 100.9,403.7 101.5,403.9 102.1,404.2 102.7,404.4 103.3,404.6 104.0,404.8 104.6,405.0 105.2,405.1 105.8,405.1 106.5,405.1 107.1,404.9 107.7,404.8 108.3,404.6 108.9,404.5 109.6,404.4 110.2,404.3 110.8,404.2 111.4,404.1 112.1,404.0 112.7,403.9 113.3,403.8 113.9,403.6 114.5,403.5 115.2,403.4 115.8,403.4 116.4,403.4 117.0,403.4 117.6,403.4 118.3,403.5 118.9,403.5 119.5,403.6 120.1,403.6 120.8,403.7 121.4,403.8 122.0,403.9 122.6,404.1 123.2,404.2 123.9,404.4 124.5,404.7 125.1,404.9 125.7,405.1 126.4,405.3 127.0,405.5 127.6,405.8 128.2,406.0 128.8,406.3 129.5,406.6 130.1,406.9 130.7,407.2 131.3,407.4 132.0,407.7 132.6,408.0 133.2,408.4 133.8,408.7 134.4,408.9 135.1,409.1 135.7,409.3 136.3,409.4 136.9,409.5 137.5,409.5 138.2,409.6 138.8,409.7 139.4,409.7 140.0,409.8 140.7,409.7 141.3,409.7 141.9,409.7 142.5,409.9 143.1,410.0 143.8,410.0 144.4,410.0 145.0,410.0 145.6,410.0 146.3,409.8 146.9,409.7 147.5,409.4 148.1,409.0 148.7,408.6 149.4,408.2 150.0,407.7 150.6,407.2 151.2,406.6 151.8,406.0 152.5,405.3 153.1,404.4 153.7,403.5 154.3,402.5 155.0,401.4 155.6,400.3 156.2,399.0 156.8,397.7 157.4,396.3 158.1,395.0 158.7,393.6 159.3,392.2 159.9,390.8 160.6,389.5 161.2,388.1 161.8,386.7 162.4,385.2 163.0,383.7 163.7,382.2 164.3,380.5 164.9,378.9 165.5,377.2 166.2,375.4 166.8,373.6 167.4,371.6 168.0,369.5 168.6,367.1 169.3,364.7 169.9,362.1 170.5,359.4 171.1,356.8 171.7,354.2 172.4,351.5 173.0,348.8 173.6,346.1 174.2,343.4 174.9,340.7 175.5,338.0 176.1,335.3 176.7,332.4 177.3,329.2 178.0,326.1 178.6,323.7 179.2,321.5 179.8,319.5 180.5,318.3 181.1,318.1 181.7,319.1 182.3,320.9 182.9,323.2 183.6,325.7 184.2,328.8 184.8,332.8 185.4,337.2 186.0,342.7 186.7,351.7 187.3,359.7 187.9,366.6 188.5,372.8 189.2,378.8 189.8,384.7 190.4,390.6 191.0,396.3 191.6,401.9 192.3,407.3 192.9,411.9 193.5,415.6 194.1,419.0 194.8,421.8 195.4,424.0 196.0,425.7 196.6,427.3 197.2,428.6 197.9,429.8 198.5,430.7 199.1,431.6 199.7,432.2 200.4,432.9 201.0,433.4 201.6,434.0 202.2,434.4 202.8,434.9 203.5,435.3 204.1,435.6 204.7,435.8 205.3,436.0 205.9,436.2 206.6,436.4 207.2,436.6 207.8,436.8 208.4,436.9 209.1,437.1 209.7,437.2 210.3,437.3 210.9,437.5 211.5,437.6 212.2,437.7 212.8,437.8 213.4,438.0 214.0,438.1 214.7,438.2 215.3,438.2 215.9,438.3 216.5,438.4 217.1,438.5 217.8,438.6 218.4,438.6 219.0,438.7 219.6,438.7 220.2,438.8 220.9,438.9 221.5,438.9 222.1,439.0 222.7,439.0 223.4,439.1 224.0,439.1 224.6,439.1 225.2,439.2 225.8,439.2 226.5,439.3 227.1,439.3 227.7,439.3 228.3,439.4 229.0,439.4 229.6,439.4 230.2,439.5 230.8,439.5 231.4,439.5 232.1,439.6 232.7,439.6 233.3,439.6 233.9,439.7 234.6,439.7 235.2,439.7 235.8,439.8 236.4,439.8 237.0,439.8 237.7,439.9 238.3,439.9 238.9,439.9 239.5,439.9 240.1,440.0 240.8,440.0 241.4,440.0 242.0,440.0 242.6,440.1 243.3,440.1 243.9,440.1 244.5,440.1 245.1,440.2 245.7,440.2 246.4,440.2 247.0,440.2 247.6,440.3 248.2,440.3 248.9,440.3 249.5,440.3 250.1,440.3 250.7,440.4 251.3,440.4 252.0,440.4 252.6,440.4 253.2,440.4 253.8,440.4 254.4,440.4 255.1,440.5 255.7,440.5 256.3,440.5 256.9,440.5 257.6,440.5 258.2,440.5 258.8,440.5 259.4,440.5 260.0,440.6 260.7,440.6 261.3,440.6 261.9,440.6 262.5,440.6 263.2,440.6 263.8,440.6 264.4,440.6 265.0,440.6 265.6,440.6 266.3,440.6 266.9,440.6" fill="none" stroke="#b06070" stroke-width="0.9" stroke-linejoin="round" />
<path d="M39.3,336.7 39.9,341.2 40.5,345.7 41.2,350.1 41.8,354.6 42.4,359.0 43.0,363.3 43.7,367.5 44.3,371.6 44.9,375.6 45.5,379.0 46.1,382.0 46.8,384.7 47.4,387.2 48.0,389.2 48.6,390.8 49.2,392.2 49.9,393.6 50.5,394.8 51.1,395.8 51.7,396.6 52.4,397.1 53.0,397.4 53.6,397.6 54.2,397.6 54.8,397.7 55.5,397.7 56.1,397.8 56.7,397.8 57.3,397.9 58.0,398.0 58.6,398.0 59.2,398.1 59.8,398.2 60.4,398.2 61.1,398.2 61.7,398.2 62.3,398.3 62.9,398.4 63.6,398.5 64.2,398.6 64.8,399.0 65.4,399.6 66.0,400.6 66.7,402.3 67.3,404.4 67.9,406.2 68.5,407.9 69.1,409.4 69.8,410.5 70.4,411.4 71.0,412.3 71.6,413.0 72.3,413.6 72.9,414.0 73.5,414.4 74.1,414.7 74.7,414.9 75.4,414.9 76.0,414.9 76.6,414.8 77.2,414.6 77.9,414.5 78.5,414.3 79.1,414.1 79.7,413.9 80.3,413.7 81.0,413.5 81.6,413.2 82.2,412.8 82.8,412.4 83.4,412.0 84.1,411.5 84.7,411.0 85.3,410.4 85.9,409.9 86.6,409.4 87.2,408.9 87.8,408.4 88.4,407.8 89.0,407.3 89.7,406.8 90.3,406.4 90.9,406.0 91.5,405.6 92.2,405.2 92.8,404.8 93.4,404.4 94.0,404.0 94.6,403.6 95.3,403.2 95.9,402.7 96.5,402.3 97.1,401.9 97.8,401.7 98.4,401.6 99.0,401.7 99.6,401.8 100.2,401.8 100.9,401.9 101.5,402.0 102.1,402.1 102.7,402.2 103.3,402.3 104.0,402.4 104.6,402.5 105.2,402.5 105.8,402.5 106.5,402.4 107.1,402.2 107.7,401.9 108.3,401.7 108.9,401.5 109.6,401.4 110.2,401.2 110.8,401.1 111.4,401.0 112.1,400.8 112.7,400.7 113.3,400.5 113.9,400.4 114.5,400.2 115.2,400.1 115.8,400.1 116.4,400.1 117.0,400.1 117.6,400.1 118.3,400.2 118.9,400.3 119.5,400.3 120.1,400.4 120.8,400.5 121.4,400.6 122.0,400.7 122.6,400.9 123.2,401.1 123.9,401.4 124.5,401.7 125.1,401.9 125.7,402.2 126.4,402.5 127.0,402.8 127.6,403.1 128.2,403.4 128.8,403.8 129.5,404.2 130.1,404.6 130.7,405.0 131.3,405.3 132.0,405.7 132.6,406.2 133.2,406.6 133.8,407.1 134.4,407.5 135.1,407.8 135.7,408.1 136.3,408.4 136.9,408.6 137.5,408.8 138.2,409.0 138.8,409.2 139.4,409.4 140.0,409.5 140.7,409.7 141.3,409.7 141.9,409.9 142.5,410.1 143.1,410.3 143.8,410.4 144.4,410.5 145.0,410.6 145.6,410.6 146.3,410.6 146.9,410.5 147.5,410.4 148.1,410.1 148.7,409.9 149.4,409.5 150.0,409.2 150.6,408.8 151.2,408.3 151.8,407.8 152.5,407.2 153.1,406.5 153.7,405.7 154.3,404.9 155.0,403.9 155.6,402.8 156.2,401.7 156.8,400.5 157.4,399.3 158.1,398.1 158.7,396.8 159.3,395.6 159.9,394.4 160.6,393.2 161.2,391.9 161.8,390.7 162.4,389.3 163.0,388.0 163.7,386.6 164.3,385.1 164.9,383.6 165.5,382.1 166.2,380.5 166.8,378.8 167.4,377.0 168.0,375.1 168.6,373.0 169.3,370.7 169.9,368.4 170.5,366.0 171.1,363.6 171.7,361.3 172.4,358.9 173.0,356.5 173.6,354.0 174.2,351.6 174.9,349.2 175.5,346.8 176.1,344.3 176.7,341.7 177.3,338.8 178.0,336.0 178.6,333.9 179.2,331.9 179.8,330.1 180.5,329.0 181.1,328.9 181.7,329.8 182.3,331.4 182.9,333.6 183.6,335.8 184.2,338.7 184.8,342.4 185.4,346.4 186.0,351.4 186.7,359.5 187.3,366.8 187.9,373.0 188.5,378.7 189.2,384.1 189.8,389.5 190.4,394.9 191.0,400.1 191.6,405.2 192.3,410.1 192.9,414.2 193.5,417.6 194.1,420.6 194.8,423.2 195.4,425.2 196.0,426.8 196.6,428.2 197.2,429.4 197.9,430.5 198.5,431.4 199.1,432.1 199.7,432.8 200.4,433.3 201.0,433.9 201.6,434.4 202.2,434.8 202.8,435.2 203.5,435.6 204.1,435.9 204.7,436.1 205.3,436.3 205.9,436.5 206.6,436.6 207.2,436.8 207.8,437.0 208.4,437.1 209.1,437.3 209.7,437.4 210.3,437.5 210.9,437.7 211.5,437.8 212.2,437.9 212.8,438.0 213.4,438.1 214.0,438.2 214.7,438.3 215.3,438.4 215.9,438.5 216.5,438.6 217.1,438.6 217.8,438.7 218.4,438.8 219.0,438.8 219.6,438.9 220.2,438.9 220.9,439.0 221.5,439.0 222.1,439.1 222.7,439.1 223.4,439.2 224.0,439.2 224.6,439.2 225.2,439.3 225.8,439.3 226.5,439.3 227.1,439.4 227.7,439.4 228.3,439.4 229.0,439.5 229.6,439.5 230.2,439.5 230.8,439.6 231.4,439.6 232.1,439.6 232.7,439.7 233.3,439.7 233.9,439.7 234.6,439.8 235.2,439.8 235.8,439.8 236.4,439.8 237.0,439.9 237.7,439.9 238.3,439.9 238.9,440.0 239.5,440.0 240.1,440.0 240.8,440.0 241.4,440.1 242.0,440.1 242.6,440.1 243.3,440.1 243.9,440.2 244.5,440.2 245.1,440.2 245.7,440.2 246.4,440.2 247.0,440.3 247.6,440.3 248.2,440.3 248.9,440.3 249.5,440.3 250.1,440.4 250.7,440.4 251.3,440.4 252.0,440.4 252.6,440.4 253.2,440.4 253.8,440.4 254.4,440.5 255.1,440.5 255.7,440.5 256.3,440.5 256.9,440.5 257.6,440.5 258.2,440.5 258.8,440.5 259.4,440.5 260.0,440.6 260.7,440.6 261.3,440.6 261.9,440.6 262.5,440.6 263.2,440.6 263.8,440.6 264.4,440.6 265.0,440.6 265.6,440.6 266.3,440.6 266.9,440.6" fill="none" stroke="#aa55aa" stroke-width="0.9" stroke-linejoin="round" />
<path d="M39.3,336.7 39.9,341.2 40.5,345.7 41.2,350.1 41.8,354.6 42.4,359.0 43.0,363.3 43.7,367.5 44.3,371.6 44.9,375.6 45.5,379.0 46.1,382.0 46.8,384.7 47.4,387.2 48.0,389.2 48.6,390.8 49.2,392.2 49.9,393.6 50.5,394.8 51.1,395.8 51.7,396.6 52.4,397.1 53.0,397.4 53.6,397.6 54.2,397.8 54.8,397.8 55.5,397.9 56.1,398.0 56.7,398.1 57.3,398.2 58.0,398.3 58.6,398.4 59.2,398.5 59.8,398.6 60.4,398.7 61.1,398.8 61.7,398.8 62.3,398.9 62.9,399.0 63.6,399.2 64.2,399.3 64.8,399.7 65.4,400.3 66.0,401.2 66.7,402.9 67.3,404.8 67.9,406.4 68.5,408.0 69.1,409.4 69.8,410.4 70.4,411.3 71.0,412.1 71.6,412.8 72.3,413.3 72.9,413.7 73.5,414.1 74.1,414.4 74.7,414.5 75.4,414.5 76.0,414.5 76.6,414.4 77.2,414.3 77.9,414.1 78.5,413.9 79.1,413.7 79.7,413.5 80.3,413.3 81.0,413.1 81.6,412.8 82.2,412.5 82.8,412.1 83.4,411.7 84.1,411.2 84.7,410.7 85.3,410.2 85.9,409.7 86.6,409.2 87.2,408.7 87.8,408.2 88.4,407.7 89.0,407.1 89.7,406.7 90.3,406.3 90.9,405.8 91.5,405.4 92.2,405.0 92.8,404.6 93.4,404.1 94.0,403.7 94.6,403.2 95.3,402.7 95.9,402.1 96.5,401.6 97.1,401.1 97.8,400.7 98.4,400.6 99.0,400.5 99.6,400.5 100.2,400.5 100.9,400.5 101.5,400.5 102.1,400.5 102.7,400.6 103.3,400.6 104.0,400.7 104.6,400.7 105.2,400.6 105.8,400.5 106.5,400.3 107.1,400.1 107.7,399.8 108.3,399.5 108.9,399.3 109.6,399.1 110.2,398.9 110.8,398.7 111.4,398.6 112.1,398.4 112.7,398.2 113.3,398.1 113.9,397.9 114.5,397.7 115.2,397.6 115.8,397.6 116.4,397.6 117.0,397.6 117.6,397.6 118.3,397.7 118.9,397.8 119.5,397.9 120.1,398.0 120.8,398.1 121.4,398.2 122.0,398.3 122.6,398.6 123.2,398.8 123.9,399.1 124.5,399.4 125.1,399.7 125.7,400.0 126.4,400.4 127.0,400.7 127.6,401.1 128.2,401.5 128.8,401.9 129.5,402.4 130.1,402.8 130.7,403.3 131.3,403.8 132.0,404.2 132.6,404.8 133.2,405.3 133.8,405.8 134.4,406.3 135.1,406.8 135.7,407.2 136.3,407.6 136.9,407.9 137.5,408.2 138.2,408.5 138.8,408.8 139.4,409.1 140.0,409.4 140.7,409.6 141.3,409.8 141.9,410.0 142.5,410.3 143.1,410.5 143.8,410.7 144.4,410.9 145.0,411.1 145.6,411.2 146.3,411.2 146.9,411.2 147.5,411.1 148.1,411.0 148.7,410.8 149.4,410.5 150.0,410.3 150.6,410.0 151.2,409.6 151.8,409.2 152.5,408.7 153.1,408.1 153.7,407.4 154.3,406.6 155.0,405.7 155.6,404.8 156.2,403.8 156.8,402.7 157.4,401.6 158.1,400.5 158.7,399.3 159.3,398.2 159.9,397.1 160.6,395.9 161.2,394.8 161.8,393.7 162.4,392.5 163.0,391.2 163.7,389.9 164.3,388.6 164.9,387.2 165.5,385.8 166.2,384.3 166.8,382.7 167.4,381.1 168.0,379.3 168.6,377.4 169.3,375.3 169.9,373.2 170.5,371.0 171.1,368.8 171.7,366.6 172.4,364.4 173.0,362.2 173.6,360.0 174.2,357.8 174.9,355.5 175.5,353.3 176.1,351.1 176.7,348.7 177.3,346.0 178.0,343.5 178.6,341.6 179.2,339.7 179.8,338.1 180.5,337.1 181.1,337.0 181.7,337.9 182.3,339.4 182.9,341.4 183.6,343.5 184.2,346.2 184.8,349.6 185.4,353.3 186.0,357.9 186.7,365.5 187.3,372.2 187.9,377.9 188.5,383.2 189.2,388.1 189.8,393.1 190.4,398.1 191.0,402.9 191.6,407.6 192.3,412.1 192.9,415.9 193.5,419.1 194.1,421.9 194.8,424.3 195.4,426.1 196.0,427.6 196.6,428.9 197.2,430.0 197.9,431.0 198.5,431.9 199.1,432.6 199.7,433.2 200.4,433.7 201.0,434.2 201.6,434.7 202.2,435.1 202.8,435.4 203.5,435.8 204.1,436.1 204.7,436.3 205.3,436.5 205.9,436.7 206.6,436.8 207.2,437.0 207.8,437.1 208.4,437.3 209.1,437.4 209.7,437.6 210.3,437.7 210.9,437.8 211.5,437.9 212.2,438.0 212.8,438.2 213.4,438.3 214.0,438.3 214.7,438.4 215.3,438.5 215.9,438.6 216.5,438.7 217.1,438.7 217.8,438.8 218.4,438.9 219.0,438.9 219.6,439.0 220.2,439.0 220.9,439.1 221.5,439.1 222.1,439.1 222.7,439.2 223.4,439.2 224.0,439.3 224.6,439.3 225.2,439.3 225.8,439.4 226.5,439.4 227.1,439.4 227.7,439.5 228.3,439.5 229.0,439.5 229.6,439.6 230.2,439.6 230.8,439.6 231.4,439.7 232.1,439.7 232.7,439.7 233.3,439.7 233.9,439.8 234.6,439.8 235.2,439.8 235.8,439.9 236.4,439.9 237.0,439.9 237.7,439.9 238.3,440.0 238.9,440.0 239.5,440.0 240.1,440.0 240.8,440.1 241.4,440.1 242.0,440.1 242.6,440.1 243.3,440.2 243.9,440.2 244.5,440.2 245.1,440.2 245.7,440.2 246.4,440.3 247.0,440.3 247.6,440.3 248.2,440.3 248.9,440.3 249.5,440.3 250.1,440.4 250.7,440.4 251.3,440.4 252.0,440.4 252.6,440.4 253.2,440.4 253.8,440.5 254.4,440.5 255.1,440.5 255.7,440.5 256.3,440.5 256.9,440.5 257.6,440.5 258.2,440.5 258.8,440.5 259.4,440.5 260.0,440.6 260.7,440.6 261.3,440.6 261.9,440.6 262.5,440.6 263.2,440.6 263.8,440.6 264.4,440.6 265.0,440.6 265.6,440.6 266.3,440.6 266.9,440.6" fill="none" stroke="#9955ee" stroke-width="0.9" stroke-linejoin="round" />
<path d="M39.3,336.7 39.9,341.2 40.5,345.7 41.2,350.1 41.8,354.6 42.4,359.0 43.0,363.3 43.7,367.5 44.3,371.6 44.9,375.6 45.5,379.0 46.1,382.0 46.8,384.7 47.4,387.2 48.0,389.2 48.6,390.8 49.2,392.2 49.9,393.5 50.5,394.7 51.1,395.7 51.7,396.5 52.4,397.1 53.0,397.5 53.6,397.7 54.2,397.9 54.8,398.0 55.5,398.2 56.1,398.3 56.7,398.4 57.3,398.6 58.0,398.8 58.6,398.9 59.2,399.1 59.8,399.2 60.4,399.4 61.1,399.5 61.7,399.6 62.3,399.7 62.9,399.9 63.6,400.1 64.2,400.3 64.8,400.7 65.4,401.3 66.0,402.1 66.7,403.6 67.3,405.4 67.9,406.9 68.5,408.3 69.1,409.5 69.8,410.4 70.4,411.2 71.0,411.9 71.6,412.4 72.3,412.9 72.9,413.2 73.5,413.6 74.1,413.8 74.7,414.0 75.4,414.0 76.0,413.9 76.6,413.8 77.2,413.7 77.9,413.6 78.5,413.4 79.1,413.2 79.7,413.0 80.3,412.8 81.0,412.6 81.6,412.4 82.2,412.1 82.8,411.7 83.4,411.3 84.1,410.8 84.7,410.4 85.3,409.9 85.9,409.4 86.6,408.9 87.2,408.5 87.8,408.0 88.4,407.5 89.0,406.9 89.7,406.5 90.3,406.0 90.9,405.6 91.5,405.1 92.2,404.7 92.8,404.2 93.4,403.7 94.0,403.2 94.6,402.6 95.3,401.9 95.9,401.2 96.5,400.5 97.1,399.9 97.8,399.4 98.4,399.1 99.0,399.0 99.6,398.8 100.2,398.7 100.9,398.6 101.5,398.5 102.1,398.4 102.7,398.4 103.3,398.3 104.0,398.2 104.6,398.1 105.2,398.0 105.8,397.8 106.5,397.5 107.1,397.2 107.7,396.9 108.3,396.5 108.9,396.2 109.6,395.9 110.2,395.7 110.8,395.5 111.4,395.3 112.1,395.1 112.7,394.9 113.3,394.7 113.9,394.5 114.5,394.3 115.2,394.2 115.8,394.2 116.4,394.2 117.0,394.2 117.6,394.2 118.3,394.3 118.9,394.4 119.5,394.5 120.1,394.6 120.8,394.7 121.4,394.9 122.0,395.1 122.6,395.3 123.2,395.6 123.9,395.9 124.5,396.3 125.1,396.7 125.7,397.1 126.4,397.4 127.0,397.8 127.6,398.3 128.2,398.8 128.8,399.3 129.5,399.9 130.1,400.4 130.7,401.0 131.3,401.6 132.0,402.2 132.6,402.8 133.2,403.5 133.8,404.2 134.4,404.8 135.1,405.4 135.7,406.0 136.3,406.5 136.9,407.0 137.5,407.4 138.2,407.9 138.8,408.3 139.4,408.8 140.0,409.2 140.7,409.5 141.3,409.8 141.9,410.1 142.5,410.5 143.1,410.9 143.8,411.2 144.4,411.4 145.0,411.7 145.6,411.9 146.3,412.0 146.9,412.1 147.5,412.1 148.1,412.1 148.7,412.0 149.4,411.9 150.0,411.8 150.6,411.6 151.2,411.4 151.8,411.1 152.5,410.8 153.1,410.3 153.7,409.7 154.3,409.0 155.0,408.3 155.6,407.5 156.2,406.6 156.8,405.6 157.4,404.7 158.1,403.7 158.7,402.7 159.3,401.7 159.9,400.7 160.6,399.8 161.2,398.8 161.8,397.8 162.4,396.7 163.0,395.6 163.7,394.5 164.3,393.3 164.9,392.1 165.5,390.8 166.2,389.5 166.8,388.1 167.4,386.7 168.0,385.1 168.6,383.4 169.3,381.6 169.9,379.7 170.5,377.8 171.1,375.9 171.7,374.0 172.4,372.1 173.0,370.1 173.6,368.2 174.2,366.2 174.9,364.3 175.5,362.3 176.1,360.4 176.7,358.3 177.3,356.0 178.0,353.8 178.6,352.1 179.2,350.5 179.8,349.1 180.5,348.3 181.1,348.2 181.7,349.0 182.3,350.4 182.9,352.1 183.6,354.0 184.2,356.4 184.8,359.5 185.4,362.8 186.0,367.0 186.7,373.6 187.3,379.5 187.9,384.6 188.5,389.3 189.2,393.7 189.8,398.1 190.4,402.5 191.0,406.7 191.6,410.9 192.3,414.9 192.9,418.3 193.5,421.1 194.1,423.6 194.8,425.7 195.4,427.3 196.0,428.6 196.6,429.8 197.2,430.8 197.9,431.8 198.5,432.5 199.1,433.2 199.7,433.7 200.4,434.2 201.0,434.7 201.6,435.1 202.2,435.4 202.8,435.8 203.5,436.1 204.1,436.3 204.7,436.6 205.3,436.7 205.9,436.9 206.6,437.1 207.2,437.2 207.8,437.4 208.4,437.5 209.1,437.7 209.7,437.8 210.3,437.9 210.9,438.0 211.5,438.1 212.2,438.2 212.8,438.3 213.4,438.4 214.0,438.5 214.7,438.6 215.3,438.7 215.9,438.8 216.5,438.8 217.1,438.9 217.8,438.9 218.4,439.0 219.0,439.0 219.6,439.1 220.2,439.1 220.9,439.2 221.5,439.2 222.1,439.3 222.7,439.3 223.4,439.3 224.0,439.4 224.6,439.4 225.2,439.4 225.8,439.5 226.5,439.5 227.1,439.5 227.7,439.6 228.3,439.6 229.0,439.6 229.6,439.6 230.2,439.7 230.8,439.7 231.4,439.7 232.1,439.8 232.7,439.8 233.3,439.8 233.9,439.8 234.6,439.9 235.2,439.9 235.8,439.9 236.4,439.9 237.0,440.0 237.7,440.0 238.3,440.0 238.9,440.0 239.5,440.1 240.1,440.1 240.8,440.1 241.4,440.1 242.0,440.2 242.6,440.2 243.3,440.2 243.9,440.2 244.5,440.2 245.1,440.3 245.7,440.3 246.4,440.3 247.0,440.3 247.6,440.3 248.2,440.3 248.9,440.4 249.5,440.4 250.1,440.4 250.7,440.4 251.3,440.4 252.0,440.4 252.6,440.4 253.2,440.5 253.8,440.5 254.4,440.5 255.1,440.5 255.7,440.5 256.3,440.5 256.9,440.5 257.6,440.5 258.2,440.5 258.8,440.5 259.4,440.6 260.0,440.6 260.7,440.6 261.3,440.6 261.9,440.6 262.5,440.6 263.2,440.6 263.8,440.6 264.4,440.6 265.0,440.6 265.6,440.6 266.3,440.6 266.9,440.6" fill="none" stroke="#555599" stroke-width="0.9" stroke-linejoin="round" />
<path d="M39.3,336.7 39.9,341.2 40.5,345.7 41.2,350.1 41.8,354.6 42.4,359.0 43.0,363.3 43.7,367.5 44.3,371.6 44.9,375.6 45.5,379.0 46.1,382.0 46.8,384.7 47.4,387.2 48.0,389.2 48.6,390.8 49.2,392.2 49.9,393.5 50.5,394.7 51.1,395.7 51.7,396.5 52.4,397.1 53.0,397.5 53.6,397.8 54.2,398.1 54.8,398.3 55.5,398.5 56.1,398.7 56.7,398.9 57.3,399.1 58.0,399.3 58.6,399.6 59.2,399.8 59.8,400.0 60.4,400.2 61.1,400.4 61.7,400.6 62.3,400.8 62.9,401.0 63.6,401.2 64.2,401.5 64.8,401.9 65.4,402.5 66.0,403.3 66.7,404.6 67.3,406.1 67.9,407.3 68.5,408.6 69.1,409.6 69.8,410.3 70.4,411.0 71.0,411.5 71.6,412.0 72.3,412.4 72.9,412.7 73.5,413.0 74.1,413.2 74.7,413.3 75.4,413.3 76.0,413.3 76.6,413.2 77.2,413.1 77.9,412.9 78.5,412.8 79.1,412.6 79.7,412.4 80.3,412.2 81.0,412.0 81.6,411.8 82.2,411.5 82.8,411.2 83.4,410.8 84.1,410.4 84.7,410.0 85.3,409.5 85.9,409.1 86.6,408.6 87.2,408.2 87.8,407.7 88.4,407.2 89.0,406.7 89.7,406.2 90.3,405.8 90.9,405.3 91.5,404.8 92.2,404.3 92.8,403.8 93.4,403.2 94.0,402.6 94.6,401.9 95.3,401.1 95.9,400.2 96.5,399.3 97.1,398.4 97.8,397.8 98.4,397.3 99.0,397.0 99.6,396.7 100.2,396.4 100.9,396.2 101.5,396.0 102.1,395.8 102.7,395.6 103.3,395.4 104.0,395.2 104.6,395.0 105.2,394.8 105.8,394.5 106.5,394.1 107.1,393.7 107.7,393.2 108.3,392.8 108.9,392.4 109.6,392.1 110.2,391.8 110.8,391.5 111.4,391.3 112.1,391.0 112.7,390.8 113.3,390.5 113.9,390.3 114.5,390.1 115.2,390.0 115.8,389.9 116.4,389.9 117.0,389.9 117.6,390.0 118.3,390.1 118.9,390.2 119.5,390.3 120.1,390.5 120.8,390.6 121.4,390.8 122.0,391.0 122.6,391.3 123.2,391.7 123.9,392.1 124.5,392.5 125.1,392.9 125.7,393.4 126.4,393.8 127.0,394.3 127.6,394.9 128.2,395.5 128.8,396.1 129.5,396.8 130.1,397.5 130.7,398.2 131.3,398.9 132.0,399.6 132.6,400.4 133.2,401.3 133.8,402.1 134.4,402.9 135.1,403.7 135.7,404.5 136.3,405.2 136.9,405.8 137.5,406.5 138.2,407.1 138.8,407.7 139.4,408.3 140.0,408.9 140.7,409.4 141.3,409.8 141.9,410.3 142.5,410.8 143.1,411.3 143.8,411.7 144.4,412.1 145.0,412.4 145.6,412.7 146.3,413.0 146.9,413.2 147.5,413.4 148.1,413.5 148.7,413.6 149.4,413.6 150.0,413.7 150.6,413.7 151.2,413.6 151.8,413.5 152.5,413.3 153.1,413.0 153.7,412.6 154.3,412.0 155.0,411.4 155.6,410.8 156.2,410.0 156.8,409.3 157.4,408.5 158.1,407.7 158.7,406.9 159.3,406.1 159.9,405.3 160.6,404.5 161.2,403.7 161.8,402.9 162.4,402.0 163.0,401.1 163.7,400.2 164.3,399.2 164.9,398.1 165.5,397.1 166.2,396.0 166.8,394.8 167.4,393.6 168.0,392.3 168.6,390.9 169.3,389.4 169.9,387.8 170.5,386.3 171.1,384.7 171.7,383.1 172.4,381.5 173.0,379.9 173.6,378.3 174.2,376.7 174.9,375.1 175.5,373.5 176.1,371.9 176.7,370.2 177.3,368.3 178.0,366.5 178.6,365.1 179.2,363.8 179.8,362.7 180.5,362.0 181.1,362.0 181.7,362.7 182.3,363.9 182.9,365.4 183.6,367.1 184.2,369.1 184.8,371.8 185.4,374.6 186.0,378.1 186.7,383.7 187.3,388.6 187.9,392.9 188.5,396.8 189.2,400.5 189.8,404.2 190.4,407.9 191.0,411.5 191.6,415.0 192.3,418.4 192.9,421.2 193.5,423.6 194.1,425.7 194.8,427.5 195.4,428.9 196.0,430.0 196.6,431.0 197.2,431.9 197.9,432.7 198.5,433.3 199.1,433.9 199.7,434.4 200.4,434.8 201.0,435.2 201.6,435.6 202.2,435.9 202.8,436.2 203.5,436.5 204.1,436.7 204.7,436.9 205.3,437.1 205.9,437.2 206.6,437.4 207.2,437.5 207.8,437.7 208.4,437.8 209.1,437.9 209.7,438.0 210.3,438.2 210.9,438.3 211.5,438.4 212.2,438.5 212.8,438.6 213.4,438.7 214.0,438.7 214.7,438.8 215.3,438.9 215.9,438.9 216.5,439.0 217.1,439.1 217.8,439.1 218.4,439.2 219.0,439.2 219.6,439.2 220.2,439.3 220.9,439.3 221.5,439.4 222.1,439.4 222.7,439.4 223.4,439.5 224.0,439.5 224.6,439.5 225.2,439.6 225.8,439.6 226.5,439.6 227.1,439.6 227.7,439.7 228.3,439.7 229.0,439.7 229.6,439.7 230.2,439.8 230.8,439.8 231.4,439.8 232.1,439.9 232.7,439.9 233.3,439.9 233.9,439.9 234.6,439.9 235.2,440.0 235.8,440.0 236.4,440.0 237.0,440.0 237.7,440.1 238.3,440.1 238.9,440.1 239.5,440.1 240.1,440.1 240.8,440.2 241.4,440.2 242.0,440.2 242.6,440.2 243.3,440.2 243.9,440.3 244.5,440.3 245.1,440.3 245.7,440.3 246.4,440.3 247.0,440.3 247.6,440.4 248.2,440.4 248.9,440.4 249.5,440.4 250.1,440.4 250.7,440.4 251.3,440.4 252.0,440.4 252.6,440.5 253.2,440.5 253.8,440.5 254.4,440.5 255.1,440.5 255.7,440.5 256.3,440.5 256.9,440.5 257.6,440.5 258.2,440.5 258.8,440.6 259.4,440.6 260.0,440.6 260.7,440.6 261.3,440.6 261.9,440.6 262.5,440.6 263.2,440.6 263.8,440.6 264.4,440.6 265.0,440.6 265.6,440.6 266.3,440.6 266.9,440.6" fill="none" stroke="#55a055" stroke-width="0.9" stroke-linejoin="round" />
<path d="M39.3,336.7 39.9,341.2 40.5,345.7 41.2,350.1 41.8,354.6 42.4,359.0 43.0,363.3 43.7,367.5 44.3,371.6 44.9,375.6 45.5,379.0 46.1,382.0 46.8,384.7 47.4,387.2 48.0,389.2 48.6,390.8 49.2,392.2 49.9,393.5 50.5,394.6 51.1,395.6 51.7,396.4 52.4,397.1 53.0,397.6 53.6,397.9 54.2,398.3 54.8,398.5 55.5,398.8 56.1,399.0 56.7,399.3 57.3,399.6 58.0,399.8 58.6,400.1 59.2,400.4 59.8,400.7 60.4,401.0 61.1,401.2 61.7,401.4 62.3,401.7 62.9,402.0 63.6,402.3 64.2,402.6 64.8,403.0 65.4,403.6 66.0,404.3 66.7,405.4 67.3,406.7 67.9,407.8 68.5,408.8 69.1,409.7 69.8,410.3 70.4,410.8 71.0,411.3 71.6,411.7 72.3,412.0 72.9,412.2 73.5,412.4 74.1,412.6 74.7,412.7 75.4,412.7 76.0,412.7 76.6,412.6 77.2,412.5 77.9,412.3 78.5,412.2 79.1,412.0 79.7,411.9 80.3,411.7 81.0,411.5 81.6,411.3 82.2,411.0 82.8,410.7 83.4,410.3 84.1,410.0 84.7,409.6 85.3,409.2 85.9,408.8 86.6,408.3 87.2,407.9 87.8,407.5 88.4,407.0 89.0,406.5 89.7,406.0 90.3,405.5 90.9,405.0 91.5,404.5 92.2,403.9 92.8,403.4 93.4,402.8 94.0,402.1 94.6,401.2 95.3,400.3 95.9,399.2 96.5,398.1 97.1,397.1 97.8,396.3 98.4,395.7 99.0,395.2 99.6,394.8 100.2,394.4 100.9,394.0 101.5,393.7 102.1,393.4 102.7,393.1 103.3,392.8 104.0,392.5 104.6,392.2 105.2,391.8 105.8,391.4 106.5,391.0 107.1,390.5 107.7,390.0 108.3,389.5 108.9,389.0 109.6,388.6 110.2,388.2 110.8,387.9 111.4,387.6 112.1,387.3 112.7,387.0 113.3,386.8 113.9,386.5 114.5,386.3 115.2,386.2 115.8,386.1 116.4,386.1 117.0,386.1 117.6,386.2 118.3,386.3 118.9,386.4 119.5,386.6 120.1,386.7 120.8,386.9 121.4,387.1 122.0,387.4 122.6,387.7 123.2,388.1 123.9,388.5 124.5,389.0 125.1,389.5 125.7,390.0 126.4,390.6 127.0,391.1 127.6,391.8 128.2,392.5 128.8,393.2 129.5,394.0 130.1,394.8 130.7,395.7 131.3,396.5 132.0,397.3 132.6,398.3 133.2,399.2 133.8,400.2 134.4,401.2 135.1,402.2 135.7,403.1 136.3,404.0 136.9,404.8 137.5,405.6 138.2,406.4 138.8,407.2 139.4,407.9 140.0,408.7 140.7,409.3 141.3,409.9 141.9,410.5 142.5,411.1 143.1,411.6 143.8,412.2 144.4,412.7 145.0,413.1 145.6,413.5 146.3,413.9 146.9,414.2 147.5,414.5 148.1,414.7 148.7,415.0 149.4,415.2 150.0,415.4 150.6,415.5 151.2,415.6 151.8,415.6 152.5,415.6 153.1,415.4 153.7,415.2 154.3,414.8 155.0,414.3 155.6,413.7 156.2,413.2 156.8,412.6 157.4,411.9 158.1,411.3 158.7,410.7 159.3,410.0 159.9,409.4 160.6,408.8 161.2,408.1 161.8,407.5 162.4,406.8 163.0,406.1 163.7,405.3 164.3,404.4 164.9,403.6 165.5,402.7 166.2,401.8 166.8,400.9 167.4,399.9 168.0,398.8 168.6,397.7 169.3,396.4 169.9,395.2 170.5,393.9 171.1,392.6 171.7,391.3 172.4,390.0 173.0,388.7 173.6,387.4 174.2,386.1 174.9,384.9 175.5,383.6 176.1,382.3 176.7,380.9 177.3,379.4 178.0,378.0 178.6,376.9 179.2,375.8 179.8,374.9 180.5,374.5 181.1,374.5 181.7,375.1 182.3,376.2 182.9,377.5 183.6,378.8 184.2,380.6 184.8,382.8 185.4,385.3 186.0,388.2 186.7,392.8 187.3,396.9 187.9,400.4 188.5,403.6 189.2,406.7 189.8,409.8 190.4,412.9 191.0,415.8 191.6,418.7 192.3,421.5 192.9,423.9 193.5,425.8 194.1,427.6 194.8,429.1 195.4,430.2 196.0,431.2 196.6,432.1 197.2,432.8 197.9,433.5 198.5,434.1 199.1,434.6 199.7,435.0 200.4,435.4 201.0,435.7 201.6,436.0 202.2,436.3 202.8,436.6 203.5,436.8 204.1,437.0 204.7,437.2 205.3,437.4 205.9,437.5 206.6,437.7 207.2,437.8 207.8,437.9 208.4,438.0 209.1,438.2 209.7,438.3 210.3,438.4 210.9,438.5 211.5,438.6 212.2,438.7 212.8,438.8 213.4,438.8 214.0,438.9 214.7,439.0 215.3,439.1 215.9,439.1 216.5,439.2 217.1,439.2 217.8,439.3 218.4,439.3 219.0,439.3 219.6,439.4 220.2,439.4 220.9,439.5 221.5,439.5 222.1,439.5 222.7,439.5 223.4,439.6 224.0,439.6 224.6,439.6 225.2,439.7 225.8,439.7 226.5,439.7 227.1,439.7 227.7,439.8 228.3,439.8 229.0,439.8 229.6,439.8 230.2,439.9 230.8,439.9 231.4,439.9 232.1,439.9 232.7,440.0 233.3,440.0 233.9,440.0 234.6,440.0 235.2,440.0 235.8,440.1 236.4,440.1 237.0,440.1 237.7,440.1 238.3,440.1 238.9,440.2 239.5,440.2 240.1,440.2 240.8,440.2 241.4,440.2 242.0,440.2 242.6,440.3 243.3,440.3 243.9,440.3 244.5,440.3 245.1,440.3 245.7,440.3 246.4,440.4 247.0,440.4 247.6,440.4 248.2,440.4 248.9,440.4 249.5,440.4 250.1,440.4 250.7,440.4 251.3,440.5 252.0,440.5 252.6,440.5 253.2,440.5 253.8,440.5 254.4,440.5 255.1,440.5 255.7,440.5 256.3,440.5 256.9,440.5 257.6,440.5 258.2,440.6 258.8,440.6 259.4,440.6 260.0,440.6 260.7,440.6 261.3,440.6 261.9,440.6 262.5,440.6 263.2,440.6 263.8,440.6 264.4,440.6 265.0,440.6 265.6,440.6 266.3,440.6 266.9,440.6" fill="none" stroke="#e055e0" stroke-width="0.9" stroke-linejoin="round" />
<path d="M39.3,336.7 39.9,341.2 40.5,345.7 41.2,350.1 41.8,354.6 42.4,359.0 43.0,363.3 43.7,367.5 44.3,371.6 44.9,375.6 45.5,379.0 46.1,382.0 46.8,384.7 47.4,387.2 48.0,389.2 48.6,390.8 49.2,392.2 49.9,393.4 50.5,394.6 51.1,395.6 51.7,396.4 52.4,397.1 53.0,397.6 53.6,398.0 54.2,398.4 54.8,398.8 55.5,399.1 56.1,399.4 56.7,399.7 57.3,400.0 58.0,400.3 58.6,400.7 59.2,401.0 59.8,401.4 60.4,401.7 61.1,402.0 61.7,402.3 62.3,402.6 62.9,403.0 63.6,403.3 64.2,403.7 64.8,404.1 65.4,404.6 66.0,405.3 66.7,406.3 67.3,407.3 67.9,408.2 68.5,409.1 69.1,409.8 69.8,410.2 70.4,410.6 71.0,411.0 71.6,411.3 72.3,411.5 72.9,411.7 73.5,411.9 74.1,412.0 74.7,412.1 75.4,412.1 76.0,412.1 76.6,412.0 77.2,411.9 77.9,411.8 78.5,411.6 79.1,411.5 79.7,411.3 80.3,411.1 81.0,410.9 81.6,410.7 82.2,410.5 82.8,410.2 83.4,409.9 84.1,409.6 84.7,409.2 85.3,408.8 85.9,408.4 86.6,408.1 87.2,407.7 87.8,407.2 88.4,406.7 89.0,406.3 89.7,405.8 90.3,405.3 90.9,404.7 91.5,404.2 92.2,403.6 92.8,403.0 93.4,402.3 94.0,401.6 94.6,400.6 95.3,399.4 95.9,398.2 96.5,397.0 97.1,395.8 97.8,394.8 98.4,394.1 99.0,393.5 99.6,392.9 100.2,392.4 100.9,391.9 101.5,391.4 102.1,391.0 102.7,390.6 103.3,390.2 104.0,389.8 104.6,389.4 105.2,388.9 105.8,388.4 106.5,387.9 107.1,387.3 107.7,386.7 108.3,386.1 108.9,385.6 109.6,385.1 110.2,384.7 110.8,384.3 111.4,384.0 112.1,383.6 112.7,383.3 113.3,383.0 113.9,382.7 114.5,382.5 115.2,382.3 115.8,382.2 116.4,382.2 117.0,382.3 117.6,382.4 118.3,382.5 118.9,382.6 119.5,382.8 120.1,383.0 120.8,383.2 121.4,383.4 122.0,383.7 122.6,384.1 123.2,384.5 123.9,385.0 124.5,385.5 125.1,386.1 125.7,386.7 126.4,387.3 127.0,388.0 127.6,388.7 128.2,389.5 128.8,390.3 129.5,391.2 130.1,392.2 130.7,393.1 131.3,394.1 132.0,395.1 132.6,396.1 133.2,397.2 133.8,398.4 134.4,399.5 135.1,400.6 135.7,401.7 136.3,402.7 136.9,403.7 137.5,404.7 138.2,405.7 138.8,406.6 139.4,407.6 140.0,408.4 140.7,409.2 141.3,409.9 141.9,410.6 142.5,411.3 143.1,412.0 143.8,412.7 144.4,413.3 145.0,413.8 145.6,414.3 146.3,414.8 146.9,415.2 147.5,415.6 148.1,416.0 148.7,416.4 149.4,416.7 150.0,417.1 150.6,417.4 151.2,417.6 151.8,417.8 152.5,417.9 153.1,417.9 153.7,417.7 154.3,417.5 155.0,417.1 155.6,416.7 156.2,416.3 156.8,415.9 157.4,415.4 158.1,414.9 158.7,414.5 159.3,414.0 159.9,413.5 160.6,413.1 161.2,412.6 161.8,412.1 162.4,411.6 163.0,411.0 163.7,410.4 164.3,409.7 164.9,409.1 165.5,408.4 166.2,407.7 166.8,406.9 167.4,406.1 168.0,405.3 168.6,404.4 169.3,403.5 169.9,402.5 170.5,401.5 171.1,400.5 171.7,399.6 172.4,398.6 173.0,397.6 173.6,396.6 174.2,395.6 174.9,394.6 175.5,393.7 176.1,392.7 176.7,391.7 177.3,390.5 178.0,389.5 178.6,388.6 179.2,387.9 179.8,387.2 180.5,386.9 181.1,387.0 181.7,387.6 182.3,388.4 182.9,389.5 183.6,390.6 184.2,392.1 184.8,393.9 185.4,395.9 186.0,398.3 186.7,401.9 187.3,405.1 187.9,407.9 188.5,410.4 189.2,412.9 189.8,415.4 190.4,417.8 191.0,420.1 191.6,422.5 192.3,424.7 192.9,426.5 193.5,428.1 194.1,429.5 194.8,430.7 195.4,431.6 196.0,432.4 196.6,433.1 197.2,433.8 197.9,434.3 198.5,434.8 199.1,435.2 199.7,435.6 200.4,435.9 201.0,436.2 201.6,436.5 202.2,436.7 202.8,436.9 203.5,437.2 204.1,437.3 204.7,437.5 205.3,437.7 205.9,437.8 206.6,437.9 207.2,438.1 207.8,438.2 208.4,438.3 209.1,438.4 209.7,438.5 210.3,438.6 210.9,438.7 211.5,438.8 212.2,438.9 212.8,439.0 213.4,439.0 214.0,439.1 214.7,439.2 215.3,439.2 215.9,439.3 216.5,439.3 217.1,439.4 217.8,439.4 218.4,439.5 219.0,439.5 219.6,439.5 220.2,439.6 220.9,439.6 221.5,439.6 222.1,439.6 222.7,439.7 223.4,439.7 224.0,439.7 224.6,439.7 225.2,439.8 225.8,439.8 226.5,439.8 227.1,439.8 227.7,439.9 228.3,439.9 229.0,439.9 229.6,439.9 230.2,439.9 230.8,440.0 231.4,440.0 232.1,440.0 232.7,440.0 233.3,440.0 233.9,440.1 234.6,440.1 235.2,440.1 235.8,440.1 236.4,440.1 237.0,440.2 237.7,440.2 238.3,440.2 238.9,440.2 239.5,440.2 240.1,440.2 240.8,440.3 241.4,440.3 242.0,440.3 242.6,440.3 243.3,440.3 243.9,440.3 244.5,440.3 245.1,440.4 245.7,440.4 246.4,440.4 247.0,440.4 247.6,440.4 248.2,440.4 248.9,440.4 249.5,440.4 250.1,440.5 250.7,440.5 251.3,440.5 252.0,440.5 252.6,440.5 253.2,440.5 253.8,440.5 254.4,440.5 255.1,440.5 255.7,440.5 256.3,440.5 256.9,440.5 257.6,440.6 258.2,440.6 258.8,440.6 259.4,440.6 260.0,440.6 260.7,440.6 261.3,440.6 261.9,440.6 262.5,440.6 263.2,440.6 263.8,440.6 264.4,440.6 265.0,440.6 265.6,440.6 266.3,440.6 266.9,440.6" fill="none" stroke="#5555e0" stroke-width="0.9" stroke-linejoin="round" />
<path d="M39.3,336.7 39.9,341.2 40.5,345.7 41.2,350.1 41.8,354.6 42.4,359.0 43.0,363.3 43.7,367.5 44.3,371.6 44.9,375.6 45.5,379.0 46.1,382.0 46.8,384.7 47.4,387.2 48.0,389.2 48.6,390.8 49.2,392.2 49.9,393.4 50.5,394.5 51.1,395.5 51.7,396.3 52.4,397.1 53.0,397.7 53.6,398.2 54.2,398.6 54.8,399.1 55.5,399.5 56.1,399.8 56.7,400.2 57.3,400.6 58.0,401.0 58.6,401.4 59.2,401.8 59.8,402.3 60.4,402.7 61.1,403.1 61.7,403.5 62.3,403.9 62.9,404.3 63.6,404.7 64.2,405.1 64.8,405.5 65.4,406.0 66.0,406.6 66.7,407.4 67.3,408.2 67.9,408.8 68.5,409.4 69.1,409.9 69.8,410.2 70.4,410.4 71.0,410.6 71.6,410.8 72.3,411.0 72.9,411.1 73.5,411.2 74.1,411.3 74.7,411.3 75.4,411.3 76.0,411.3 76.6,411.2 77.2,411.1 77.9,411.0 78.5,410.9 79.1,410.7 79.7,410.6 80.3,410.4 81.0,410.2 81.6,410.0 82.2,409.8 82.8,409.6 83.4,409.3 84.1,409.0 84.7,408.7 85.3,408.4 85.9,408.0 86.6,407.7 87.2,407.3 87.8,406.9 88.4,406.5 89.0,406.0 89.7,405.5 90.3,405.0 90.9,404.4 91.5,403.8 92.2,403.1 92.8,402.4 93.4,401.7 94.0,400.9 94.6,399.7 95.3,398.4 95.9,396.9 96.5,395.5 97.1,394.1 97.8,392.9 98.4,391.9 99.0,391.2 99.6,390.4 100.2,389.7 100.9,389.1 101.5,388.5 102.1,387.9 102.7,387.4 103.3,386.8 104.0,386.3 104.6,385.7 105.2,385.1 105.8,384.5 106.5,383.8 107.1,383.1 107.7,382.4 108.3,381.7 108.9,381.1 109.6,380.5 110.2,380.0 110.8,379.6 111.4,379.2 112.1,378.8 112.7,378.4 113.3,378.1 113.9,377.8 114.5,377.5 115.2,377.3 115.8,377.2 116.4,377.2 117.0,377.3 117.6,377.4 118.3,377.5 118.9,377.7 119.5,377.9 120.1,378.1 120.8,378.3 121.4,378.6 122.0,378.9 122.6,379.3 123.2,379.8 123.9,380.4 124.5,381.0 125.1,381.7 125.7,382.4 126.4,383.1 127.0,383.8 127.6,384.6 128.2,385.6 128.8,386.6 129.5,387.6 130.1,388.7 130.7,389.8 131.3,390.9 132.0,392.1 132.6,393.3 133.2,394.6 133.8,395.9 134.4,397.3 135.1,398.6 135.7,399.9 136.3,401.2 136.9,402.4 137.5,403.6 138.2,404.7 138.8,405.9 139.4,407.0 140.0,408.1 140.7,409.1 141.3,410.0 141.9,410.8 142.5,411.7 143.1,412.5 143.8,413.3 144.4,414.0 145.0,414.7 145.6,415.4 146.3,416.0 146.9,416.6 147.5,417.1 148.1,417.6 148.7,418.2 149.4,418.7 150.0,419.3 150.6,419.8 151.2,420.2 151.8,420.6 152.5,420.9 153.1,421.0 153.7,421.1 154.3,421.0 155.0,420.8 155.6,420.6 156.2,420.4 156.8,420.2 157.4,419.9 158.1,419.7 158.7,419.4 159.3,419.1 159.9,418.9 160.6,418.6 161.2,418.4 161.8,418.1 162.4,417.8 163.0,417.4 163.7,417.1 164.3,416.6 164.9,416.2 165.5,415.8 166.2,415.3 166.8,414.8 167.4,414.3 168.0,413.8 168.6,413.2 169.3,412.6 169.9,412.1 170.5,411.5 171.1,410.9 171.7,410.3 172.4,409.7 173.0,409.1 173.6,408.5 174.2,407.9 174.9,407.4 175.5,406.8 176.1,406.2 176.7,405.7 177.3,405.0 178.0,404.4 178.6,404.0 179.2,403.6 179.8,403.2 180.5,403.1 181.1,403.3 181.7,403.7 182.3,404.4 182.9,405.1 183.6,406.0 184.2,407.0 184.8,408.3 185.4,409.8 186.0,411.4 186.7,413.7 187.3,415.8 187.9,417.6 188.5,419.3 189.2,421.0 189.8,422.6 190.4,424.2 191.0,425.8 191.6,427.3 192.3,428.7 192.9,430.0 193.5,431.0 194.1,432.0 194.8,432.7 195.4,433.4 196.0,434.0 196.6,434.5 197.2,435.0 197.9,435.4 198.5,435.8 199.1,436.1 199.7,436.4 200.4,436.6 201.0,436.9 201.6,437.1 202.2,437.3 202.8,437.4 203.5,437.6 204.1,437.8 204.7,437.9 205.3,438.0 205.9,438.2 206.6,438.3 207.2,438.4 207.8,438.5 208.4,438.6 209.1,438.7 209.7,438.8 210.3,438.9 210.9,439.0 211.5,439.1 212.2,439.2 212.8,439.2 213.4,439.3 214.0,439.4 214.7,439.4 215.3,439.5 215.9,439.5 216.5,439.6 217.1,439.6 217.8,439.6 218.4,439.7 219.0,439.7 219.6,439.7 220.2,439.7 220.9,439.8 221.5,439.8 222.1,439.8 222.7,439.8 223.4,439.8 224.0,439.9 224.6,439.9 225.2,439.9 225.8,439.9 226.5,440.0 227.1,440.0 227.7,440.0 228.3,440.0 229.0,440.0 229.6,440.0 230.2,440.1 230.8,440.1 231.4,440.1 232.1,440.1 232.7,440.1 233.3,440.1 233.9,440.2 234.6,440.2 235.2,440.2 235.8,440.2 236.4,440.2 237.0,440.2 237.7,440.3 238.3,440.3 238.9,440.3 239.5,440.3 240.1,440.3 240.8,440.3 241.4,440.3 242.0,440.3 242.6,440.4 243.3,440.4 243.9,440.4 244.5,440.4 245.1,440.4 245.7,440.4 246.4,440.4 247.0,440.4 247.6,440.4 248.2,440.5 248.9,440.5 249.5,440.5 250.1,440.5 250.7,440.5 251.3,440.5 252.0,440.5 252.6,440.5 253.2,440.5 253.8,440.5 254.4,440.5 255.1,440.5 255.7,440.5 256.3,440.6 256.9,440.6 257.6,440.6 258.2,440.6 258.8,440.6 259.4,440.6 260.0,440.6 260.7,440.6 261.3,440.6 261.9,440.6 262.5,440.6 263.2,440.6 263.8,440.6 264.4,440.6 265.0,440.6 265.6,440.6 266.3,440.6 266.9,440.6" fill="none" stroke="#e05555" stroke-width="0.9" stroke-linejoin="round" />
<path d="M39.3,336.7 39.9,341.2 40.5,345.7 41.2,350.1 41.8,354.6 42.4,359.0 43.0,363.3 43.7,367.5 44.3,371.6 44.9,375.6 45.5,379.0 46.1,382.0 46.8,384.7 47.4,387.2 48.0,389.2 48.6,390.8 49.2,392.1 49.9,393.4 50.5,394.4 51.1,395.4 51.7,396.3 52.4,397.0 53.0,397.7 53.6,398.3 54.2,398.9 54.8,399.4 55.5,399.9 56.1,400.3 56.7,400.8 57.3,401.2 58.0,401.7 58.6,402.2 59.2,402.7 59.8,403.2 60.4,403.7 61.1,404.2 61.7,404.7 62.3,405.2 62.9,405.7 63.6,406.1 64.2,406.6 64.8,407.1 65.4,407.6 66.0,408.1 66.7,408.6 67.3,409.1 67.9,409.5 68.5,409.8 69.1,410.0 69.8,410.1 70.4,410.2 71.0,410.2 71.6,410.3 72.3,410.4 72.9,410.4 73.5,410.4 74.1,410.4 74.7,410.5 75.4,410.4 76.0,410.4 76.6,410.3 77.2,410.3 77.9,410.1 78.5,410.0 79.1,409.9 79.7,409.7 80.3,409.6 81.0,409.5 81.6,409.3 82.2,409.1 82.8,408.9 83.4,408.7 84.1,408.4 84.7,408.2 85.3,407.9 85.9,407.6 86.6,407.3 87.2,406.9 87.8,406.5 88.4,406.1 89.0,405.7 89.7,405.2 90.3,404.6 90.9,404.0 91.5,403.3 92.2,402.6 92.8,401.9 93.4,401.1 94.0,400.1 94.6,398.8 95.3,397.3 95.9,395.6 96.5,393.8 97.1,392.2 97.8,390.8 98.4,389.6 99.0,388.6 99.6,387.7 100.2,386.9 100.9,386.0 101.5,385.3 102.1,384.5 102.7,383.8 103.3,383.1 104.0,382.4 104.6,381.7 105.2,380.9 105.8,380.2 106.5,379.4 107.1,378.5 107.7,377.7 108.3,376.9 108.9,376.2 109.6,375.5 110.2,374.9 110.8,374.5 111.4,374.0 112.1,373.5 112.7,373.1 113.3,372.7 113.9,372.4 114.5,372.1 115.2,371.9 115.8,371.8 116.4,371.8 117.0,371.9 117.6,372.0 118.3,372.1 118.9,372.3 119.5,372.5 120.1,372.8 120.8,373.0 121.4,373.3 122.0,373.7 122.6,374.2 123.2,374.8 123.9,375.4 124.5,376.1 125.1,376.8 125.7,377.6 126.4,378.4 127.0,379.3 127.6,380.2 128.2,381.3 128.8,382.4 129.5,383.6 130.1,384.9 130.7,386.2 131.3,387.5 132.0,388.8 132.6,390.2 133.2,391.7 133.8,393.2 134.4,394.8 135.1,396.4 135.7,397.9 136.3,399.4 136.9,400.9 137.5,402.3 138.2,403.7 138.8,405.1 139.4,406.5 140.0,407.8 140.7,408.9 141.3,410.0 141.9,411.1 142.5,412.1 143.1,413.0 143.8,414.0 144.4,414.8 145.0,415.7 145.6,416.5 146.3,417.3 146.9,418.0 147.5,418.7 148.1,419.4 148.7,420.2 149.4,420.9 150.0,421.7 150.6,422.4 151.2,423.0 151.8,423.6 152.5,424.1 153.1,424.5 153.7,424.7 154.3,424.9 155.0,424.9 155.6,424.9 156.2,424.9 156.8,424.8 157.4,424.8 158.1,424.8 158.7,424.8 159.3,424.8 159.9,424.7 160.6,424.7 161.2,424.7 161.8,424.7 162.4,424.6 163.0,424.5 163.7,424.4 164.3,424.2 164.9,424.0 165.5,423.8 166.2,423.6 166.8,423.4 167.4,423.2 168.0,423.0 168.6,422.8 169.3,422.7 169.9,422.5 170.5,422.3 171.1,422.2 171.7,422.0 172.4,421.9 173.0,421.7 173.6,421.5 174.2,421.4 174.9,421.3 175.5,421.2 176.1,421.1 176.7,421.0 177.3,420.9 178.0,420.8 178.6,420.7 179.2,420.7 179.8,420.7 180.5,420.8 181.1,421.1 181.7,421.4 182.3,421.8 182.9,422.3 183.6,422.7 184.2,423.3 184.8,424.1 185.4,424.9 186.0,425.8 186.7,426.7 187.3,427.5 187.9,428.3 188.5,429.0 189.2,429.8 189.8,430.5 190.4,431.2 191.0,431.9 191.6,432.6 192.3,433.2 192.9,433.8 193.5,434.3 194.1,434.7 194.8,435.0 195.4,435.4 196.0,435.7 196.6,436.0 197.2,436.3 197.9,436.6 198.5,436.8 199.1,437.0 199.7,437.2 200.4,437.4 201.0,437.6 201.6,437.7 202.2,437.8 202.8,438.0 203.5,438.1 204.1,438.2 204.7,438.3 205.3,438.5 205.9,438.6 206.6,438.7 207.2,438.8 207.8,438.9 208.4,439.0 209.1,439.1 209.7,439.2 210.3,439.2 210.9,439.3 211.5,439.4 212.2,439.5 212.8,439.5 213.4,439.6 214.0,439.6 214.7,439.7 215.3,439.7 215.9,439.8 216.5,439.8 217.1,439.8 217.8,439.8 218.4,439.9 219.0,439.9 219.6,439.9 220.2,439.9 220.9,439.9 221.5,440.0 222.1,440.0 222.7,440.0 223.4,440.0 224.0,440.0 224.6,440.0 225.2,440.1 225.8,440.1 226.5,440.1 227.1,440.1 227.7,440.1 228.3,440.1 229.0,440.2 229.6,440.2 230.2,440.2 230.8,440.2 231.4,440.2 232.1,440.2 232.7,440.2 233.3,440.3 233.9,440.3 234.6,440.3 235.2,440.3 235.8,440.3 236.4,440.3 237.0,440.3 237.7,440.3 238.3,440.4 238.9,440.4 239.5,440.4 240.1,440.4 240.8,440.4 241.4,440.4 242.0,440.4 242.6,440.4 243.3,440.4 243.9,440.4 244.5,440.4 245.1,440.5 245.7,440.5 246.4,440.5 247.0,440.5 247.6,440.5 248.2,440.5 248.9,440.5 249.5,440.5 250.1,440.5 250.7,440.5 251.3,440.5 252.0,440.5 252.6,440.5 253.2,440.5 253.8,440.5 254.4,440.6 255.1,440.6 255.7,440.6 256.3,440.6 256.9,440.6 257.6,440.6 258.2,440.6 258.8,440.6 259.4,440.6 260.0,440.6 260.7,440.6 261.3,440.6 261.9,440.6 262.5,440.6 263.2,440.6 263.8,440.6 264.4,440.6 265.0,440.6 265.6,440.6 266.3,440.6 266.9,440.6" fill="none" stroke="#555555" stroke-width="0.9" stroke-linejoin="round" />
</g>
<line x1="60.03" y1="440.60" x2="60.03" y2="443.90" stroke="#555" stroke-width="1"/>
<text x="60.03" y="454.60" text-anchor="middle" font-size="9.8" font-family="Liberation Serif" font-weight="bold" stroke="#111">300</text>
<line x1="101.48" y1="440.60" x2="101.48" y2="443.90" stroke="#555" stroke-width="1"/>
<text x="101.48" y="454.60" text-anchor="middle" font-size="9.8" font-family="Liberation Serif" font-weight="bold" stroke="#111">400</text>
<line x1="142.94" y1="440.60" x2="142.94" y2="443.90" stroke="#555" stroke-width="1"/>
<text x="142.94" y="454.60" text-anchor="middle" font-size="9.8" font-family="Liberation Serif" font-weight="bold" stroke="#111">500</text>
<line x1="184.39" y1="440.60" x2="184.39" y2="443.90" stroke="#555" stroke-width="1"/>
<text x="184.39" y="454.60" text-anchor="middle" font-size="9.8" font-family="Liberation Serif" font-weight="bold" stroke="#111">600</text>
<line x1="225.85" y1="440.60" x2="225.85" y2="443.90" stroke="#555" stroke-width="1"/>
<text x="225.85" y="454.60" text-anchor="middle" font-size="9.8" font-family="Liberation Serif" font-weight="bold" stroke="#111">700</text>
<line x1="267.30" y1="440.60" x2="267.30" y2="443.90" stroke="#555" stroke-width="1"/>
<text x="267.30" y="454.60" text-anchor="middle" font-size="9.8" font-family="Liberation Serif" font-weight="bold" stroke="#111">800</text>
<line x1="39.30" y1="440.60" x2="39.30" y2="442.40" stroke="#555" stroke-width="1"/>
<line x1="80.75" y1="440.60" x2="80.75" y2="442.40" stroke="#555" stroke-width="1"/>
<line x1="122.21" y1="440.60" x2="122.21" y2="442.40" stroke="#555" stroke-width="1"/>
<line x1="163.66" y1="440.60" x2="163.66" y2="442.40" stroke="#555" stroke-width="1"/>
<line x1="205.12" y1="440.60" x2="205.12" y2="442.40" stroke="#555" stroke-width="1"/>
<line x1="246.57" y1="440.60" x2="246.57" y2="442.40" stroke="#555" stroke-width="1"/>
<line x1="36.00" y1="440.60" x2="39.30" y2="440.60" stroke="#555" stroke-width="1"/>
<text x="32.30" y="443.83" text-anchor="end" font-size="9.8" font-family="Liberation Serif" font-weight="bold" stroke="#111">0.0</text>
<line x1="36.00" y1="402.68" x2="39.30" y2="402.68" stroke="#555" stroke-width="1"/>
<text x="32.30" y="405.91" text-anchor="end" font-size="9.8" font-family="Liberation Serif" font-weight="bold" stroke="#111">0.2</text>
<line x1="36.00" y1="364.76" x2="39.30" y2="364.76" stroke="#555" stroke-width="1"/>
<text x="32.30" y="367.99" text-anchor="end" font-size="9.8" font-family="Liberation Serif" font-weight="bold" stroke="#111">0.4</text>
<line x1="36.00" y1="326.84" x2="39.30" y2="326.84" stroke="#555" stroke-width="1"/>
<text x="32.30" y="330.07" text-anchor="end" font-size="9.8" font-family="Liberation Serif" font-weight="bold" stroke="#111">0.6</text>
<line x1="36.00" y1="288.92" x2="39.30" y2="288.92" stroke="#555" stroke-width="1"/>
<text x="32.30" y="292.15" text-anchor="end" font-size="9.8" font-family="Liberation Serif" font-weight="bold" stroke="#111">0.8</text>
<line x1="36.00" y1="251.00" x2="39.30" y2="251.00" stroke="#555" stroke-width="1"/>
<text x="32.30" y="254.23" text-anchor="end" font-size="9.8" font-family="Liberation Serif" font-weight="bold" stroke="#111">1.0</text>
<line x1="37.50" y1="421.64" x2="39.30" y2="421.64" stroke="#555" stroke-width="1"/>
<line x1="37.50" y1="383.72" x2="39.30" y2="383.72" stroke="#555" stroke-width="1"/>
<line x1="37.50" y1="345.80" x2="39.30" y2="345.80" stroke="#555" stroke-width="1"/>
<line x1="37.50" y1="307.88" x2="39.30" y2="307.88" stroke="#555" stroke-width="1"/>
<line x1="37.50" y1="269.96" x2="39.30" y2="269.96" stroke="#555" stroke-width="1"/>
<rect x="39.30" y="251.00" width="228.00" height="189.60" fill="none" stroke="#666" stroke-width="1.2"/>
<text x="153.2" y="471.8" text-anchor="middle" font-size="14.8" font-family="Liberation Serif" font-weight="bold" stroke="#111">Wavelength / nm</text>
<text transform="translate(16.3,333.7) rotate(-90)" text-anchor="middle" font-size="14.9" font-family="Liberation Serif" font-weight="bold" stroke="#111">Absorbance</text>
<text x="6.0" y="257.4" font-size="13.5" font-family="Liberation Serif" font-weight="bold" stroke="#111">C</text>
<line x1="196.3" y1="337.6" x2="196.3" y2="290" stroke="#222" stroke-width="1"/><path d="M194.6,291 L196.3,285.4 L198,291 Z" fill="#222"/>
<line x1="103.2" y1="364.1" x2="103.2" y2="375" stroke="#222" stroke-width="1.1"/><path d="M101.9,375 L103.2,379.8 L104.5,375 Z" fill="#222"/>
<text x="204.4" y="289.9" font-size="9.4" font-family="Liberation Serif" font-weight="bold" stroke="#111">40</text>
<text x="204.4" y="301.4" font-size="9.4" font-family="Liberation Serif" font-weight="bold" stroke="#111">38</text>
<text x="204.4" y="323.9" font-size="9.4" font-family="Liberation Serif" font-weight="bold" stroke="#111">4</text>
<text x="204.4" y="334.9" font-size="9.4" font-family="Liberation Serif" font-weight="bold" stroke="#111">2</text>
<text x="204.4" y="345.8" font-size="9.4" font-family="Liberation Serif" font-weight="bold" stroke="#111">0</text>
<text x="204.4" y="313.4" font-size="9.2" font-family="Liberation Serif" font-weight="bold" stroke="#111">... every 2 mins</text>
<line x1="313.00" y1="440.00" x2="313.00" y2="443.30" stroke="#555" stroke-width="1"/>
<text x="313.00" y="453.90" text-anchor="middle" font-size="9.3" font-family="Liberation Serif" font-weight="bold" stroke="#111">15</text>
<line x1="338.22" y1="440.00" x2="338.22" y2="443.30" stroke="#555" stroke-width="1"/>
<text x="338.22" y="453.90" text-anchor="middle" font-size="9.3" font-family="Liberation Serif" font-weight="bold" stroke="#111">20</text>
<line x1="363.44" y1="440.00" x2="363.44" y2="443.30" stroke="#555" stroke-width="1"/>
<text x="363.44" y="453.90" text-anchor="middle" font-size="9.3" font-family="Liberation Serif" font-weight="bold" stroke="#111">25</text>
<line x1="388.67" y1="440.00" x2="388.67" y2="443.30" stroke="#555" stroke-width="1"/>
<text x="388.67" y="453.90" text-anchor="middle" font-size="9.3" font-family="Liberation Serif" font-weight="bold" stroke="#111">30</text>
<line x1="413.89" y1="440.00" x2="413.89" y2="443.30" stroke="#555" stroke-width="1"/>
<text x="413.89" y="453.90" text-anchor="middle" font-size="9.3" font-family="Liberation Serif" font-weight="bold" stroke="#111">35</text>
<line x1="439.11" y1="440.00" x2="439.11" y2="443.30" stroke="#555" stroke-width="1"/>
<text x="439.11" y="453.90" text-anchor="middle" font-size="9.3" font-family="Liberation Serif" font-weight="bold" stroke="#111">40</text>
<line x1="464.33" y1="440.00" x2="464.33" y2="443.30" stroke="#555" stroke-width="1"/>
<text x="464.33" y="453.90" text-anchor="middle" font-size="9.3" font-family="Liberation Serif" font-weight="bold" stroke="#111">45</text>
<line x1="489.56" y1="440.00" x2="489.56" y2="443.30" stroke="#555" stroke-width="1"/>
<text x="489.56" y="453.90" text-anchor="middle" font-size="9.3" font-family="Liberation Serif" font-weight="bold" stroke="#111">50</text>
<line x1="514.78" y1="440.00" x2="514.78" y2="443.30" stroke="#555" stroke-width="1"/>
<text x="514.78" y="453.90" text-anchor="middle" font-size="9.3" font-family="Liberation Serif" font-weight="bold" stroke="#111">55</text>
<line x1="540.00" y1="440.00" x2="540.00" y2="443.30" stroke="#555" stroke-width="1"/>
<text x="540.00" y="453.90" text-anchor="middle" font-size="9.3" font-family="Liberation Serif" font-weight="bold" stroke="#111">60</text>
<line x1="325.61" y1="440.00" x2="325.61" y2="441.80" stroke="#555" stroke-width="1"/>
<line x1="350.83" y1="440.00" x2="350.83" y2="441.80" stroke="#555" stroke-width="1"/>
<line x1="376.06" y1="440.00" x2="376.06" y2="441.80" stroke="#555" stroke-width="1"/>
<line x1="401.28" y1="440.00" x2="401.28" y2="441.80" stroke="#555" stroke-width="1"/>
<line x1="426.50" y1="440.00" x2="426.50" y2="441.80" stroke="#555" stroke-width="1"/>
<line x1="451.72" y1="440.00" x2="451.72" y2="441.80" stroke="#555" stroke-width="1"/>
<line x1="476.94" y1="440.00" x2="476.94" y2="441.80" stroke="#555" stroke-width="1"/>
<line x1="502.17" y1="440.00" x2="502.17" y2="441.80" stroke="#555" stroke-width="1"/>
<line x1="527.39" y1="440.00" x2="527.39" y2="441.80" stroke="#555" stroke-width="1"/>
<line x1="309.70" y1="440.00" x2="313.00" y2="440.00" stroke="#555" stroke-width="1"/>
<text x="306.30" y="443.07" text-anchor="end" font-size="9.3" font-family="Liberation Serif" font-weight="bold" stroke="#111">0.0</text>
<line x1="309.70" y1="408.47" x2="313.00" y2="408.47" stroke="#555" stroke-width="1"/>
<text x="306.30" y="411.54" text-anchor="end" font-size="9.3" font-family="Liberation Serif" font-weight="bold" stroke="#111">0.2</text>
<line x1="309.70" y1="376.93" x2="313.00" y2="376.93" stroke="#555" stroke-width="1"/>
<text x="306.30" y="380.00" text-anchor="end" font-size="9.3" font-family="Liberation Serif" font-weight="bold" stroke="#111">0.4</text>
<line x1="309.70" y1="345.40" x2="313.00" y2="345.40" stroke="#555" stroke-width="1"/>
<text x="306.30" y="348.47" text-anchor="end" font-size="9.3" font-family="Liberation Serif" font-weight="bold" stroke="#111">0.6</text>
<line x1="309.70" y1="313.87" x2="313.00" y2="313.87" stroke="#555" stroke-width="1"/>
<text x="306.30" y="316.94" text-anchor="end" font-size="9.3" font-family="Liberation Serif" font-weight="bold" stroke="#111">0.8</text>
<line x1="309.70" y1="282.33" x2="313.00" y2="282.33" stroke="#555" stroke-width="1"/>
<text x="306.30" y="285.40" text-anchor="end" font-size="9.3" font-family="Liberation Serif" font-weight="bold" stroke="#111">1.0</text>
<line x1="309.70" y1="250.80" x2="313.00" y2="250.80" stroke="#555" stroke-width="1"/>
<text x="306.30" y="253.87" text-anchor="end" font-size="9.3" font-family="Liberation Serif" font-weight="bold" stroke="#111">1.2</text>
<line x1="311.20" y1="424.23" x2="313.00" y2="424.23" stroke="#555" stroke-width="1"/>
<line x1="311.20" y1="392.70" x2="313.00" y2="392.70" stroke="#555" stroke-width="1"/>
<line x1="311.20" y1="361.17" x2="313.00" y2="361.17" stroke="#555" stroke-width="1"/>
<line x1="311.20" y1="329.63" x2="313.00" y2="329.63" stroke="#555" stroke-width="1"/>
<line x1="311.20" y1="298.10" x2="313.00" y2="298.10" stroke="#555" stroke-width="1"/>
<line x1="311.20" y1="266.57" x2="313.00" y2="266.57" stroke="#555" stroke-width="1"/>
<rect x="313.00" y="250.80" width="227.00" height="189.20" fill="none" stroke="#808080" stroke-width="1.5"/>
<polyline points="338.2,292.3 363.3,287.4 388.5,275 413.6,271.9 439.1,276.2 464.5,273.8 489.6,276.9 514.5,279.5" fill="none" stroke="#555" stroke-width="0.9"/>
<defs><radialGradient id="ball" cx="0.36" cy="0.3" r="0.7" fx="0.36" fy="0.3"><stop offset="0" stop-color="#ffffff"/><stop offset="0.12" stop-color="#d0d0d0"/><stop offset="0.32" stop-color="#3a3a3a"/><stop offset="0.6" stop-color="#0a0a0a"/><stop offset="1" stop-color="#000"/></radialGradient></defs>
<circle cx="338.2" cy="292.3" r="2.95" fill="url(#ball)"/>
<circle cx="363.3" cy="287.4" r="2.95" fill="url(#ball)"/>
<circle cx="388.5" cy="275" r="2.95" fill="url(#ball)"/>
<circle cx="413.6" cy="271.9" r="2.95" fill="url(#ball)"/>
<circle cx="439.1" cy="276.2" r="2.95" fill="url(#ball)"/>
<circle cx="464.5" cy="273.8" r="2.95" fill="url(#ball)"/>
<circle cx="489.6" cy="276.9" r="2.95" fill="url(#ball)"/>
<circle cx="514.5" cy="279.5" r="2.95" fill="url(#ball)"/>
<text x="426.9" y="471.6" text-anchor="middle" font-size="14.6" font-family="Liberation Serif" font-weight="bold" stroke="#111">Temperature / <tspan font-size="9.6" dy="-5.6">o</tspan><tspan dy="5.6">C</tspan></text>
<text transform="translate(290,336.6) rotate(-90)" text-anchor="middle" font-size="14.5" font-family="Liberation Serif" font-weight="bold" stroke="#111">Absorbance</text>
<text x="280.0" y="258.4" font-size="13.8" font-family="Liberation Serif" font-weight="bold" stroke="#111">D</text>
</svg></body></html>
